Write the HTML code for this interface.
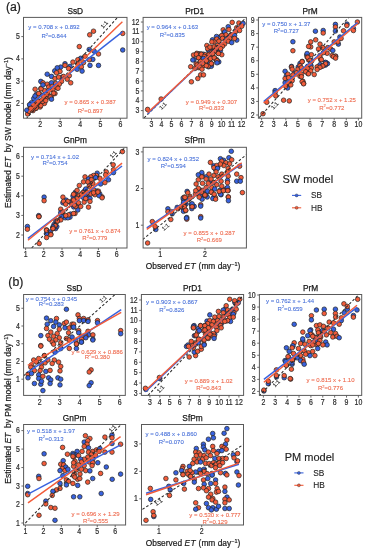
<!DOCTYPE html><html><head><meta charset="utf-8"><style>html,body{margin:0;padding:0;background:#fff;}svg{display:block;will-change:transform;filter:blur(0.3px);}</style></head><body>
<svg width="365" height="550" viewBox="0 0 365 550" font-family='"Liberation Sans", sans-serif'>
<rect width="365" height="550" fill="#fff"/>
<clipPath id="ca1"><rect x="23.5" y="17.4" width="103.50" height="100.80"/></clipPath>
<g clip-path="url(#ca1)">
<circle cx="65.0" cy="63.7" r="2.3" fill="#3862de" stroke="#222" stroke-width="0.7"/>
<circle cx="54.7" cy="70.9" r="2.3" fill="#3862de" stroke="#222" stroke-width="0.7"/>
<circle cx="37.6" cy="105.1" r="2.3" fill="#3862de" stroke="#222" stroke-width="0.7"/>
<circle cx="29.9" cy="105.0" r="2.3" fill="#3862de" stroke="#222" stroke-width="0.7"/>
<circle cx="36.5" cy="105.1" r="2.3" fill="#3862de" stroke="#222" stroke-width="0.7"/>
<circle cx="41.3" cy="103.0" r="2.3" fill="#3862de" stroke="#222" stroke-width="0.7"/>
<circle cx="34.4" cy="102.7" r="2.3" fill="#3862de" stroke="#222" stroke-width="0.7"/>
<circle cx="51.4" cy="88.5" r="2.3" fill="#3862de" stroke="#222" stroke-width="0.7"/>
<circle cx="54.2" cy="84.4" r="2.3" fill="#3862de" stroke="#222" stroke-width="0.7"/>
<circle cx="122.7" cy="33.4" r="2.3" fill="#f25c3a" stroke="#222" stroke-width="0.7"/>
<circle cx="122.7" cy="50.0" r="2.3" fill="#3862de" stroke="#222" stroke-width="0.7"/>
<circle cx="93.5" cy="31.2" r="2.3" fill="#f25c3a" stroke="#222" stroke-width="0.7"/>
<circle cx="89.7" cy="34.8" r="2.3" fill="#f25c3a" stroke="#222" stroke-width="0.7"/>
<circle cx="79.3" cy="46.6" r="2.3" fill="#f25c3a" stroke="#222" stroke-width="0.7"/>
<circle cx="89.2" cy="49.5" r="2.3" fill="#3862de" stroke="#222" stroke-width="0.7"/>
<circle cx="94.2" cy="51.2" r="2.3" fill="#3862de" stroke="#222" stroke-width="0.7"/>
<circle cx="98.5" cy="54.0" r="2.3" fill="#f25c3a" stroke="#222" stroke-width="0.7"/>
<circle cx="85.0" cy="56.2" r="2.3" fill="#f25c3a" stroke="#222" stroke-width="0.7"/>
<circle cx="80.7" cy="58.3" r="2.3" fill="#3862de" stroke="#222" stroke-width="0.7"/>
<circle cx="77.8" cy="59.7" r="2.3" fill="#f25c3a" stroke="#222" stroke-width="0.7"/>
<circle cx="92.8" cy="59.4" r="2.3" fill="#3862de" stroke="#222" stroke-width="0.7"/>
<circle cx="89.2" cy="59.7" r="2.3" fill="#f25c3a" stroke="#222" stroke-width="0.7"/>
<circle cx="83.5" cy="62.6" r="2.3" fill="#f25c3a" stroke="#222" stroke-width="0.7"/>
<circle cx="90.0" cy="65.4" r="2.3" fill="#3862de" stroke="#222" stroke-width="0.7"/>
<circle cx="98.5" cy="65.4" r="2.3" fill="#3862de" stroke="#222" stroke-width="0.7"/>
<circle cx="77.8" cy="64.0" r="2.3" fill="#f25c3a" stroke="#222" stroke-width="0.7"/>
<circle cx="81.4" cy="66.9" r="2.3" fill="#f25c3a" stroke="#222" stroke-width="0.7"/>
<circle cx="82.1" cy="71.1" r="2.3" fill="#3862de" stroke="#222" stroke-width="0.7"/>
<circle cx="77.1" cy="69.3" r="2.3" fill="#3862de" stroke="#222" stroke-width="0.7"/>
<circle cx="72.9" cy="62.1" r="2.3" fill="#f25c3a" stroke="#222" stroke-width="0.7"/>
<circle cx="65.0" cy="65.4" r="2.3" fill="#f25c3a" stroke="#222" stroke-width="0.7"/>
<circle cx="70.0" cy="66.4" r="2.3" fill="#3862de" stroke="#222" stroke-width="0.7"/>
<circle cx="60.7" cy="67.1" r="2.3" fill="#3862de" stroke="#222" stroke-width="0.7"/>
<circle cx="57.2" cy="67.8" r="2.3" fill="#3862de" stroke="#222" stroke-width="0.7"/>
<circle cx="60.0" cy="71.4" r="2.3" fill="#f25c3a" stroke="#222" stroke-width="0.7"/>
<circle cx="56.5" cy="72.8" r="2.3" fill="#f25c3a" stroke="#222" stroke-width="0.7"/>
<circle cx="47.2" cy="74.2" r="2.3" fill="#3862de" stroke="#222" stroke-width="0.7"/>
<circle cx="51.5" cy="76.4" r="2.3" fill="#3862de" stroke="#222" stroke-width="0.7"/>
<circle cx="55.0" cy="78.5" r="2.3" fill="#f25c3a" stroke="#222" stroke-width="0.7"/>
<circle cx="62.2" cy="77.1" r="2.3" fill="#3862de" stroke="#222" stroke-width="0.7"/>
<circle cx="68.6" cy="68.5" r="2.3" fill="#f25c3a" stroke="#222" stroke-width="0.7"/>
<circle cx="69.3" cy="75.7" r="2.3" fill="#f25c3a" stroke="#222" stroke-width="0.7"/>
<circle cx="67.2" cy="79.2" r="2.3" fill="#f25c3a" stroke="#222" stroke-width="0.7"/>
<circle cx="70.7" cy="82.8" r="2.3" fill="#f25c3a" stroke="#222" stroke-width="0.7"/>
<circle cx="61.5" cy="81.4" r="2.3" fill="#f25c3a" stroke="#222" stroke-width="0.7"/>
<circle cx="40.8" cy="81.4" r="2.3" fill="#3862de" stroke="#222" stroke-width="0.7"/>
<circle cx="43.0" cy="82.8" r="2.3" fill="#f25c3a" stroke="#222" stroke-width="0.7"/>
<circle cx="47.2" cy="84.2" r="2.3" fill="#f25c3a" stroke="#222" stroke-width="0.7"/>
<circle cx="51.5" cy="82.8" r="2.3" fill="#3862de" stroke="#222" stroke-width="0.7"/>
<circle cx="59.3" cy="84.2" r="2.3" fill="#f25c3a" stroke="#222" stroke-width="0.7"/>
<circle cx="57.2" cy="87.8" r="2.3" fill="#f25c3a" stroke="#222" stroke-width="0.7"/>
<circle cx="48.6" cy="87.1" r="2.3" fill="#f25c3a" stroke="#222" stroke-width="0.7"/>
<circle cx="40.8" cy="88.5" r="2.3" fill="#f25c3a" stroke="#222" stroke-width="0.7"/>
<circle cx="44.4" cy="90.6" r="2.3" fill="#f25c3a" stroke="#222" stroke-width="0.7"/>
<circle cx="52.9" cy="89.9" r="2.3" fill="#f25c3a" stroke="#222" stroke-width="0.7"/>
<circle cx="55.0" cy="93.5" r="2.3" fill="#f25c3a" stroke="#222" stroke-width="0.7"/>
<circle cx="47.9" cy="94.2" r="2.3" fill="#f25c3a" stroke="#222" stroke-width="0.7"/>
<circle cx="51.5" cy="96.3" r="2.3" fill="#f25c3a" stroke="#222" stroke-width="0.7"/>
<circle cx="36.5" cy="94.2" r="2.3" fill="#3862de" stroke="#222" stroke-width="0.7"/>
<circle cx="38.0" cy="96.3" r="2.3" fill="#f25c3a" stroke="#222" stroke-width="0.7"/>
<circle cx="45.8" cy="98.5" r="2.3" fill="#f25c3a" stroke="#222" stroke-width="0.7"/>
<circle cx="41.5" cy="100.6" r="2.3" fill="#f25c3a" stroke="#222" stroke-width="0.7"/>
<circle cx="33.7" cy="98.5" r="2.3" fill="#3862de" stroke="#222" stroke-width="0.7"/>
<circle cx="35.8" cy="102.0" r="2.3" fill="#f25c3a" stroke="#222" stroke-width="0.7"/>
<circle cx="38.7" cy="103.4" r="2.3" fill="#f25c3a" stroke="#222" stroke-width="0.7"/>
<circle cx="44.4" cy="103.4" r="2.3" fill="#f25c3a" stroke="#222" stroke-width="0.7"/>
<circle cx="30.1" cy="105.6" r="2.3" fill="#3862de" stroke="#222" stroke-width="0.7"/>
<circle cx="32.3" cy="106.3" r="2.3" fill="#f25c3a" stroke="#222" stroke-width="0.7"/>
<circle cx="28.7" cy="109.9" r="2.3" fill="#f25c3a" stroke="#222" stroke-width="0.7"/>
<circle cx="35.8" cy="108.4" r="2.3" fill="#f25c3a" stroke="#222" stroke-width="0.7"/>
<circle cx="40.1" cy="107.0" r="2.3" fill="#f25c3a" stroke="#222" stroke-width="0.7"/>
<circle cx="33.0" cy="110.6" r="2.3" fill="#f25c3a" stroke="#222" stroke-width="0.7"/>
<circle cx="31.5" cy="102.7" r="2.3" fill="#3862de" stroke="#222" stroke-width="0.7"/>
<circle cx="27.6" cy="114.0" r="2.3" fill="#f25c3a" stroke="#222" stroke-width="0.7"/>
<circle cx="29.0" cy="111.3" r="2.3" fill="#f25c3a" stroke="#222" stroke-width="0.7"/>
<circle cx="26.8" cy="110.2" r="2.3" fill="#3862de" stroke="#222" stroke-width="0.7"/>
<circle cx="31.8" cy="109.7" r="2.3" fill="#f25c3a" stroke="#222" stroke-width="0.7"/>
<circle cx="34.0" cy="105.3" r="2.3" fill="#f25c3a" stroke="#222" stroke-width="0.7"/>
<circle cx="37.2" cy="104.7" r="2.3" fill="#f25c3a" stroke="#222" stroke-width="0.7"/>
<circle cx="39.4" cy="104.2" r="2.3" fill="#f25c3a" stroke="#222" stroke-width="0.7"/>
<circle cx="36.2" cy="108.0" r="2.3" fill="#f25c3a" stroke="#222" stroke-width="0.7"/>
<circle cx="46.0" cy="98.7" r="2.3" fill="#f25c3a" stroke="#222" stroke-width="0.7"/>
<circle cx="50.4" cy="97.0" r="2.3" fill="#f25c3a" stroke="#222" stroke-width="0.7"/>
<circle cx="53.7" cy="93.2" r="2.3" fill="#f25c3a" stroke="#222" stroke-width="0.7"/>
<circle cx="58.0" cy="88.3" r="2.3" fill="#f25c3a" stroke="#222" stroke-width="0.7"/>
<circle cx="41.1" cy="88.8" r="2.3" fill="#f25c3a" stroke="#222" stroke-width="0.7"/>
<circle cx="29.6" cy="104.7" r="2.3" fill="#3862de" stroke="#222" stroke-width="0.7"/>
<circle cx="35.0" cy="96.0" r="2.3" fill="#3862de" stroke="#222" stroke-width="0.7"/>
<circle cx="39.4" cy="93.8" r="2.3" fill="#f25c3a" stroke="#222" stroke-width="0.7"/>
<circle cx="42.7" cy="101.4" r="2.3" fill="#f25c3a" stroke="#222" stroke-width="0.7"/>
<circle cx="51.5" cy="99.2" r="2.3" fill="#3862de" stroke="#222" stroke-width="0.7"/>
<circle cx="35.1" cy="89.2" r="2.3" fill="#f25c3a" stroke="#222" stroke-width="0.7"/>
<circle cx="38.7" cy="93.5" r="2.3" fill="#f25c3a" stroke="#222" stroke-width="0.7"/>
<circle cx="43.0" cy="95.6" r="2.3" fill="#f25c3a" stroke="#222" stroke-width="0.7"/>
<circle cx="38.0" cy="101.3" r="2.3" fill="#f25c3a" stroke="#222" stroke-width="0.7"/>
<circle cx="33.0" cy="104.2" r="2.3" fill="#f25c3a" stroke="#222" stroke-width="0.7"/>
<circle cx="48.6" cy="90.6" r="2.3" fill="#f25c3a" stroke="#222" stroke-width="0.7"/>
<circle cx="52.2" cy="86.4" r="2.3" fill="#f25c3a" stroke="#222" stroke-width="0.7"/>
<circle cx="55.8" cy="83.5" r="2.3" fill="#f25c3a" stroke="#222" stroke-width="0.7"/>
<circle cx="63.6" cy="76.4" r="2.3" fill="#f25c3a" stroke="#222" stroke-width="0.7"/>
<circle cx="58.6" cy="77.1" r="2.3" fill="#f25c3a" stroke="#222" stroke-width="0.7"/>
<circle cx="42.9" cy="84.9" r="2.3" fill="#3862de" stroke="#222" stroke-width="0.7"/>
<circle cx="45.8" cy="100.6" r="2.3" fill="#f25c3a" stroke="#222" stroke-width="0.7"/>
<circle cx="40.8" cy="105.6" r="2.3" fill="#f25c3a" stroke="#222" stroke-width="0.7"/>
<circle cx="30.8" cy="108.4" r="2.3" fill="#f25c3a" stroke="#222" stroke-width="0.7"/>
<line x1="-60.25" y1="214.75" x2="401.36" y2="-297.46" stroke="#2a2a2a" stroke-width="1.05" stroke-dasharray="2.6,2.0"/>
<line x1="28.46" y1="105.69" x2="122.39" y2="31.90" stroke="#3862de" stroke-width="1.45"/>
<line x1="28.46" y1="111.97" x2="122.39" y2="21.81" stroke="#f25c3a" stroke-width="1.45"/>
<text transform="translate(104.19999999999999,24.6) rotate(-48.0)" font-size="5.6" text-anchor="middle" dominant-baseline="central" fill="#333" stroke="#333" stroke-width="0.15">1:1</text>
</g>
<rect x="23.5" y="17.4" width="103.50" height="100.80" fill="none" stroke="#5a5a5a" stroke-width="1"/>
<line x1="40.10" y1="118.2" x2="40.10" y2="120.40" stroke="#5a5a5a" stroke-width="0.9"/>
<text transform="translate(40.10,127.30) scale(0.83,1)" font-size="8.4" text-anchor="middle" fill="#2e2e2e" stroke="#2e2e2e" stroke-width="0.22">2</text>
<line x1="60.17" y1="118.2" x2="60.17" y2="120.40" stroke="#5a5a5a" stroke-width="0.9"/>
<text transform="translate(60.17,127.30) scale(0.83,1)" font-size="8.4" text-anchor="middle" fill="#2e2e2e" stroke="#2e2e2e" stroke-width="0.22">3</text>
<line x1="80.24" y1="118.2" x2="80.24" y2="120.40" stroke="#5a5a5a" stroke-width="0.9"/>
<text transform="translate(80.24,127.30) scale(0.83,1)" font-size="8.4" text-anchor="middle" fill="#2e2e2e" stroke="#2e2e2e" stroke-width="0.22">4</text>
<line x1="100.31" y1="118.2" x2="100.31" y2="120.40" stroke="#5a5a5a" stroke-width="0.9"/>
<text transform="translate(100.31,127.30) scale(0.83,1)" font-size="8.4" text-anchor="middle" fill="#2e2e2e" stroke="#2e2e2e" stroke-width="0.22">5</text>
<line x1="120.38" y1="118.2" x2="120.38" y2="120.40" stroke="#5a5a5a" stroke-width="0.9"/>
<text transform="translate(120.38,127.30) scale(0.83,1)" font-size="8.4" text-anchor="middle" fill="#2e2e2e" stroke="#2e2e2e" stroke-width="0.22">6</text>
<line x1="21.30" y1="103.40" x2="23.5" y2="103.40" stroke="#5a5a5a" stroke-width="0.9"/>
<text transform="translate(19.80,106.00) scale(0.83,1)" font-size="8.4" text-anchor="end" fill="#2e2e2e" stroke="#2e2e2e" stroke-width="0.22">2</text>
<line x1="21.30" y1="81.13" x2="23.5" y2="81.13" stroke="#5a5a5a" stroke-width="0.9"/>
<text transform="translate(19.80,83.73) scale(0.83,1)" font-size="8.4" text-anchor="end" fill="#2e2e2e" stroke="#2e2e2e" stroke-width="0.22">3</text>
<line x1="21.30" y1="58.86" x2="23.5" y2="58.86" stroke="#5a5a5a" stroke-width="0.9"/>
<text transform="translate(19.80,61.46) scale(0.83,1)" font-size="8.4" text-anchor="end" fill="#2e2e2e" stroke="#2e2e2e" stroke-width="0.22">4</text>
<line x1="21.30" y1="36.59" x2="23.5" y2="36.59" stroke="#5a5a5a" stroke-width="0.9"/>
<text transform="translate(19.80,39.19) scale(0.83,1)" font-size="8.4" text-anchor="end" fill="#2e2e2e" stroke="#2e2e2e" stroke-width="0.22">5</text>
<text x="75.25" y="13.50" font-size="8.3" text-anchor="middle" fill="#1a1a1a" stroke="#1a1a1a" stroke-width="0.25">SsD</text>
<text x="54.0" y="29.10" font-size="6.0" text-anchor="middle" fill="#4a72da" stroke="#4a72da" stroke-width="0.1">y = 0.708 x + 0.892</text>
<text x="54.0" y="37.70" font-size="6.0" text-anchor="middle" fill="#4a72da" stroke="#4a72da" stroke-width="0.1">R<tspan font-size="4" dy="-2.2">2</tspan><tspan dy="2.2">=</tspan>0.844</text>
<text x="90.2" y="104.30" font-size="6.0" text-anchor="middle" fill="#ee6a4e" stroke="#ee6a4e" stroke-width="0.1">y = 0.865 x + 0.387</text>
<text x="90.2" y="112.70" font-size="6.0" text-anchor="middle" fill="#ee6a4e" stroke="#ee6a4e" stroke-width="0.1">R<tspan font-size="4" dy="-2.2">2</tspan><tspan dy="2.2">=</tspan>0.897</text>
<clipPath id="ca2"><rect x="143.1" y="17.4" width="103.30" height="100.80"/></clipPath>
<g clip-path="url(#ca2)">
<circle cx="229.7" cy="36.6" r="2.3" fill="#3862de" stroke="#222" stroke-width="0.7"/>
<circle cx="223.5" cy="34.3" r="2.3" fill="#3862de" stroke="#222" stroke-width="0.7"/>
<circle cx="224.1" cy="36.5" r="2.3" fill="#3862de" stroke="#222" stroke-width="0.7"/>
<circle cx="236.8" cy="40.1" r="2.3" fill="#3862de" stroke="#222" stroke-width="0.7"/>
<circle cx="229.3" cy="40.7" r="2.3" fill="#3862de" stroke="#222" stroke-width="0.7"/>
<circle cx="220.2" cy="36.9" r="2.3" fill="#3862de" stroke="#222" stroke-width="0.7"/>
<circle cx="216.5" cy="36.5" r="2.3" fill="#3862de" stroke="#222" stroke-width="0.7"/>
<circle cx="210.7" cy="50.3" r="2.3" fill="#3862de" stroke="#222" stroke-width="0.7"/>
<circle cx="199.0" cy="53.8" r="2.3" fill="#3862de" stroke="#222" stroke-width="0.7"/>
<circle cx="203.4" cy="54.2" r="2.3" fill="#3862de" stroke="#222" stroke-width="0.7"/>
<circle cx="205.8" cy="56.8" r="2.3" fill="#3862de" stroke="#222" stroke-width="0.7"/>
<circle cx="212.1" cy="57.5" r="2.3" fill="#3862de" stroke="#222" stroke-width="0.7"/>
<circle cx="208.8" cy="62.1" r="2.3" fill="#3862de" stroke="#222" stroke-width="0.7"/>
<circle cx="203.3" cy="65.2" r="2.3" fill="#3862de" stroke="#222" stroke-width="0.7"/>
<circle cx="208.5" cy="66.8" r="2.3" fill="#3862de" stroke="#222" stroke-width="0.7"/>
<circle cx="211.3" cy="66.3" r="2.3" fill="#3862de" stroke="#222" stroke-width="0.7"/>
<circle cx="212.7" cy="57.1" r="2.3" fill="#3862de" stroke="#222" stroke-width="0.7"/>
<circle cx="218.8" cy="61.9" r="2.3" fill="#3862de" stroke="#222" stroke-width="0.7"/>
<circle cx="216.7" cy="51.8" r="2.3" fill="#3862de" stroke="#222" stroke-width="0.7"/>
<circle cx="214.2" cy="47.9" r="2.3" fill="#3862de" stroke="#222" stroke-width="0.7"/>
<circle cx="232.2" cy="22.4" r="2.3" fill="#f25c3a" stroke="#222" stroke-width="0.7"/>
<circle cx="238.9" cy="23.0" r="2.3" fill="#f25c3a" stroke="#222" stroke-width="0.7"/>
<circle cx="243.1" cy="23.4" r="2.3" fill="#3862de" stroke="#222" stroke-width="0.7"/>
<circle cx="241.7" cy="26.3" r="2.3" fill="#f25c3a" stroke="#222" stroke-width="0.7"/>
<circle cx="236.7" cy="27.7" r="2.3" fill="#f25c3a" stroke="#222" stroke-width="0.7"/>
<circle cx="228.2" cy="26.7" r="2.3" fill="#3862de" stroke="#222" stroke-width="0.7"/>
<circle cx="228.9" cy="29.5" r="2.3" fill="#f25c3a" stroke="#222" stroke-width="0.7"/>
<circle cx="223.2" cy="29.8" r="2.3" fill="#f25c3a" stroke="#222" stroke-width="0.7"/>
<circle cx="239.6" cy="30.5" r="2.3" fill="#f25c3a" stroke="#222" stroke-width="0.7"/>
<circle cx="224.6" cy="32.0" r="2.3" fill="#3862de" stroke="#222" stroke-width="0.7"/>
<circle cx="235.3" cy="32.0" r="2.3" fill="#f25c3a" stroke="#222" stroke-width="0.7"/>
<circle cx="231.0" cy="34.8" r="2.3" fill="#f25c3a" stroke="#222" stroke-width="0.7"/>
<circle cx="226.0" cy="34.8" r="2.3" fill="#f25c3a" stroke="#222" stroke-width="0.7"/>
<circle cx="234.6" cy="35.5" r="2.3" fill="#3862de" stroke="#222" stroke-width="0.7"/>
<circle cx="221.8" cy="35.5" r="2.3" fill="#f25c3a" stroke="#222" stroke-width="0.7"/>
<circle cx="234.6" cy="38.4" r="2.3" fill="#f25c3a" stroke="#222" stroke-width="0.7"/>
<circle cx="229.6" cy="38.4" r="2.3" fill="#f25c3a" stroke="#222" stroke-width="0.7"/>
<circle cx="222.5" cy="38.4" r="2.3" fill="#f25c3a" stroke="#222" stroke-width="0.7"/>
<circle cx="212.5" cy="39.8" r="2.3" fill="#3862de" stroke="#222" stroke-width="0.7"/>
<circle cx="216.8" cy="39.1" r="2.3" fill="#f25c3a" stroke="#222" stroke-width="0.7"/>
<circle cx="214.0" cy="41.9" r="2.3" fill="#f25c3a" stroke="#222" stroke-width="0.7"/>
<circle cx="211.8" cy="41.9" r="2.3" fill="#f25c3a" stroke="#222" stroke-width="0.7"/>
<circle cx="218.9" cy="41.2" r="2.3" fill="#f25c3a" stroke="#222" stroke-width="0.7"/>
<circle cx="228.2" cy="41.2" r="2.3" fill="#f25c3a" stroke="#222" stroke-width="0.7"/>
<circle cx="231.7" cy="42.6" r="2.3" fill="#3862de" stroke="#222" stroke-width="0.7"/>
<circle cx="224.6" cy="44.0" r="2.3" fill="#f25c3a" stroke="#222" stroke-width="0.7"/>
<circle cx="217.5" cy="45.5" r="2.3" fill="#f25c3a" stroke="#222" stroke-width="0.7"/>
<circle cx="222.5" cy="46.2" r="2.3" fill="#f25c3a" stroke="#222" stroke-width="0.7"/>
<circle cx="206.8" cy="45.5" r="2.3" fill="#f25c3a" stroke="#222" stroke-width="0.7"/>
<circle cx="210.4" cy="47.6" r="2.3" fill="#f25c3a" stroke="#222" stroke-width="0.7"/>
<circle cx="214.0" cy="46.9" r="2.3" fill="#f25c3a" stroke="#222" stroke-width="0.7"/>
<circle cx="218.9" cy="49.0" r="2.3" fill="#f25c3a" stroke="#222" stroke-width="0.7"/>
<circle cx="214.7" cy="51.2" r="2.3" fill="#f25c3a" stroke="#222" stroke-width="0.7"/>
<circle cx="209.7" cy="51.9" r="2.3" fill="#f25c3a" stroke="#222" stroke-width="0.7"/>
<circle cx="220.4" cy="50.5" r="2.3" fill="#3862de" stroke="#222" stroke-width="0.7"/>
<circle cx="218.2" cy="53.3" r="2.3" fill="#f25c3a" stroke="#222" stroke-width="0.7"/>
<circle cx="221.8" cy="54.7" r="2.3" fill="#f25c3a" stroke="#222" stroke-width="0.7"/>
<circle cx="208.2" cy="49.8" r="2.3" fill="#3862de" stroke="#222" stroke-width="0.7"/>
<circle cx="201.1" cy="54.0" r="2.3" fill="#f25c3a" stroke="#222" stroke-width="0.7"/>
<circle cx="196.8" cy="53.3" r="2.3" fill="#f25c3a" stroke="#222" stroke-width="0.7"/>
<circle cx="205.4" cy="54.7" r="2.3" fill="#f25c3a" stroke="#222" stroke-width="0.7"/>
<circle cx="208.2" cy="56.9" r="2.3" fill="#f25c3a" stroke="#222" stroke-width="0.7"/>
<circle cx="212.5" cy="55.5" r="2.3" fill="#f25c3a" stroke="#222" stroke-width="0.7"/>
<circle cx="214.7" cy="58.3" r="2.3" fill="#f25c3a" stroke="#222" stroke-width="0.7"/>
<circle cx="216.8" cy="61.2" r="2.3" fill="#3862de" stroke="#222" stroke-width="0.7"/>
<circle cx="216.8" cy="59.7" r="2.3" fill="#f25c3a" stroke="#222" stroke-width="0.7"/>
<circle cx="198.3" cy="57.6" r="2.3" fill="#f25c3a" stroke="#222" stroke-width="0.7"/>
<circle cx="202.5" cy="59.0" r="2.3" fill="#f25c3a" stroke="#222" stroke-width="0.7"/>
<circle cx="209.7" cy="59.7" r="2.3" fill="#f25c3a" stroke="#222" stroke-width="0.7"/>
<circle cx="205.4" cy="62.6" r="2.3" fill="#f25c3a" stroke="#222" stroke-width="0.7"/>
<circle cx="199.7" cy="62.6" r="2.3" fill="#f25c3a" stroke="#222" stroke-width="0.7"/>
<circle cx="211.8" cy="64.0" r="2.3" fill="#f25c3a" stroke="#222" stroke-width="0.7"/>
<circle cx="194.0" cy="59.7" r="2.3" fill="#3862de" stroke="#222" stroke-width="0.7"/>
<circle cx="196.1" cy="64.0" r="2.3" fill="#f25c3a" stroke="#222" stroke-width="0.7"/>
<circle cx="202.5" cy="66.1" r="2.3" fill="#f25c3a" stroke="#222" stroke-width="0.7"/>
<circle cx="208.2" cy="66.1" r="2.3" fill="#f25c3a" stroke="#222" stroke-width="0.7"/>
<circle cx="198.3" cy="67.6" r="2.3" fill="#f25c3a" stroke="#222" stroke-width="0.7"/>
<circle cx="191.4" cy="81.8" r="2.3" fill="#f25c3a" stroke="#222" stroke-width="0.7"/>
<circle cx="197.8" cy="78.5" r="2.3" fill="#f25c3a" stroke="#222" stroke-width="0.7"/>
<circle cx="200.6" cy="74.9" r="2.3" fill="#f25c3a" stroke="#222" stroke-width="0.7"/>
<circle cx="203.5" cy="74.9" r="2.3" fill="#f25c3a" stroke="#222" stroke-width="0.7"/>
<circle cx="190.7" cy="66.7" r="2.3" fill="#f25c3a" stroke="#222" stroke-width="0.7"/>
<circle cx="192.8" cy="60.0" r="2.3" fill="#3862de" stroke="#222" stroke-width="0.7"/>
<circle cx="193.5" cy="55.0" r="2.3" fill="#f25c3a" stroke="#222" stroke-width="0.7"/>
<circle cx="196.4" cy="54.3" r="2.3" fill="#f25c3a" stroke="#222" stroke-width="0.7"/>
<circle cx="201.3" cy="54.3" r="2.3" fill="#f25c3a" stroke="#222" stroke-width="0.7"/>
<circle cx="204.2" cy="56.4" r="2.3" fill="#f25c3a" stroke="#222" stroke-width="0.7"/>
<circle cx="208.5" cy="55.0" r="2.3" fill="#f25c3a" stroke="#222" stroke-width="0.7"/>
<circle cx="198.5" cy="57.8" r="2.3" fill="#f25c3a" stroke="#222" stroke-width="0.7"/>
<circle cx="203.5" cy="58.5" r="2.3" fill="#3862de" stroke="#222" stroke-width="0.7"/>
<circle cx="197.1" cy="65.0" r="2.3" fill="#f25c3a" stroke="#222" stroke-width="0.7"/>
<circle cx="200.6" cy="61.4" r="2.3" fill="#f25c3a" stroke="#222" stroke-width="0.7"/>
<circle cx="202.8" cy="63.5" r="2.3" fill="#f25c3a" stroke="#222" stroke-width="0.7"/>
<circle cx="199.9" cy="67.1" r="2.3" fill="#f25c3a" stroke="#222" stroke-width="0.7"/>
<circle cx="202.0" cy="69.2" r="2.3" fill="#f25c3a" stroke="#222" stroke-width="0.7"/>
<circle cx="206.3" cy="65.7" r="2.3" fill="#f25c3a" stroke="#222" stroke-width="0.7"/>
<circle cx="206.3" cy="60.7" r="2.3" fill="#f25c3a" stroke="#222" stroke-width="0.7"/>
<circle cx="210.6" cy="58.5" r="2.3" fill="#f25c3a" stroke="#222" stroke-width="0.7"/>
<circle cx="211.3" cy="63.5" r="2.3" fill="#f25c3a" stroke="#222" stroke-width="0.7"/>
<circle cx="214.2" cy="57.8" r="2.3" fill="#f25c3a" stroke="#222" stroke-width="0.7"/>
<circle cx="217.0" cy="60.7" r="2.3" fill="#f25c3a" stroke="#222" stroke-width="0.7"/>
<circle cx="217.0" cy="62.8" r="2.3" fill="#3862de" stroke="#222" stroke-width="0.7"/>
<circle cx="212.7" cy="53.5" r="2.3" fill="#f25c3a" stroke="#222" stroke-width="0.7"/>
<circle cx="218.4" cy="53.5" r="2.3" fill="#f25c3a" stroke="#222" stroke-width="0.7"/>
<circle cx="207.7" cy="48.6" r="2.3" fill="#f25c3a" stroke="#222" stroke-width="0.7"/>
<circle cx="209.9" cy="47.1" r="2.3" fill="#f25c3a" stroke="#222" stroke-width="0.7"/>
<circle cx="217.0" cy="47.8" r="2.3" fill="#f25c3a" stroke="#222" stroke-width="0.7"/>
<circle cx="220.6" cy="48.6" r="2.3" fill="#f25c3a" stroke="#222" stroke-width="0.7"/>
<circle cx="194.9" cy="68.5" r="2.3" fill="#f25c3a" stroke="#222" stroke-width="0.7"/>
<circle cx="147.6" cy="109.4" r="2.3" fill="#f25c3a" stroke="#222" stroke-width="0.7"/>
<circle cx="161.1" cy="99.0" r="2.3" fill="#f25c3a" stroke="#222" stroke-width="0.7"/>
<line x1="101.45" y1="159.80" x2="321.67" y2="-56.68" stroke="#2a2a2a" stroke-width="1.05" stroke-dasharray="2.6,2.0"/>
<line x1="147.60" y1="113.76" x2="243.09" y2="23.26" stroke="#3862de" stroke-width="1.45"/>
<line x1="147.60" y1="112.73" x2="243.09" y2="23.64" stroke="#f25c3a" stroke-width="1.45"/>
<text transform="translate(162.9,105.8) rotate(-44.5)" font-size="5.6" text-anchor="middle" dominant-baseline="central" fill="#333" stroke="#333" stroke-width="0.15">1:1</text>
</g>
<rect x="143.1" y="17.4" width="103.30" height="100.80" fill="none" stroke="#5a5a5a" stroke-width="1"/>
<line x1="151.50" y1="118.2" x2="151.50" y2="120.40" stroke="#5a5a5a" stroke-width="0.9"/>
<text transform="translate(151.50,127.30) scale(0.83,1)" font-size="8.4" text-anchor="middle" fill="#2e2e2e" stroke="#2e2e2e" stroke-width="0.22">3</text>
<line x1="161.51" y1="118.2" x2="161.51" y2="120.40" stroke="#5a5a5a" stroke-width="0.9"/>
<text transform="translate(161.51,127.30) scale(0.83,1)" font-size="8.4" text-anchor="middle" fill="#2e2e2e" stroke="#2e2e2e" stroke-width="0.22">4</text>
<line x1="171.52" y1="118.2" x2="171.52" y2="120.40" stroke="#5a5a5a" stroke-width="0.9"/>
<text transform="translate(171.52,127.30) scale(0.83,1)" font-size="8.4" text-anchor="middle" fill="#2e2e2e" stroke="#2e2e2e" stroke-width="0.22">5</text>
<line x1="181.53" y1="118.2" x2="181.53" y2="120.40" stroke="#5a5a5a" stroke-width="0.9"/>
<text transform="translate(181.53,127.30) scale(0.83,1)" font-size="8.4" text-anchor="middle" fill="#2e2e2e" stroke="#2e2e2e" stroke-width="0.22">6</text>
<line x1="191.54" y1="118.2" x2="191.54" y2="120.40" stroke="#5a5a5a" stroke-width="0.9"/>
<text transform="translate(191.54,127.30) scale(0.83,1)" font-size="8.4" text-anchor="middle" fill="#2e2e2e" stroke="#2e2e2e" stroke-width="0.22">7</text>
<line x1="201.55" y1="118.2" x2="201.55" y2="120.40" stroke="#5a5a5a" stroke-width="0.9"/>
<text transform="translate(201.55,127.30) scale(0.83,1)" font-size="8.4" text-anchor="middle" fill="#2e2e2e" stroke="#2e2e2e" stroke-width="0.22">8</text>
<line x1="211.56" y1="118.2" x2="211.56" y2="120.40" stroke="#5a5a5a" stroke-width="0.9"/>
<text transform="translate(211.56,127.30) scale(0.83,1)" font-size="8.4" text-anchor="middle" fill="#2e2e2e" stroke="#2e2e2e" stroke-width="0.22">9</text>
<line x1="221.57" y1="118.2" x2="221.57" y2="120.40" stroke="#5a5a5a" stroke-width="0.9"/>
<text transform="translate(221.57,127.30) scale(0.83,1)" font-size="8.4" text-anchor="middle" fill="#2e2e2e" stroke="#2e2e2e" stroke-width="0.22">10</text>
<line x1="231.58" y1="118.2" x2="231.58" y2="120.40" stroke="#5a5a5a" stroke-width="0.9"/>
<text transform="translate(231.58,127.30) scale(0.83,1)" font-size="8.4" text-anchor="middle" fill="#2e2e2e" stroke="#2e2e2e" stroke-width="0.22">11</text>
<line x1="241.59" y1="118.2" x2="241.59" y2="120.40" stroke="#5a5a5a" stroke-width="0.9"/>
<text transform="translate(241.59,127.30) scale(0.83,1)" font-size="8.4" text-anchor="middle" fill="#2e2e2e" stroke="#2e2e2e" stroke-width="0.22">12</text>
<line x1="140.90" y1="110.60" x2="143.1" y2="110.60" stroke="#5a5a5a" stroke-width="0.9"/>
<text transform="translate(139.40,113.20) scale(0.83,1)" font-size="8.4" text-anchor="end" fill="#2e2e2e" stroke="#2e2e2e" stroke-width="0.22">3</text>
<line x1="140.90" y1="100.76" x2="143.1" y2="100.76" stroke="#5a5a5a" stroke-width="0.9"/>
<text transform="translate(139.40,103.36) scale(0.83,1)" font-size="8.4" text-anchor="end" fill="#2e2e2e" stroke="#2e2e2e" stroke-width="0.22">4</text>
<line x1="140.90" y1="90.92" x2="143.1" y2="90.92" stroke="#5a5a5a" stroke-width="0.9"/>
<text transform="translate(139.40,93.52) scale(0.83,1)" font-size="8.4" text-anchor="end" fill="#2e2e2e" stroke="#2e2e2e" stroke-width="0.22">5</text>
<line x1="140.90" y1="81.08" x2="143.1" y2="81.08" stroke="#5a5a5a" stroke-width="0.9"/>
<text transform="translate(139.40,83.68) scale(0.83,1)" font-size="8.4" text-anchor="end" fill="#2e2e2e" stroke="#2e2e2e" stroke-width="0.22">6</text>
<line x1="140.90" y1="71.24" x2="143.1" y2="71.24" stroke="#5a5a5a" stroke-width="0.9"/>
<text transform="translate(139.40,73.84) scale(0.83,1)" font-size="8.4" text-anchor="end" fill="#2e2e2e" stroke="#2e2e2e" stroke-width="0.22">7</text>
<line x1="140.90" y1="61.40" x2="143.1" y2="61.40" stroke="#5a5a5a" stroke-width="0.9"/>
<text transform="translate(139.40,64.00) scale(0.83,1)" font-size="8.4" text-anchor="end" fill="#2e2e2e" stroke="#2e2e2e" stroke-width="0.22">8</text>
<line x1="140.90" y1="51.56" x2="143.1" y2="51.56" stroke="#5a5a5a" stroke-width="0.9"/>
<text transform="translate(139.40,54.16) scale(0.83,1)" font-size="8.4" text-anchor="end" fill="#2e2e2e" stroke="#2e2e2e" stroke-width="0.22">9</text>
<line x1="140.90" y1="41.72" x2="143.1" y2="41.72" stroke="#5a5a5a" stroke-width="0.9"/>
<text transform="translate(139.40,44.32) scale(0.83,1)" font-size="8.4" text-anchor="end" fill="#2e2e2e" stroke="#2e2e2e" stroke-width="0.22">10</text>
<line x1="140.90" y1="31.88" x2="143.1" y2="31.88" stroke="#5a5a5a" stroke-width="0.9"/>
<text transform="translate(139.40,34.48) scale(0.83,1)" font-size="8.4" text-anchor="end" fill="#2e2e2e" stroke="#2e2e2e" stroke-width="0.22">11</text>
<line x1="140.90" y1="22.04" x2="143.1" y2="22.04" stroke="#5a5a5a" stroke-width="0.9"/>
<text transform="translate(139.40,24.64) scale(0.83,1)" font-size="8.4" text-anchor="end" fill="#2e2e2e" stroke="#2e2e2e" stroke-width="0.22">12</text>
<text x="194.75" y="13.50" font-size="8.3" text-anchor="middle" fill="#1a1a1a" stroke="#1a1a1a" stroke-width="0.25">PrD1</text>
<text x="172.4" y="28.70" font-size="6.0" text-anchor="middle" fill="#4a72da" stroke="#4a72da" stroke-width="0.1">y = 0.964 x + 0.163</text>
<text x="172.4" y="37.00" font-size="6.0" text-anchor="middle" fill="#4a72da" stroke="#4a72da" stroke-width="0.1">R<tspan font-size="4" dy="-2.2">2</tspan><tspan dy="2.2">=</tspan>0.835</text>
<text x="211.5" y="103.70" font-size="6.0" text-anchor="middle" fill="#ee6a4e" stroke="#ee6a4e" stroke-width="0.1">y = 0.949 x + 0.307</text>
<text x="211.5" y="110.40" font-size="6.0" text-anchor="middle" fill="#ee6a4e" stroke="#ee6a4e" stroke-width="0.1">R<tspan font-size="4" dy="-2.2">2</tspan><tspan dy="2.2">=</tspan>0.833</text>
<clipPath id="ca3"><rect x="258.4" y="17.4" width="103.30" height="100.80"/></clipPath>
<g clip-path="url(#ca3)">
<circle cx="338.4" cy="44.1" r="2.3" fill="#3862de" stroke="#222" stroke-width="0.7"/>
<circle cx="327.5" cy="63.6" r="2.3" fill="#3862de" stroke="#222" stroke-width="0.7"/>
<circle cx="286.5" cy="75.6" r="2.3" fill="#3862de" stroke="#222" stroke-width="0.7"/>
<circle cx="298.2" cy="67.1" r="2.3" fill="#3862de" stroke="#222" stroke-width="0.7"/>
<circle cx="300.0" cy="69.4" r="2.3" fill="#3862de" stroke="#222" stroke-width="0.7"/>
<circle cx="294.6" cy="73.0" r="2.3" fill="#3862de" stroke="#222" stroke-width="0.7"/>
<circle cx="287.6" cy="88.0" r="2.3" fill="#3862de" stroke="#222" stroke-width="0.7"/>
<circle cx="306.7" cy="55.1" r="2.3" fill="#3862de" stroke="#222" stroke-width="0.7"/>
<circle cx="311.7" cy="61.0" r="2.3" fill="#3862de" stroke="#222" stroke-width="0.7"/>
<circle cx="335.7" cy="56.3" r="2.3" fill="#3862de" stroke="#222" stroke-width="0.7"/>
<circle cx="325.5" cy="65.1" r="2.3" fill="#3862de" stroke="#222" stroke-width="0.7"/>
<circle cx="317.9" cy="67.1" r="2.3" fill="#3862de" stroke="#222" stroke-width="0.7"/>
<circle cx="307.8" cy="66.5" r="2.3" fill="#3862de" stroke="#222" stroke-width="0.7"/>
<circle cx="306.9" cy="70.6" r="2.3" fill="#3862de" stroke="#222" stroke-width="0.7"/>
<circle cx="357.4" cy="22.0" r="2.3" fill="#f25c3a" stroke="#222" stroke-width="0.7"/>
<circle cx="347.0" cy="24.1" r="2.3" fill="#3862de" stroke="#222" stroke-width="0.7"/>
<circle cx="346.8" cy="25.5" r="2.3" fill="#f25c3a" stroke="#222" stroke-width="0.7"/>
<circle cx="335.4" cy="24.4" r="2.3" fill="#3862de" stroke="#222" stroke-width="0.7"/>
<circle cx="335.4" cy="27.0" r="2.3" fill="#f25c3a" stroke="#222" stroke-width="0.7"/>
<circle cx="335.4" cy="31.0" r="2.3" fill="#3862de" stroke="#222" stroke-width="0.7"/>
<circle cx="343.5" cy="30.8" r="2.3" fill="#f25c3a" stroke="#222" stroke-width="0.7"/>
<circle cx="353.4" cy="28.4" r="2.3" fill="#3862de" stroke="#222" stroke-width="0.7"/>
<circle cx="353.4" cy="30.5" r="2.3" fill="#f25c3a" stroke="#222" stroke-width="0.7"/>
<circle cx="315.4" cy="31.2" r="2.3" fill="#3862de" stroke="#222" stroke-width="0.7"/>
<circle cx="323.2" cy="30.5" r="2.3" fill="#3862de" stroke="#222" stroke-width="0.7"/>
<circle cx="323.2" cy="33.0" r="2.3" fill="#f25c3a" stroke="#222" stroke-width="0.7"/>
<circle cx="315.7" cy="39.8" r="2.3" fill="#f25c3a" stroke="#222" stroke-width="0.7"/>
<circle cx="310.7" cy="41.9" r="2.3" fill="#f25c3a" stroke="#222" stroke-width="0.7"/>
<circle cx="339.9" cy="37.0" r="2.3" fill="#3862de" stroke="#222" stroke-width="0.7"/>
<circle cx="341.1" cy="38.4" r="2.3" fill="#f25c3a" stroke="#222" stroke-width="0.7"/>
<circle cx="337.8" cy="41.9" r="2.3" fill="#f25c3a" stroke="#222" stroke-width="0.7"/>
<circle cx="334.2" cy="41.9" r="2.3" fill="#f25c3a" stroke="#222" stroke-width="0.7"/>
<circle cx="320.0" cy="44.1" r="2.3" fill="#f25c3a" stroke="#222" stroke-width="0.7"/>
<circle cx="322.8" cy="47.6" r="2.3" fill="#f25c3a" stroke="#222" stroke-width="0.7"/>
<circle cx="318.5" cy="49.0" r="2.3" fill="#f25c3a" stroke="#222" stroke-width="0.7"/>
<circle cx="327.8" cy="47.6" r="2.3" fill="#f25c3a" stroke="#222" stroke-width="0.7"/>
<circle cx="330.7" cy="49.0" r="2.3" fill="#f25c3a" stroke="#222" stroke-width="0.7"/>
<circle cx="332.8" cy="50.5" r="2.3" fill="#3862de" stroke="#222" stroke-width="0.7"/>
<circle cx="310.7" cy="46.9" r="2.3" fill="#f25c3a" stroke="#222" stroke-width="0.7"/>
<circle cx="327.1" cy="53.3" r="2.3" fill="#f25c3a" stroke="#222" stroke-width="0.7"/>
<circle cx="323.5" cy="52.6" r="2.3" fill="#f25c3a" stroke="#222" stroke-width="0.7"/>
<circle cx="332.1" cy="55.5" r="2.3" fill="#f25c3a" stroke="#222" stroke-width="0.7"/>
<circle cx="335.4" cy="56.2" r="2.3" fill="#f25c3a" stroke="#222" stroke-width="0.7"/>
<circle cx="311.4" cy="54.7" r="2.3" fill="#f25c3a" stroke="#222" stroke-width="0.7"/>
<circle cx="320.0" cy="55.5" r="2.3" fill="#f25c3a" stroke="#222" stroke-width="0.7"/>
<circle cx="320.7" cy="59.7" r="2.3" fill="#f25c3a" stroke="#222" stroke-width="0.7"/>
<circle cx="325.7" cy="62.6" r="2.3" fill="#3862de" stroke="#222" stroke-width="0.7"/>
<circle cx="325.0" cy="64.0" r="2.3" fill="#f25c3a" stroke="#222" stroke-width="0.7"/>
<circle cx="320.0" cy="64.7" r="2.3" fill="#3862de" stroke="#222" stroke-width="0.7"/>
<circle cx="322.1" cy="66.1" r="2.3" fill="#f25c3a" stroke="#222" stroke-width="0.7"/>
<circle cx="317.1" cy="66.9" r="2.3" fill="#f25c3a" stroke="#222" stroke-width="0.7"/>
<circle cx="310.7" cy="65.4" r="2.3" fill="#3862de" stroke="#222" stroke-width="0.7"/>
<circle cx="292.9" cy="41.7" r="2.3" fill="#3862de" stroke="#222" stroke-width="0.7"/>
<circle cx="292.9" cy="50.7" r="2.3" fill="#f25c3a" stroke="#222" stroke-width="0.7"/>
<circle cx="308.6" cy="46.4" r="2.3" fill="#f25c3a" stroke="#222" stroke-width="0.7"/>
<circle cx="307.1" cy="53.5" r="2.3" fill="#3862de" stroke="#222" stroke-width="0.7"/>
<circle cx="307.1" cy="57.1" r="2.3" fill="#f25c3a" stroke="#222" stroke-width="0.7"/>
<circle cx="308.6" cy="59.9" r="2.3" fill="#f25c3a" stroke="#222" stroke-width="0.7"/>
<circle cx="302.2" cy="61.4" r="2.3" fill="#f25c3a" stroke="#222" stroke-width="0.7"/>
<circle cx="300.0" cy="63.5" r="2.3" fill="#3862de" stroke="#222" stroke-width="0.7"/>
<circle cx="300.0" cy="65.6" r="2.3" fill="#f25c3a" stroke="#222" stroke-width="0.7"/>
<circle cx="291.5" cy="66.4" r="2.3" fill="#3862de" stroke="#222" stroke-width="0.7"/>
<circle cx="291.5" cy="67.1" r="2.3" fill="#f25c3a" stroke="#222" stroke-width="0.7"/>
<circle cx="292.2" cy="69.2" r="2.3" fill="#f25c3a" stroke="#222" stroke-width="0.7"/>
<circle cx="285.1" cy="71.3" r="2.3" fill="#3862de" stroke="#222" stroke-width="0.7"/>
<circle cx="287.9" cy="74.2" r="2.3" fill="#f25c3a" stroke="#222" stroke-width="0.7"/>
<circle cx="297.9" cy="69.2" r="2.3" fill="#f25c3a" stroke="#222" stroke-width="0.7"/>
<circle cx="301.4" cy="67.8" r="2.3" fill="#f25c3a" stroke="#222" stroke-width="0.7"/>
<circle cx="296.5" cy="72.8" r="2.3" fill="#f25c3a" stroke="#222" stroke-width="0.7"/>
<circle cx="292.9" cy="74.9" r="2.3" fill="#f25c3a" stroke="#222" stroke-width="0.7"/>
<circle cx="285.1" cy="78.5" r="2.3" fill="#f25c3a" stroke="#222" stroke-width="0.7"/>
<circle cx="288.6" cy="77.7" r="2.3" fill="#f25c3a" stroke="#222" stroke-width="0.7"/>
<circle cx="292.2" cy="80.6" r="2.3" fill="#f25c3a" stroke="#222" stroke-width="0.7"/>
<circle cx="300.0" cy="76.3" r="2.3" fill="#f25c3a" stroke="#222" stroke-width="0.7"/>
<circle cx="305.0" cy="70.6" r="2.3" fill="#f25c3a" stroke="#222" stroke-width="0.7"/>
<circle cx="307.9" cy="73.5" r="2.3" fill="#f25c3a" stroke="#222" stroke-width="0.7"/>
<circle cx="307.1" cy="69.2" r="2.3" fill="#f25c3a" stroke="#222" stroke-width="0.7"/>
<circle cx="285.1" cy="82.7" r="2.3" fill="#3862de" stroke="#222" stroke-width="0.7"/>
<circle cx="287.9" cy="82.7" r="2.3" fill="#f25c3a" stroke="#222" stroke-width="0.7"/>
<circle cx="290.8" cy="84.9" r="2.3" fill="#f25c3a" stroke="#222" stroke-width="0.7"/>
<circle cx="302.9" cy="81.3" r="2.3" fill="#f25c3a" stroke="#222" stroke-width="0.7"/>
<circle cx="303.6" cy="83.4" r="2.3" fill="#f25c3a" stroke="#222" stroke-width="0.7"/>
<circle cx="275.1" cy="90.6" r="2.3" fill="#3862de" stroke="#222" stroke-width="0.7"/>
<circle cx="285.8" cy="86.3" r="2.3" fill="#f25c3a" stroke="#222" stroke-width="0.7"/>
<circle cx="263.0" cy="113.7" r="2.3" fill="#f25c3a" stroke="#222" stroke-width="0.7"/>
<circle cx="266.8" cy="102.3" r="2.3" fill="#f25c3a" stroke="#222" stroke-width="0.7"/>
<circle cx="275.1" cy="92.4" r="2.3" fill="#3862de" stroke="#222" stroke-width="0.7"/>
<circle cx="275.8" cy="95.9" r="2.3" fill="#f25c3a" stroke="#222" stroke-width="0.7"/>
<circle cx="283.6" cy="100.2" r="2.3" fill="#f25c3a" stroke="#222" stroke-width="0.7"/>
<circle cx="289.3" cy="100.9" r="2.3" fill="#f25c3a" stroke="#222" stroke-width="0.7"/>
<circle cx="302.1" cy="61.7" r="2.3" fill="#f25c3a" stroke="#222" stroke-width="0.7"/>
<circle cx="307.8" cy="57.4" r="2.3" fill="#f25c3a" stroke="#222" stroke-width="0.7"/>
<circle cx="310.0" cy="60.3" r="2.3" fill="#f25c3a" stroke="#222" stroke-width="0.7"/>
<circle cx="319.9" cy="57.4" r="2.3" fill="#f25c3a" stroke="#222" stroke-width="0.7"/>
<circle cx="321.4" cy="59.6" r="2.3" fill="#f25c3a" stroke="#222" stroke-width="0.7"/>
<circle cx="333.5" cy="56.7" r="2.3" fill="#f25c3a" stroke="#222" stroke-width="0.7"/>
<circle cx="335.6" cy="58.1" r="2.3" fill="#f25c3a" stroke="#222" stroke-width="0.7"/>
<circle cx="325.6" cy="62.4" r="2.3" fill="#3862de" stroke="#222" stroke-width="0.7"/>
<circle cx="325.6" cy="63.8" r="2.3" fill="#f25c3a" stroke="#222" stroke-width="0.7"/>
<circle cx="322.8" cy="66.0" r="2.3" fill="#f25c3a" stroke="#222" stroke-width="0.7"/>
<circle cx="319.9" cy="67.4" r="2.3" fill="#f25c3a" stroke="#222" stroke-width="0.7"/>
<circle cx="317.1" cy="69.5" r="2.3" fill="#f25c3a" stroke="#222" stroke-width="0.7"/>
<circle cx="310.7" cy="65.3" r="2.3" fill="#3862de" stroke="#222" stroke-width="0.7"/>
<circle cx="311.4" cy="68.1" r="2.3" fill="#f25c3a" stroke="#222" stroke-width="0.7"/>
<circle cx="307.8" cy="68.8" r="2.3" fill="#f25c3a" stroke="#222" stroke-width="0.7"/>
<circle cx="305.7" cy="71.7" r="2.3" fill="#f25c3a" stroke="#222" stroke-width="0.7"/>
<circle cx="310.7" cy="71.0" r="2.3" fill="#f25c3a" stroke="#222" stroke-width="0.7"/>
<circle cx="314.2" cy="74.5" r="2.3" fill="#f25c3a" stroke="#222" stroke-width="0.7"/>
<circle cx="308.5" cy="73.8" r="2.3" fill="#f25c3a" stroke="#222" stroke-width="0.7"/>
<circle cx="301.4" cy="74.5" r="2.3" fill="#f25c3a" stroke="#222" stroke-width="0.7"/>
<circle cx="301.4" cy="76.7" r="2.3" fill="#f25c3a" stroke="#222" stroke-width="0.7"/>
<circle cx="302.1" cy="81.6" r="2.3" fill="#f25c3a" stroke="#222" stroke-width="0.7"/>
<circle cx="303.6" cy="83.8" r="2.3" fill="#f25c3a" stroke="#222" stroke-width="0.7"/>
<line x1="201.10" y1="182.85" x2="479.40" y2="-129.26" stroke="#2a2a2a" stroke-width="1.05" stroke-dasharray="2.6,2.0"/>
<line x1="263.66" y1="101.46" x2="357.43" y2="22.59" stroke="#3862de" stroke-width="1.45"/>
<line x1="263.66" y1="103.03" x2="357.43" y2="23.95" stroke="#f25c3a" stroke-width="1.45"/>
<text transform="translate(274.7,105.5) rotate(-48.3)" font-size="5.6" text-anchor="middle" dominant-baseline="central" fill="#333" stroke="#333" stroke-width="0.15">1:1</text>
</g>
<rect x="258.4" y="17.4" width="103.30" height="100.80" fill="none" stroke="#5a5a5a" stroke-width="1"/>
<line x1="261.60" y1="118.2" x2="261.60" y2="120.40" stroke="#5a5a5a" stroke-width="0.9"/>
<text transform="translate(261.60,127.30) scale(0.83,1)" font-size="8.4" text-anchor="middle" fill="#2e2e2e" stroke="#2e2e2e" stroke-width="0.22">2</text>
<line x1="273.70" y1="118.2" x2="273.70" y2="120.40" stroke="#5a5a5a" stroke-width="0.9"/>
<text transform="translate(273.70,127.30) scale(0.83,1)" font-size="8.4" text-anchor="middle" fill="#2e2e2e" stroke="#2e2e2e" stroke-width="0.22">3</text>
<line x1="285.80" y1="118.2" x2="285.80" y2="120.40" stroke="#5a5a5a" stroke-width="0.9"/>
<text transform="translate(285.80,127.30) scale(0.83,1)" font-size="8.4" text-anchor="middle" fill="#2e2e2e" stroke="#2e2e2e" stroke-width="0.22">4</text>
<line x1="297.90" y1="118.2" x2="297.90" y2="120.40" stroke="#5a5a5a" stroke-width="0.9"/>
<text transform="translate(297.90,127.30) scale(0.83,1)" font-size="8.4" text-anchor="middle" fill="#2e2e2e" stroke="#2e2e2e" stroke-width="0.22">5</text>
<line x1="310.00" y1="118.2" x2="310.00" y2="120.40" stroke="#5a5a5a" stroke-width="0.9"/>
<text transform="translate(310.00,127.30) scale(0.83,1)" font-size="8.4" text-anchor="middle" fill="#2e2e2e" stroke="#2e2e2e" stroke-width="0.22">6</text>
<line x1="322.10" y1="118.2" x2="322.10" y2="120.40" stroke="#5a5a5a" stroke-width="0.9"/>
<text transform="translate(322.10,127.30) scale(0.83,1)" font-size="8.4" text-anchor="middle" fill="#2e2e2e" stroke="#2e2e2e" stroke-width="0.22">7</text>
<line x1="334.20" y1="118.2" x2="334.20" y2="120.40" stroke="#5a5a5a" stroke-width="0.9"/>
<text transform="translate(334.20,127.30) scale(0.83,1)" font-size="8.4" text-anchor="middle" fill="#2e2e2e" stroke="#2e2e2e" stroke-width="0.22">8</text>
<line x1="346.30" y1="118.2" x2="346.30" y2="120.40" stroke="#5a5a5a" stroke-width="0.9"/>
<text transform="translate(346.30,127.30) scale(0.83,1)" font-size="8.4" text-anchor="middle" fill="#2e2e2e" stroke="#2e2e2e" stroke-width="0.22">9</text>
<line x1="358.40" y1="118.2" x2="358.40" y2="120.40" stroke="#5a5a5a" stroke-width="0.9"/>
<text transform="translate(358.40,127.30) scale(0.83,1)" font-size="8.4" text-anchor="middle" fill="#2e2e2e" stroke="#2e2e2e" stroke-width="0.22">10</text>
<line x1="256.20" y1="115.00" x2="258.4" y2="115.00" stroke="#5a5a5a" stroke-width="0.9"/>
<text transform="translate(254.70,117.60) scale(0.83,1)" font-size="8.4" text-anchor="end" fill="#2e2e2e" stroke="#2e2e2e" stroke-width="0.22">2</text>
<line x1="256.20" y1="101.43" x2="258.4" y2="101.43" stroke="#5a5a5a" stroke-width="0.9"/>
<text transform="translate(254.70,104.03) scale(0.83,1)" font-size="8.4" text-anchor="end" fill="#2e2e2e" stroke="#2e2e2e" stroke-width="0.22">3</text>
<line x1="256.20" y1="87.86" x2="258.4" y2="87.86" stroke="#5a5a5a" stroke-width="0.9"/>
<text transform="translate(254.70,90.46) scale(0.83,1)" font-size="8.4" text-anchor="end" fill="#2e2e2e" stroke="#2e2e2e" stroke-width="0.22">4</text>
<line x1="256.20" y1="74.29" x2="258.4" y2="74.29" stroke="#5a5a5a" stroke-width="0.9"/>
<text transform="translate(254.70,76.89) scale(0.83,1)" font-size="8.4" text-anchor="end" fill="#2e2e2e" stroke="#2e2e2e" stroke-width="0.22">5</text>
<line x1="256.20" y1="60.72" x2="258.4" y2="60.72" stroke="#5a5a5a" stroke-width="0.9"/>
<text transform="translate(254.70,63.32) scale(0.83,1)" font-size="8.4" text-anchor="end" fill="#2e2e2e" stroke="#2e2e2e" stroke-width="0.22">6</text>
<line x1="256.20" y1="47.15" x2="258.4" y2="47.15" stroke="#5a5a5a" stroke-width="0.9"/>
<text transform="translate(254.70,49.75) scale(0.83,1)" font-size="8.4" text-anchor="end" fill="#2e2e2e" stroke="#2e2e2e" stroke-width="0.22">7</text>
<line x1="256.20" y1="33.58" x2="258.4" y2="33.58" stroke="#5a5a5a" stroke-width="0.9"/>
<text transform="translate(254.70,36.18) scale(0.83,1)" font-size="8.4" text-anchor="end" fill="#2e2e2e" stroke="#2e2e2e" stroke-width="0.22">8</text>
<line x1="256.20" y1="20.01" x2="258.4" y2="20.01" stroke="#5a5a5a" stroke-width="0.9"/>
<text transform="translate(254.70,22.61) scale(0.83,1)" font-size="8.4" text-anchor="end" fill="#2e2e2e" stroke="#2e2e2e" stroke-width="0.22">9</text>
<text x="310.05" y="13.50" font-size="8.3" text-anchor="middle" fill="#1a1a1a" stroke="#1a1a1a" stroke-width="0.25">PrM</text>
<text x="286.3" y="26.40" font-size="6.0" text-anchor="middle" fill="#4a72da" stroke="#4a72da" stroke-width="0.1">y = 0.750 x + 1.37</text>
<text x="286.3" y="33.10" font-size="6.0" text-anchor="middle" fill="#4a72da" stroke="#4a72da" stroke-width="0.1">R<tspan font-size="4" dy="-2.2">2</tspan><tspan dy="2.2">=</tspan>0.727</text>
<text x="331.8" y="101.80" font-size="6.0" text-anchor="middle" fill="#ee6a4e" stroke="#ee6a4e" stroke-width="0.1">y = 0.752 x + 1.25</text>
<text x="331.8" y="109.50" font-size="6.0" text-anchor="middle" fill="#ee6a4e" stroke="#ee6a4e" stroke-width="0.1">R<tspan font-size="4" dy="-2.2">2</tspan><tspan dy="2.2">=</tspan>0.772</text>
<clipPath id="ca4"><rect x="23.5" y="147.3" width="103.50" height="100.70"/></clipPath>
<g clip-path="url(#ca4)">
<circle cx="97.2" cy="173.2" r="2.3" fill="#3862de" stroke="#222" stroke-width="0.7"/>
<circle cx="90.0" cy="184.3" r="2.3" fill="#3862de" stroke="#222" stroke-width="0.7"/>
<circle cx="75.4" cy="192.2" r="2.3" fill="#3862de" stroke="#222" stroke-width="0.7"/>
<circle cx="92.8" cy="191.3" r="2.3" fill="#3862de" stroke="#222" stroke-width="0.7"/>
<circle cx="96.9" cy="191.0" r="2.3" fill="#3862de" stroke="#222" stroke-width="0.7"/>
<circle cx="84.6" cy="190.9" r="2.3" fill="#3862de" stroke="#222" stroke-width="0.7"/>
<circle cx="88.4" cy="195.0" r="2.3" fill="#3862de" stroke="#222" stroke-width="0.7"/>
<circle cx="99.8" cy="194.0" r="2.3" fill="#3862de" stroke="#222" stroke-width="0.7"/>
<circle cx="78.3" cy="205.0" r="2.3" fill="#3862de" stroke="#222" stroke-width="0.7"/>
<circle cx="87.7" cy="198.2" r="2.3" fill="#3862de" stroke="#222" stroke-width="0.7"/>
<circle cx="85.6" cy="194.4" r="2.3" fill="#3862de" stroke="#222" stroke-width="0.7"/>
<circle cx="66.0" cy="200.1" r="2.3" fill="#3862de" stroke="#222" stroke-width="0.7"/>
<circle cx="70.4" cy="202.2" r="2.3" fill="#3862de" stroke="#222" stroke-width="0.7"/>
<circle cx="73.7" cy="206.9" r="2.3" fill="#3862de" stroke="#222" stroke-width="0.7"/>
<circle cx="70.5" cy="214.1" r="2.3" fill="#3862de" stroke="#222" stroke-width="0.7"/>
<circle cx="65.2" cy="217.8" r="2.3" fill="#3862de" stroke="#222" stroke-width="0.7"/>
<circle cx="55.8" cy="221.0" r="2.3" fill="#3862de" stroke="#222" stroke-width="0.7"/>
<circle cx="55.6" cy="228.6" r="2.3" fill="#3862de" stroke="#222" stroke-width="0.7"/>
<circle cx="56.8" cy="226.6" r="2.3" fill="#3862de" stroke="#222" stroke-width="0.7"/>
<circle cx="50.3" cy="232.0" r="2.3" fill="#3862de" stroke="#222" stroke-width="0.7"/>
<circle cx="122.4" cy="151.6" r="2.3" fill="#f25c3a" stroke="#222" stroke-width="0.7"/>
<circle cx="113.2" cy="164.8" r="2.3" fill="#f25c3a" stroke="#222" stroke-width="0.7"/>
<circle cx="113.5" cy="169.8" r="2.3" fill="#f25c3a" stroke="#222" stroke-width="0.7"/>
<circle cx="113.5" cy="172.6" r="2.3" fill="#3862de" stroke="#222" stroke-width="0.7"/>
<circle cx="106.3" cy="171.9" r="2.3" fill="#f25c3a" stroke="#222" stroke-width="0.7"/>
<circle cx="105.6" cy="174.8" r="2.3" fill="#f25c3a" stroke="#222" stroke-width="0.7"/>
<circle cx="108.5" cy="179.8" r="2.3" fill="#3862de" stroke="#222" stroke-width="0.7"/>
<circle cx="99.9" cy="178.3" r="2.3" fill="#f25c3a" stroke="#222" stroke-width="0.7"/>
<circle cx="96.4" cy="175.5" r="2.3" fill="#f25c3a" stroke="#222" stroke-width="0.7"/>
<circle cx="93.5" cy="175.5" r="2.3" fill="#f25c3a" stroke="#222" stroke-width="0.7"/>
<circle cx="95.7" cy="177.6" r="2.3" fill="#3862de" stroke="#222" stroke-width="0.7"/>
<circle cx="90.7" cy="176.9" r="2.3" fill="#f25c3a" stroke="#222" stroke-width="0.7"/>
<circle cx="85.0" cy="176.9" r="2.3" fill="#f25c3a" stroke="#222" stroke-width="0.7"/>
<circle cx="88.5" cy="179.0" r="2.3" fill="#3862de" stroke="#222" stroke-width="0.7"/>
<circle cx="91.4" cy="179.8" r="2.3" fill="#f25c3a" stroke="#222" stroke-width="0.7"/>
<circle cx="87.8" cy="181.9" r="2.3" fill="#f25c3a" stroke="#222" stroke-width="0.7"/>
<circle cx="83.5" cy="181.9" r="2.3" fill="#f25c3a" stroke="#222" stroke-width="0.7"/>
<circle cx="92.8" cy="183.3" r="2.3" fill="#f25c3a" stroke="#222" stroke-width="0.7"/>
<circle cx="104.9" cy="182.6" r="2.3" fill="#f25c3a" stroke="#222" stroke-width="0.7"/>
<circle cx="100.6" cy="184.0" r="2.3" fill="#3862de" stroke="#222" stroke-width="0.7"/>
<circle cx="89.2" cy="186.2" r="2.3" fill="#f25c3a" stroke="#222" stroke-width="0.7"/>
<circle cx="85.7" cy="189.0" r="2.3" fill="#3862de" stroke="#222" stroke-width="0.7"/>
<circle cx="79.3" cy="185.5" r="2.3" fill="#f25c3a" stroke="#222" stroke-width="0.7"/>
<circle cx="77.1" cy="190.4" r="2.3" fill="#f25c3a" stroke="#222" stroke-width="0.7"/>
<circle cx="93.5" cy="189.7" r="2.3" fill="#f25c3a" stroke="#222" stroke-width="0.7"/>
<circle cx="98.5" cy="191.2" r="2.3" fill="#f25c3a" stroke="#222" stroke-width="0.7"/>
<circle cx="82.8" cy="192.6" r="2.3" fill="#f25c3a" stroke="#222" stroke-width="0.7"/>
<circle cx="90.7" cy="194.0" r="2.3" fill="#f25c3a" stroke="#222" stroke-width="0.7"/>
<circle cx="94.9" cy="194.7" r="2.3" fill="#f25c3a" stroke="#222" stroke-width="0.7"/>
<circle cx="75.0" cy="194.0" r="2.3" fill="#3862de" stroke="#222" stroke-width="0.7"/>
<circle cx="79.3" cy="195.4" r="2.3" fill="#f25c3a" stroke="#222" stroke-width="0.7"/>
<circle cx="102.1" cy="196.9" r="2.3" fill="#f25c3a" stroke="#222" stroke-width="0.7"/>
<circle cx="83.5" cy="197.6" r="2.3" fill="#3862de" stroke="#222" stroke-width="0.7"/>
<circle cx="99.2" cy="195.7" r="2.3" fill="#3862de" stroke="#222" stroke-width="0.7"/>
<circle cx="102.1" cy="197.8" r="2.3" fill="#f25c3a" stroke="#222" stroke-width="0.7"/>
<circle cx="97.8" cy="192.1" r="2.3" fill="#f25c3a" stroke="#222" stroke-width="0.7"/>
<circle cx="93.5" cy="192.8" r="2.3" fill="#f25c3a" stroke="#222" stroke-width="0.7"/>
<circle cx="88.5" cy="207.1" r="2.3" fill="#f25c3a" stroke="#222" stroke-width="0.7"/>
<circle cx="77.8" cy="210.0" r="2.3" fill="#3862de" stroke="#222" stroke-width="0.7"/>
<circle cx="75.0" cy="213.5" r="2.3" fill="#f25c3a" stroke="#222" stroke-width="0.7"/>
<circle cx="80.7" cy="206.4" r="2.3" fill="#f25c3a" stroke="#222" stroke-width="0.7"/>
<circle cx="75.7" cy="206.4" r="2.3" fill="#f25c3a" stroke="#222" stroke-width="0.7"/>
<circle cx="72.1" cy="204.2" r="2.3" fill="#f25c3a" stroke="#222" stroke-width="0.7"/>
<circle cx="78.5" cy="202.8" r="2.3" fill="#f25c3a" stroke="#222" stroke-width="0.7"/>
<circle cx="84.2" cy="202.1" r="2.3" fill="#f25c3a" stroke="#222" stroke-width="0.7"/>
<circle cx="90.0" cy="198.5" r="2.3" fill="#3862de" stroke="#222" stroke-width="0.7"/>
<circle cx="85.7" cy="198.5" r="2.3" fill="#f25c3a" stroke="#222" stroke-width="0.7"/>
<circle cx="90.0" cy="201.4" r="2.3" fill="#f25c3a" stroke="#222" stroke-width="0.7"/>
<circle cx="77.1" cy="198.5" r="2.3" fill="#f25c3a" stroke="#222" stroke-width="0.7"/>
<circle cx="74.3" cy="194.3" r="2.3" fill="#f25c3a" stroke="#222" stroke-width="0.7"/>
<circle cx="81.4" cy="194.3" r="2.3" fill="#f25c3a" stroke="#222" stroke-width="0.7"/>
<circle cx="87.1" cy="192.8" r="2.3" fill="#f25c3a" stroke="#222" stroke-width="0.7"/>
<circle cx="72.8" cy="200.0" r="2.3" fill="#f25c3a" stroke="#222" stroke-width="0.7"/>
<circle cx="70.0" cy="217.1" r="2.3" fill="#3862de" stroke="#222" stroke-width="0.7"/>
<circle cx="44.1" cy="197.1" r="2.3" fill="#3862de" stroke="#222" stroke-width="0.7"/>
<circle cx="44.1" cy="200.7" r="2.3" fill="#f25c3a" stroke="#222" stroke-width="0.7"/>
<circle cx="38.7" cy="215.6" r="2.3" fill="#3862de" stroke="#222" stroke-width="0.7"/>
<circle cx="39.0" cy="216.6" r="2.3" fill="#f25c3a" stroke="#222" stroke-width="0.7"/>
<circle cx="27.4" cy="226.5" r="2.3" fill="#3862de" stroke="#222" stroke-width="0.7"/>
<circle cx="27.4" cy="229.2" r="2.3" fill="#f25c3a" stroke="#222" stroke-width="0.7"/>
<circle cx="62.9" cy="197.1" r="2.3" fill="#f25c3a" stroke="#222" stroke-width="0.7"/>
<circle cx="62.9" cy="202.8" r="2.3" fill="#3862de" stroke="#222" stroke-width="0.7"/>
<circle cx="63.6" cy="201.4" r="2.3" fill="#f25c3a" stroke="#222" stroke-width="0.7"/>
<circle cx="67.9" cy="201.4" r="2.3" fill="#f25c3a" stroke="#222" stroke-width="0.7"/>
<circle cx="65.7" cy="204.2" r="2.3" fill="#f25c3a" stroke="#222" stroke-width="0.7"/>
<circle cx="73.0" cy="196.0" r="2.3" fill="#3862de" stroke="#222" stroke-width="0.7"/>
<circle cx="73.6" cy="194.3" r="2.3" fill="#f25c3a" stroke="#222" stroke-width="0.7"/>
<circle cx="73.6" cy="200.0" r="2.3" fill="#f25c3a" stroke="#222" stroke-width="0.7"/>
<circle cx="74.3" cy="205.0" r="2.3" fill="#f25c3a" stroke="#222" stroke-width="0.7"/>
<circle cx="60.7" cy="209.2" r="2.3" fill="#f25c3a" stroke="#222" stroke-width="0.7"/>
<circle cx="60.7" cy="212.8" r="2.3" fill="#3862de" stroke="#222" stroke-width="0.7"/>
<circle cx="62.9" cy="212.1" r="2.3" fill="#f25c3a" stroke="#222" stroke-width="0.7"/>
<circle cx="67.9" cy="217.8" r="2.3" fill="#3862de" stroke="#222" stroke-width="0.7"/>
<circle cx="68.6" cy="214.9" r="2.3" fill="#f25c3a" stroke="#222" stroke-width="0.7"/>
<circle cx="65.7" cy="215.6" r="2.3" fill="#f25c3a" stroke="#222" stroke-width="0.7"/>
<circle cx="73.6" cy="213.5" r="2.3" fill="#f25c3a" stroke="#222" stroke-width="0.7"/>
<circle cx="60.0" cy="219.2" r="2.3" fill="#f25c3a" stroke="#222" stroke-width="0.7"/>
<circle cx="61.4" cy="216.6" r="2.3" fill="#3862de" stroke="#222" stroke-width="0.7"/>
<circle cx="60.8" cy="219.9" r="2.3" fill="#f25c3a" stroke="#222" stroke-width="0.7"/>
<circle cx="57.2" cy="221.3" r="2.3" fill="#f25c3a" stroke="#222" stroke-width="0.7"/>
<circle cx="57.5" cy="221.0" r="2.3" fill="#f25c3a" stroke="#222" stroke-width="0.7"/>
<circle cx="54.0" cy="224.5" r="2.3" fill="#3862de" stroke="#222" stroke-width="0.7"/>
<circle cx="55.3" cy="226.0" r="2.3" fill="#f25c3a" stroke="#222" stroke-width="0.7"/>
<circle cx="53.1" cy="228.7" r="2.3" fill="#f25c3a" stroke="#222" stroke-width="0.7"/>
<circle cx="55.0" cy="225.6" r="2.3" fill="#f25c3a" stroke="#222" stroke-width="0.7"/>
<circle cx="52.9" cy="227.0" r="2.3" fill="#3862de" stroke="#222" stroke-width="0.7"/>
<circle cx="52.9" cy="228.4" r="2.3" fill="#f25c3a" stroke="#222" stroke-width="0.7"/>
<circle cx="46.5" cy="229.9" r="2.3" fill="#f25c3a" stroke="#222" stroke-width="0.7"/>
<circle cx="46.5" cy="233.6" r="2.3" fill="#3862de" stroke="#222" stroke-width="0.7"/>
<circle cx="50.8" cy="234.1" r="2.3" fill="#f25c3a" stroke="#222" stroke-width="0.7"/>
<circle cx="46.6" cy="230.3" r="2.3" fill="#f25c3a" stroke="#222" stroke-width="0.7"/>
<circle cx="50.9" cy="234.7" r="2.3" fill="#f25c3a" stroke="#222" stroke-width="0.7"/>
<circle cx="46.6" cy="237.5" r="2.3" fill="#f25c3a" stroke="#222" stroke-width="0.7"/>
<circle cx="39.2" cy="243.5" r="2.3" fill="#f25c3a" stroke="#222" stroke-width="0.7"/>
<circle cx="38.9" cy="216.6" r="2.3" fill="#f25c3a" stroke="#222" stroke-width="0.7"/>
<line x1="-65.40" y1="352.60" x2="371.40" y2="-117.80" stroke="#2a2a2a" stroke-width="1.05" stroke-dasharray="2.6,2.0"/>
<line x1="27.97" y1="238.39" x2="122.06" y2="166.04" stroke="#3862de" stroke-width="1.45"/>
<line x1="27.97" y1="240.21" x2="122.06" y2="163.10" stroke="#f25c3a" stroke-width="1.45"/>
<text transform="translate(113.1,154.4) rotate(-47.1)" font-size="5.6" text-anchor="middle" dominant-baseline="central" fill="#333" stroke="#333" stroke-width="0.15">1:1</text>
</g>
<rect x="23.5" y="147.3" width="103.50" height="100.70" fill="none" stroke="#5a5a5a" stroke-width="1"/>
<line x1="25.60" y1="248.0" x2="25.60" y2="250.20" stroke="#5a5a5a" stroke-width="0.9"/>
<text transform="translate(25.60,257.10) scale(0.83,1)" font-size="8.4" text-anchor="middle" fill="#2e2e2e" stroke="#2e2e2e" stroke-width="0.22">1</text>
<line x1="43.80" y1="248.0" x2="43.80" y2="250.20" stroke="#5a5a5a" stroke-width="0.9"/>
<text transform="translate(43.80,257.10) scale(0.83,1)" font-size="8.4" text-anchor="middle" fill="#2e2e2e" stroke="#2e2e2e" stroke-width="0.22">2</text>
<line x1="62.00" y1="248.0" x2="62.00" y2="250.20" stroke="#5a5a5a" stroke-width="0.9"/>
<text transform="translate(62.00,257.10) scale(0.83,1)" font-size="8.4" text-anchor="middle" fill="#2e2e2e" stroke="#2e2e2e" stroke-width="0.22">3</text>
<line x1="80.20" y1="248.0" x2="80.20" y2="250.20" stroke="#5a5a5a" stroke-width="0.9"/>
<text transform="translate(80.20,257.10) scale(0.83,1)" font-size="8.4" text-anchor="middle" fill="#2e2e2e" stroke="#2e2e2e" stroke-width="0.22">4</text>
<line x1="98.40" y1="248.0" x2="98.40" y2="250.20" stroke="#5a5a5a" stroke-width="0.9"/>
<text transform="translate(98.40,257.10) scale(0.83,1)" font-size="8.4" text-anchor="middle" fill="#2e2e2e" stroke="#2e2e2e" stroke-width="0.22">5</text>
<line x1="116.60" y1="248.0" x2="116.60" y2="250.20" stroke="#5a5a5a" stroke-width="0.9"/>
<text transform="translate(116.60,257.10) scale(0.83,1)" font-size="8.4" text-anchor="middle" fill="#2e2e2e" stroke="#2e2e2e" stroke-width="0.22">6</text>
<line x1="21.30" y1="235.00" x2="23.5" y2="235.00" stroke="#5a5a5a" stroke-width="0.9"/>
<text transform="translate(19.80,237.60) scale(0.83,1)" font-size="8.4" text-anchor="end" fill="#2e2e2e" stroke="#2e2e2e" stroke-width="0.22">2</text>
<line x1="21.30" y1="215.40" x2="23.5" y2="215.40" stroke="#5a5a5a" stroke-width="0.9"/>
<text transform="translate(19.80,218.00) scale(0.83,1)" font-size="8.4" text-anchor="end" fill="#2e2e2e" stroke="#2e2e2e" stroke-width="0.22">3</text>
<line x1="21.30" y1="195.80" x2="23.5" y2="195.80" stroke="#5a5a5a" stroke-width="0.9"/>
<text transform="translate(19.80,198.40) scale(0.83,1)" font-size="8.4" text-anchor="end" fill="#2e2e2e" stroke="#2e2e2e" stroke-width="0.22">4</text>
<line x1="21.30" y1="176.20" x2="23.5" y2="176.20" stroke="#5a5a5a" stroke-width="0.9"/>
<text transform="translate(19.80,178.80) scale(0.83,1)" font-size="8.4" text-anchor="end" fill="#2e2e2e" stroke="#2e2e2e" stroke-width="0.22">5</text>
<line x1="21.30" y1="156.60" x2="23.5" y2="156.60" stroke="#5a5a5a" stroke-width="0.9"/>
<text transform="translate(19.80,159.20) scale(0.83,1)" font-size="8.4" text-anchor="end" fill="#2e2e2e" stroke="#2e2e2e" stroke-width="0.22">6</text>
<text x="75.25" y="143.40" font-size="8.3" text-anchor="middle" fill="#1a1a1a" stroke="#1a1a1a" stroke-width="0.25">GnPm</text>
<text x="55.0" y="158.70" font-size="6.0" text-anchor="middle" fill="#4a72da" stroke="#4a72da" stroke-width="0.1">y = 0.714 x + 1.02</text>
<text x="55.0" y="165.40" font-size="6.0" text-anchor="middle" fill="#4a72da" stroke="#4a72da" stroke-width="0.1">R<tspan font-size="4" dy="-2.2">2</tspan><tspan dy="2.2">=</tspan>0.754</text>
<text x="94.9" y="232.70" font-size="6.0" text-anchor="middle" fill="#ee6a4e" stroke="#ee6a4e" stroke-width="0.1">y = 0.761 x + 0.874</text>
<text x="94.9" y="239.80" font-size="6.0" text-anchor="middle" fill="#ee6a4e" stroke="#ee6a4e" stroke-width="0.1">R<tspan font-size="4" dy="-2.2">2</tspan><tspan dy="2.2">=</tspan>0.779</text>
<clipPath id="ca5"><rect x="143.1" y="147.3" width="103.30" height="100.70"/></clipPath>
<g clip-path="url(#ca5)">
<circle cx="223.6" cy="160.3" r="2.3" fill="#3862de" stroke="#222" stroke-width="0.7"/>
<circle cx="217.7" cy="167.0" r="2.3" fill="#3862de" stroke="#222" stroke-width="0.7"/>
<circle cx="213.8" cy="165.9" r="2.3" fill="#3862de" stroke="#222" stroke-width="0.7"/>
<circle cx="215.4" cy="169.2" r="2.3" fill="#3862de" stroke="#222" stroke-width="0.7"/>
<circle cx="202.0" cy="174.6" r="2.3" fill="#3862de" stroke="#222" stroke-width="0.7"/>
<circle cx="220.3" cy="176.5" r="2.3" fill="#3862de" stroke="#222" stroke-width="0.7"/>
<circle cx="206.4" cy="176.8" r="2.3" fill="#3862de" stroke="#222" stroke-width="0.7"/>
<circle cx="210.8" cy="180.9" r="2.3" fill="#3862de" stroke="#222" stroke-width="0.7"/>
<circle cx="200.5" cy="190.2" r="2.3" fill="#3862de" stroke="#222" stroke-width="0.7"/>
<circle cx="220.3" cy="190.0" r="2.3" fill="#3862de" stroke="#222" stroke-width="0.7"/>
<circle cx="226.5" cy="188.8" r="2.3" fill="#3862de" stroke="#222" stroke-width="0.7"/>
<circle cx="213.8" cy="198.0" r="2.3" fill="#3862de" stroke="#222" stroke-width="0.7"/>
<circle cx="207.2" cy="197.0" r="2.3" fill="#3862de" stroke="#222" stroke-width="0.7"/>
<circle cx="194.2" cy="206.4" r="2.3" fill="#3862de" stroke="#222" stroke-width="0.7"/>
<circle cx="184.2" cy="209.3" r="2.3" fill="#3862de" stroke="#222" stroke-width="0.7"/>
<circle cx="186.1" cy="204.0" r="2.3" fill="#3862de" stroke="#222" stroke-width="0.7"/>
<circle cx="183.5" cy="199.3" r="2.3" fill="#3862de" stroke="#222" stroke-width="0.7"/>
<circle cx="201.6" cy="197.1" r="2.3" fill="#3862de" stroke="#222" stroke-width="0.7"/>
<circle cx="206.1" cy="193.5" r="2.3" fill="#3862de" stroke="#222" stroke-width="0.7"/>
<circle cx="183.5" cy="208.4" r="2.3" fill="#3862de" stroke="#222" stroke-width="0.7"/>
<circle cx="183.5" cy="211.3" r="2.3" fill="#3862de" stroke="#222" stroke-width="0.7"/>
<circle cx="183.1" cy="198.0" r="2.3" fill="#3862de" stroke="#222" stroke-width="0.7"/>
<circle cx="191.8" cy="208.6" r="2.3" fill="#3862de" stroke="#222" stroke-width="0.7"/>
<circle cx="231.3" cy="151.3" r="2.3" fill="#3862de" stroke="#222" stroke-width="0.7"/>
<circle cx="228.9" cy="157.7" r="2.3" fill="#3862de" stroke="#222" stroke-width="0.7"/>
<circle cx="231.7" cy="159.8" r="2.3" fill="#f25c3a" stroke="#222" stroke-width="0.7"/>
<circle cx="220.4" cy="158.7" r="2.3" fill="#3862de" stroke="#222" stroke-width="0.7"/>
<circle cx="221.8" cy="161.2" r="2.3" fill="#f25c3a" stroke="#222" stroke-width="0.7"/>
<circle cx="210.4" cy="162.4" r="2.3" fill="#f25c3a" stroke="#222" stroke-width="0.7"/>
<circle cx="226.0" cy="162.7" r="2.3" fill="#f25c3a" stroke="#222" stroke-width="0.7"/>
<circle cx="229.6" cy="163.8" r="2.3" fill="#f25c3a" stroke="#222" stroke-width="0.7"/>
<circle cx="223.9" cy="165.5" r="2.3" fill="#f25c3a" stroke="#222" stroke-width="0.7"/>
<circle cx="216.8" cy="165.5" r="2.3" fill="#f25c3a" stroke="#222" stroke-width="0.7"/>
<circle cx="213.9" cy="167.7" r="2.3" fill="#f25c3a" stroke="#222" stroke-width="0.7"/>
<circle cx="217.5" cy="168.4" r="2.3" fill="#3862de" stroke="#222" stroke-width="0.7"/>
<circle cx="220.4" cy="164.1" r="2.3" fill="#f25c3a" stroke="#222" stroke-width="0.7"/>
<circle cx="228.2" cy="168.4" r="2.3" fill="#f25c3a" stroke="#222" stroke-width="0.7"/>
<circle cx="239.6" cy="166.2" r="2.3" fill="#f25c3a" stroke="#222" stroke-width="0.7"/>
<circle cx="216.1" cy="171.9" r="2.3" fill="#f25c3a" stroke="#222" stroke-width="0.7"/>
<circle cx="227.5" cy="171.9" r="2.3" fill="#f25c3a" stroke="#222" stroke-width="0.7"/>
<circle cx="221.8" cy="174.1" r="2.3" fill="#f25c3a" stroke="#222" stroke-width="0.7"/>
<circle cx="236.7" cy="174.1" r="2.3" fill="#f25c3a" stroke="#222" stroke-width="0.7"/>
<circle cx="201.8" cy="172.6" r="2.3" fill="#3862de" stroke="#222" stroke-width="0.7"/>
<circle cx="198.3" cy="174.8" r="2.3" fill="#3862de" stroke="#222" stroke-width="0.7"/>
<circle cx="209.0" cy="174.1" r="2.3" fill="#f25c3a" stroke="#222" stroke-width="0.7"/>
<circle cx="201.8" cy="176.9" r="2.3" fill="#f25c3a" stroke="#222" stroke-width="0.7"/>
<circle cx="213.9" cy="175.5" r="2.3" fill="#f25c3a" stroke="#222" stroke-width="0.7"/>
<circle cx="218.2" cy="176.9" r="2.3" fill="#f25c3a" stroke="#222" stroke-width="0.7"/>
<circle cx="228.2" cy="176.2" r="2.3" fill="#f25c3a" stroke="#222" stroke-width="0.7"/>
<circle cx="241.0" cy="177.6" r="2.3" fill="#f25c3a" stroke="#222" stroke-width="0.7"/>
<circle cx="236.7" cy="181.2" r="2.3" fill="#3862de" stroke="#222" stroke-width="0.7"/>
<circle cx="240.3" cy="181.2" r="2.3" fill="#3862de" stroke="#222" stroke-width="0.7"/>
<circle cx="206.1" cy="179.0" r="2.3" fill="#f25c3a" stroke="#222" stroke-width="0.7"/>
<circle cx="198.3" cy="179.8" r="2.3" fill="#f25c3a" stroke="#222" stroke-width="0.7"/>
<circle cx="211.1" cy="179.0" r="2.3" fill="#f25c3a" stroke="#222" stroke-width="0.7"/>
<circle cx="221.1" cy="181.2" r="2.3" fill="#f25c3a" stroke="#222" stroke-width="0.7"/>
<circle cx="227.5" cy="180.5" r="2.3" fill="#3862de" stroke="#222" stroke-width="0.7"/>
<circle cx="227.5" cy="182.6" r="2.3" fill="#f25c3a" stroke="#222" stroke-width="0.7"/>
<circle cx="196.1" cy="184.0" r="2.3" fill="#f25c3a" stroke="#222" stroke-width="0.7"/>
<circle cx="202.5" cy="183.3" r="2.3" fill="#f25c3a" stroke="#222" stroke-width="0.7"/>
<circle cx="208.2" cy="183.3" r="2.3" fill="#f25c3a" stroke="#222" stroke-width="0.7"/>
<circle cx="213.9" cy="182.6" r="2.3" fill="#f25c3a" stroke="#222" stroke-width="0.7"/>
<circle cx="216.8" cy="184.7" r="2.3" fill="#f25c3a" stroke="#222" stroke-width="0.7"/>
<circle cx="206.1" cy="187.6" r="2.3" fill="#f25c3a" stroke="#222" stroke-width="0.7"/>
<circle cx="211.8" cy="187.6" r="2.3" fill="#f25c3a" stroke="#222" stroke-width="0.7"/>
<circle cx="221.8" cy="186.2" r="2.3" fill="#f25c3a" stroke="#222" stroke-width="0.7"/>
<circle cx="227.5" cy="187.6" r="2.3" fill="#3862de" stroke="#222" stroke-width="0.7"/>
<circle cx="214.7" cy="189.0" r="2.3" fill="#3862de" stroke="#222" stroke-width="0.7"/>
<circle cx="198.3" cy="188.3" r="2.3" fill="#f25c3a" stroke="#222" stroke-width="0.7"/>
<circle cx="202.5" cy="190.4" r="2.3" fill="#f25c3a" stroke="#222" stroke-width="0.7"/>
<circle cx="219.6" cy="191.9" r="2.3" fill="#f25c3a" stroke="#222" stroke-width="0.7"/>
<circle cx="223.9" cy="190.4" r="2.3" fill="#f25c3a" stroke="#222" stroke-width="0.7"/>
<circle cx="228.2" cy="190.4" r="2.3" fill="#f25c3a" stroke="#222" stroke-width="0.7"/>
<circle cx="211.8" cy="192.6" r="2.3" fill="#f25c3a" stroke="#222" stroke-width="0.7"/>
<circle cx="207.5" cy="191.2" r="2.3" fill="#3862de" stroke="#222" stroke-width="0.7"/>
<circle cx="242.4" cy="192.6" r="2.3" fill="#f25c3a" stroke="#222" stroke-width="0.7"/>
<circle cx="221.1" cy="194.7" r="2.3" fill="#3862de" stroke="#222" stroke-width="0.7"/>
<circle cx="215.4" cy="197.6" r="2.3" fill="#f25c3a" stroke="#222" stroke-width="0.7"/>
<circle cx="228.2" cy="196.9" r="2.3" fill="#f25c3a" stroke="#222" stroke-width="0.7"/>
<circle cx="200.4" cy="195.4" r="2.3" fill="#3862de" stroke="#222" stroke-width="0.7"/>
<circle cx="205.4" cy="195.4" r="2.3" fill="#f25c3a" stroke="#222" stroke-width="0.7"/>
<circle cx="195.4" cy="194.0" r="2.3" fill="#f25c3a" stroke="#222" stroke-width="0.7"/>
<circle cx="186.8" cy="217.5" r="2.3" fill="#3862de" stroke="#222" stroke-width="0.7"/>
<circle cx="186.8" cy="219.2" r="2.3" fill="#f25c3a" stroke="#222" stroke-width="0.7"/>
<circle cx="200.7" cy="216.6" r="2.3" fill="#f25c3a" stroke="#222" stroke-width="0.7"/>
<circle cx="200.7" cy="218.0" r="2.3" fill="#3862de" stroke="#222" stroke-width="0.7"/>
<circle cx="200.7" cy="204.7" r="2.3" fill="#f25c3a" stroke="#222" stroke-width="0.7"/>
<circle cx="200.7" cy="206.1" r="2.3" fill="#3862de" stroke="#222" stroke-width="0.7"/>
<circle cx="191.4" cy="204.2" r="2.3" fill="#3862de" stroke="#222" stroke-width="0.7"/>
<circle cx="192.1" cy="206.4" r="2.3" fill="#f25c3a" stroke="#222" stroke-width="0.7"/>
<circle cx="185.7" cy="210.6" r="2.3" fill="#f25c3a" stroke="#222" stroke-width="0.7"/>
<circle cx="183.6" cy="203.5" r="2.3" fill="#3862de" stroke="#222" stroke-width="0.7"/>
<circle cx="184.3" cy="205.7" r="2.3" fill="#f25c3a" stroke="#222" stroke-width="0.7"/>
<circle cx="184.3" cy="197.1" r="2.3" fill="#f25c3a" stroke="#222" stroke-width="0.7"/>
<circle cx="187.1" cy="191.4" r="2.3" fill="#3862de" stroke="#222" stroke-width="0.7"/>
<circle cx="187.8" cy="192.8" r="2.3" fill="#f25c3a" stroke="#222" stroke-width="0.7"/>
<circle cx="188.5" cy="199.2" r="2.3" fill="#3862de" stroke="#222" stroke-width="0.7"/>
<circle cx="190.0" cy="196.4" r="2.3" fill="#f25c3a" stroke="#222" stroke-width="0.7"/>
<circle cx="195.7" cy="190.7" r="2.3" fill="#f25c3a" stroke="#222" stroke-width="0.7"/>
<circle cx="199.9" cy="195.7" r="2.3" fill="#3862de" stroke="#222" stroke-width="0.7"/>
<circle cx="202.1" cy="199.2" r="2.3" fill="#3862de" stroke="#222" stroke-width="0.7"/>
<circle cx="199.2" cy="197.1" r="2.3" fill="#f25c3a" stroke="#222" stroke-width="0.7"/>
<circle cx="204.9" cy="195.0" r="2.3" fill="#f25c3a" stroke="#222" stroke-width="0.7"/>
<circle cx="201.4" cy="192.1" r="2.3" fill="#f25c3a" stroke="#222" stroke-width="0.7"/>
<circle cx="211.3" cy="192.1" r="2.3" fill="#f25c3a" stroke="#222" stroke-width="0.7"/>
<circle cx="214.2" cy="194.3" r="2.3" fill="#f25c3a" stroke="#222" stroke-width="0.7"/>
<circle cx="212.8" cy="198.5" r="2.3" fill="#3862de" stroke="#222" stroke-width="0.7"/>
<circle cx="215.6" cy="199.2" r="2.3" fill="#f25c3a" stroke="#222" stroke-width="0.7"/>
<circle cx="220.6" cy="194.3" r="2.3" fill="#3862de" stroke="#222" stroke-width="0.7"/>
<circle cx="219.2" cy="191.4" r="2.3" fill="#f25c3a" stroke="#222" stroke-width="0.7"/>
<circle cx="223.4" cy="190.7" r="2.3" fill="#f25c3a" stroke="#222" stroke-width="0.7"/>
<circle cx="227.7" cy="190.7" r="2.3" fill="#f25c3a" stroke="#222" stroke-width="0.7"/>
<circle cx="228.4" cy="197.1" r="2.3" fill="#f25c3a" stroke="#222" stroke-width="0.7"/>
<circle cx="228.4" cy="200.7" r="2.3" fill="#3862de" stroke="#222" stroke-width="0.7"/>
<circle cx="181.4" cy="206.4" r="2.3" fill="#f25c3a" stroke="#222" stroke-width="0.7"/>
<circle cx="147.6" cy="243.0" r="2.3" fill="#f25c3a" stroke="#222" stroke-width="0.7"/>
<circle cx="152.3" cy="221.6" r="2.3" fill="#f25c3a" stroke="#222" stroke-width="0.7"/>
<circle cx="155.8" cy="229.5" r="2.3" fill="#3862de" stroke="#222" stroke-width="0.7"/>
<circle cx="155.1" cy="226.6" r="2.3" fill="#f25c3a" stroke="#222" stroke-width="0.7"/>
<circle cx="167.9" cy="208.8" r="2.3" fill="#3862de" stroke="#222" stroke-width="0.7"/>
<circle cx="167.9" cy="211.7" r="2.3" fill="#f25c3a" stroke="#222" stroke-width="0.7"/>
<circle cx="172.2" cy="213.8" r="2.3" fill="#3862de" stroke="#222" stroke-width="0.7"/>
<circle cx="171.5" cy="211.7" r="2.3" fill="#f25c3a" stroke="#222" stroke-width="0.7"/>
<circle cx="170.8" cy="219.5" r="2.3" fill="#f25c3a" stroke="#222" stroke-width="0.7"/>
<circle cx="177.2" cy="207.4" r="2.3" fill="#3862de" stroke="#222" stroke-width="0.7"/>
<circle cx="177.9" cy="208.8" r="2.3" fill="#f25c3a" stroke="#222" stroke-width="0.7"/>
<circle cx="183.6" cy="202.4" r="2.3" fill="#3862de" stroke="#222" stroke-width="0.7"/>
<circle cx="184.3" cy="206.7" r="2.3" fill="#f25c3a" stroke="#222" stroke-width="0.7"/>
<circle cx="185.7" cy="210.2" r="2.3" fill="#f25c3a" stroke="#222" stroke-width="0.7"/>
<circle cx="186.4" cy="218.1" r="2.3" fill="#3862de" stroke="#222" stroke-width="0.7"/>
<circle cx="185.0" cy="197.4" r="2.3" fill="#f25c3a" stroke="#222" stroke-width="0.7"/>
<circle cx="190.0" cy="198.1" r="2.3" fill="#f25c3a" stroke="#222" stroke-width="0.7"/>
<circle cx="192.1" cy="203.8" r="2.3" fill="#3862de" stroke="#222" stroke-width="0.7"/>
<circle cx="192.1" cy="206.7" r="2.3" fill="#f25c3a" stroke="#222" stroke-width="0.7"/>
<line x1="-63.80" y1="408.45" x2="1011.40" y2="-471.15" stroke="#2a2a2a" stroke-width="1.05" stroke-dasharray="2.6,2.0"/>
<line x1="146.76" y1="227.81" x2="241.74" y2="163.79" stroke="#3862de" stroke-width="1.45"/>
<line x1="146.76" y1="229.40" x2="241.74" y2="162.96" stroke="#f25c3a" stroke-width="1.45"/>
<text transform="translate(165.4,226.9) rotate(-39.3)" font-size="5.6" text-anchor="middle" dominant-baseline="central" fill="#333" stroke="#333" stroke-width="0.15">1:1</text>
</g>
<rect x="143.1" y="147.3" width="103.30" height="100.70" fill="none" stroke="#5a5a5a" stroke-width="1"/>
<line x1="160.20" y1="248.0" x2="160.20" y2="250.20" stroke="#5a5a5a" stroke-width="0.9"/>
<text transform="translate(160.20,257.10) scale(0.83,1)" font-size="8.4" text-anchor="middle" fill="#2e2e2e" stroke="#2e2e2e" stroke-width="0.22">1</text>
<line x1="205.00" y1="248.0" x2="205.00" y2="250.20" stroke="#5a5a5a" stroke-width="0.9"/>
<text transform="translate(205.00,257.10) scale(0.83,1)" font-size="8.4" text-anchor="middle" fill="#2e2e2e" stroke="#2e2e2e" stroke-width="0.22">2</text>
<line x1="140.90" y1="225.20" x2="143.1" y2="225.20" stroke="#5a5a5a" stroke-width="0.9"/>
<text transform="translate(139.40,227.80) scale(0.83,1)" font-size="8.4" text-anchor="end" fill="#2e2e2e" stroke="#2e2e2e" stroke-width="0.22">1</text>
<line x1="140.90" y1="188.55" x2="143.1" y2="188.55" stroke="#5a5a5a" stroke-width="0.9"/>
<text transform="translate(139.40,191.15) scale(0.83,1)" font-size="8.4" text-anchor="end" fill="#2e2e2e" stroke="#2e2e2e" stroke-width="0.22">2</text>
<line x1="140.90" y1="151.90" x2="143.1" y2="151.90" stroke="#5a5a5a" stroke-width="0.9"/>
<text transform="translate(139.40,154.50) scale(0.83,1)" font-size="8.4" text-anchor="end" fill="#2e2e2e" stroke="#2e2e2e" stroke-width="0.22">3</text>
<text x="194.75" y="143.40" font-size="8.3" text-anchor="middle" fill="#1a1a1a" stroke="#1a1a1a" stroke-width="0.25">SfPm</text>
<text x="173.3" y="161.00" font-size="6.0" text-anchor="middle" fill="#4a72da" stroke="#4a72da" stroke-width="0.1">y = 0.824 x + 0.352</text>
<text x="173.3" y="168.30" font-size="6.0" text-anchor="middle" fill="#4a72da" stroke="#4a72da" stroke-width="0.1">R<tspan font-size="4" dy="-2.2">2</tspan><tspan dy="2.2">=</tspan>0.594</text>
<text x="209.3" y="235.00" font-size="6.0" text-anchor="middle" fill="#ee6a4e" stroke="#ee6a4e" stroke-width="0.1">y = 0.855 x + 0.287</text>
<text x="209.3" y="242.30" font-size="6.0" text-anchor="middle" fill="#ee6a4e" stroke="#ee6a4e" stroke-width="0.1">R<tspan font-size="4" dy="-2.2">2</tspan><tspan dy="2.2">=</tspan>0.669</text>
<clipPath id="cb1"><rect x="23.6" y="294.5" width="101.70" height="100.90"/></clipPath>
<g clip-path="url(#cb1)">
<circle cx="66.4" cy="309.3" r="2.3" fill="#3862de" stroke="#222" stroke-width="0.7"/>
<circle cx="46.5" cy="318.1" r="2.3" fill="#3862de" stroke="#222" stroke-width="0.7"/>
<circle cx="50.8" cy="320.7" r="2.3" fill="#3862de" stroke="#222" stroke-width="0.7"/>
<circle cx="56.5" cy="318.5" r="2.3" fill="#f25c3a" stroke="#222" stroke-width="0.7"/>
<circle cx="55.8" cy="322.1" r="2.3" fill="#3862de" stroke="#222" stroke-width="0.7"/>
<circle cx="47.2" cy="324.2" r="2.3" fill="#3862de" stroke="#222" stroke-width="0.7"/>
<circle cx="46.5" cy="328.5" r="2.3" fill="#f25c3a" stroke="#222" stroke-width="0.7"/>
<circle cx="53.6" cy="326.4" r="2.3" fill="#3862de" stroke="#222" stroke-width="0.7"/>
<circle cx="59.3" cy="324.9" r="2.3" fill="#3862de" stroke="#222" stroke-width="0.7"/>
<circle cx="59.3" cy="329.2" r="2.3" fill="#f25c3a" stroke="#222" stroke-width="0.7"/>
<circle cx="64.3" cy="323.5" r="2.3" fill="#f25c3a" stroke="#222" stroke-width="0.7"/>
<circle cx="66.4" cy="322.1" r="2.3" fill="#f25c3a" stroke="#222" stroke-width="0.7"/>
<circle cx="65.0" cy="327.8" r="2.3" fill="#3862de" stroke="#222" stroke-width="0.7"/>
<circle cx="69.3" cy="327.8" r="2.3" fill="#f25c3a" stroke="#222" stroke-width="0.7"/>
<circle cx="72.1" cy="324.2" r="2.3" fill="#f25c3a" stroke="#222" stroke-width="0.7"/>
<circle cx="72.9" cy="327.1" r="2.3" fill="#3862de" stroke="#222" stroke-width="0.7"/>
<circle cx="50.8" cy="332.1" r="2.3" fill="#f25c3a" stroke="#222" stroke-width="0.7"/>
<circle cx="57.2" cy="333.5" r="2.3" fill="#f25c3a" stroke="#222" stroke-width="0.7"/>
<circle cx="47.9" cy="335.6" r="2.3" fill="#f25c3a" stroke="#222" stroke-width="0.7"/>
<circle cx="53.6" cy="336.3" r="2.3" fill="#f25c3a" stroke="#222" stroke-width="0.7"/>
<circle cx="59.3" cy="337.8" r="2.3" fill="#f25c3a" stroke="#222" stroke-width="0.7"/>
<circle cx="40.8" cy="335.6" r="2.3" fill="#3862de" stroke="#222" stroke-width="0.7"/>
<circle cx="49.4" cy="339.2" r="2.3" fill="#f25c3a" stroke="#222" stroke-width="0.7"/>
<circle cx="55.8" cy="339.9" r="2.3" fill="#f25c3a" stroke="#222" stroke-width="0.7"/>
<circle cx="52.2" cy="342.0" r="2.3" fill="#f25c3a" stroke="#222" stroke-width="0.7"/>
<circle cx="60.7" cy="342.7" r="2.3" fill="#f25c3a" stroke="#222" stroke-width="0.7"/>
<circle cx="53.6" cy="344.2" r="2.3" fill="#f25c3a" stroke="#222" stroke-width="0.7"/>
<circle cx="68.6" cy="332.8" r="2.3" fill="#f25c3a" stroke="#222" stroke-width="0.7"/>
<circle cx="66.4" cy="338.5" r="2.3" fill="#f25c3a" stroke="#222" stroke-width="0.7"/>
<circle cx="69.3" cy="339.9" r="2.3" fill="#f25c3a" stroke="#222" stroke-width="0.7"/>
<circle cx="72.1" cy="337.0" r="2.3" fill="#3862de" stroke="#222" stroke-width="0.7"/>
<circle cx="40.8" cy="345.6" r="2.3" fill="#f25c3a" stroke="#222" stroke-width="0.7"/>
<circle cx="69.3" cy="348.4" r="2.3" fill="#f25c3a" stroke="#222" stroke-width="0.7"/>
<circle cx="55.0" cy="351.3" r="2.3" fill="#3862de" stroke="#222" stroke-width="0.7"/>
<circle cx="60.7" cy="347.7" r="2.3" fill="#3862de" stroke="#222" stroke-width="0.7"/>
<circle cx="44.4" cy="355.6" r="2.3" fill="#f25c3a" stroke="#222" stroke-width="0.7"/>
<circle cx="78.0" cy="314.9" r="2.3" fill="#f25c3a" stroke="#222" stroke-width="0.7"/>
<circle cx="79.4" cy="318.5" r="2.3" fill="#f25c3a" stroke="#222" stroke-width="0.7"/>
<circle cx="79.4" cy="320.6" r="2.3" fill="#3862de" stroke="#222" stroke-width="0.7"/>
<circle cx="83.7" cy="318.5" r="2.3" fill="#f25c3a" stroke="#222" stroke-width="0.7"/>
<circle cx="83.7" cy="320.6" r="2.3" fill="#3862de" stroke="#222" stroke-width="0.7"/>
<circle cx="88.0" cy="319.9" r="2.3" fill="#f25c3a" stroke="#222" stroke-width="0.7"/>
<circle cx="88.0" cy="321.4" r="2.3" fill="#3862de" stroke="#222" stroke-width="0.7"/>
<circle cx="97.5" cy="320.6" r="2.3" fill="#f25c3a" stroke="#222" stroke-width="0.7"/>
<circle cx="97.5" cy="322.8" r="2.3" fill="#3862de" stroke="#222" stroke-width="0.7"/>
<circle cx="73.7" cy="324.2" r="2.3" fill="#f25c3a" stroke="#222" stroke-width="0.7"/>
<circle cx="73.7" cy="327.1" r="2.3" fill="#3862de" stroke="#222" stroke-width="0.7"/>
<circle cx="78.7" cy="330.6" r="2.3" fill="#f25c3a" stroke="#222" stroke-width="0.7"/>
<circle cx="78.7" cy="332.7" r="2.3" fill="#3862de" stroke="#222" stroke-width="0.7"/>
<circle cx="88.0" cy="331.3" r="2.3" fill="#f25c3a" stroke="#222" stroke-width="0.7"/>
<circle cx="88.7" cy="334.9" r="2.3" fill="#3862de" stroke="#222" stroke-width="0.7"/>
<circle cx="92.9" cy="334.9" r="2.3" fill="#f25c3a" stroke="#222" stroke-width="0.7"/>
<circle cx="92.9" cy="339.2" r="2.3" fill="#3862de" stroke="#222" stroke-width="0.7"/>
<circle cx="85.8" cy="336.3" r="2.3" fill="#f25c3a" stroke="#222" stroke-width="0.7"/>
<circle cx="85.8" cy="337.7" r="2.3" fill="#3862de" stroke="#222" stroke-width="0.7"/>
<circle cx="81.5" cy="336.3" r="2.3" fill="#f25c3a" stroke="#222" stroke-width="0.7"/>
<circle cx="81.5" cy="339.2" r="2.3" fill="#f25c3a" stroke="#222" stroke-width="0.7"/>
<circle cx="81.5" cy="342.0" r="2.3" fill="#3862de" stroke="#222" stroke-width="0.7"/>
<circle cx="75.8" cy="340.6" r="2.3" fill="#f25c3a" stroke="#222" stroke-width="0.7"/>
<circle cx="76.6" cy="344.1" r="2.3" fill="#f25c3a" stroke="#222" stroke-width="0.7"/>
<circle cx="120.7" cy="330.6" r="2.3" fill="#f25c3a" stroke="#222" stroke-width="0.7"/>
<circle cx="120.7" cy="333.7" r="2.3" fill="#3862de" stroke="#222" stroke-width="0.7"/>
<circle cx="40.8" cy="346.1" r="2.3" fill="#f25c3a" stroke="#222" stroke-width="0.7"/>
<circle cx="55.0" cy="352.1" r="2.3" fill="#3862de" stroke="#222" stroke-width="0.7"/>
<circle cx="60.7" cy="348.6" r="2.3" fill="#3862de" stroke="#222" stroke-width="0.7"/>
<circle cx="44.4" cy="355.7" r="2.3" fill="#f25c3a" stroke="#222" stroke-width="0.7"/>
<circle cx="33.7" cy="360.0" r="2.3" fill="#f25c3a" stroke="#222" stroke-width="0.7"/>
<circle cx="38.7" cy="358.5" r="2.3" fill="#f25c3a" stroke="#222" stroke-width="0.7"/>
<circle cx="36.5" cy="362.1" r="2.3" fill="#f25c3a" stroke="#222" stroke-width="0.7"/>
<circle cx="31.5" cy="364.9" r="2.3" fill="#f25c3a" stroke="#222" stroke-width="0.7"/>
<circle cx="30.8" cy="367.1" r="2.3" fill="#f25c3a" stroke="#222" stroke-width="0.7"/>
<circle cx="41.5" cy="363.5" r="2.3" fill="#f25c3a" stroke="#222" stroke-width="0.7"/>
<circle cx="45.1" cy="362.8" r="2.3" fill="#f25c3a" stroke="#222" stroke-width="0.7"/>
<circle cx="47.9" cy="360.0" r="2.3" fill="#f25c3a" stroke="#222" stroke-width="0.7"/>
<circle cx="54.3" cy="360.0" r="2.3" fill="#f25c3a" stroke="#222" stroke-width="0.7"/>
<circle cx="58.6" cy="362.1" r="2.3" fill="#f25c3a" stroke="#222" stroke-width="0.7"/>
<circle cx="52.2" cy="363.5" r="2.3" fill="#f25c3a" stroke="#222" stroke-width="0.7"/>
<circle cx="60.7" cy="366.4" r="2.3" fill="#f25c3a" stroke="#222" stroke-width="0.7"/>
<circle cx="41.5" cy="367.1" r="2.3" fill="#f25c3a" stroke="#222" stroke-width="0.7"/>
<circle cx="34.4" cy="370.6" r="2.3" fill="#f25c3a" stroke="#222" stroke-width="0.7"/>
<circle cx="40.1" cy="370.6" r="2.3" fill="#f25c3a" stroke="#222" stroke-width="0.7"/>
<circle cx="45.8" cy="371.4" r="2.3" fill="#3862de" stroke="#222" stroke-width="0.7"/>
<circle cx="50.1" cy="370.4" r="2.3" fill="#f25c3a" stroke="#222" stroke-width="0.7"/>
<circle cx="60.0" cy="370.9" r="2.3" fill="#f25c3a" stroke="#222" stroke-width="0.7"/>
<circle cx="28.0" cy="374.2" r="2.3" fill="#f25c3a" stroke="#222" stroke-width="0.7"/>
<circle cx="28.0" cy="377.8" r="2.3" fill="#3862de" stroke="#222" stroke-width="0.7"/>
<circle cx="31.5" cy="373.5" r="2.3" fill="#3862de" stroke="#222" stroke-width="0.7"/>
<circle cx="38.7" cy="374.9" r="2.3" fill="#3862de" stroke="#222" stroke-width="0.7"/>
<circle cx="42.9" cy="376.3" r="2.3" fill="#f25c3a" stroke="#222" stroke-width="0.7"/>
<circle cx="38.7" cy="378.5" r="2.3" fill="#3862de" stroke="#222" stroke-width="0.7"/>
<circle cx="48.6" cy="377.8" r="2.3" fill="#3862de" stroke="#222" stroke-width="0.7"/>
<circle cx="50.8" cy="379.9" r="2.3" fill="#3862de" stroke="#222" stroke-width="0.7"/>
<circle cx="57.9" cy="377.8" r="2.3" fill="#3862de" stroke="#222" stroke-width="0.7"/>
<circle cx="60.7" cy="379.2" r="2.3" fill="#3862de" stroke="#222" stroke-width="0.7"/>
<circle cx="34.4" cy="383.5" r="2.3" fill="#3862de" stroke="#222" stroke-width="0.7"/>
<circle cx="40.8" cy="384.2" r="2.3" fill="#3862de" stroke="#222" stroke-width="0.7"/>
<circle cx="41.5" cy="381.3" r="2.3" fill="#3862de" stroke="#222" stroke-width="0.7"/>
<circle cx="50.1" cy="383.5" r="2.3" fill="#3862de" stroke="#222" stroke-width="0.7"/>
<circle cx="60.0" cy="384.9" r="2.3" fill="#3862de" stroke="#222" stroke-width="0.7"/>
<circle cx="42.9" cy="390.6" r="2.3" fill="#3862de" stroke="#222" stroke-width="0.7"/>
<circle cx="91.1" cy="369.9" r="2.3" fill="#f25c3a" stroke="#222" stroke-width="0.7"/>
<circle cx="89.2" cy="372.0" r="2.3" fill="#f25c3a" stroke="#222" stroke-width="0.7"/>
<circle cx="91.1" cy="382.7" r="2.3" fill="#3862de" stroke="#222" stroke-width="0.7"/>
<circle cx="89.2" cy="385.6" r="2.3" fill="#3862de" stroke="#222" stroke-width="0.7"/>
<circle cx="76.4" cy="348.5" r="2.3" fill="#3862de" stroke="#222" stroke-width="0.7"/>
<circle cx="76.4" cy="344.0" r="2.3" fill="#f25c3a" stroke="#222" stroke-width="0.7"/>
<circle cx="81.4" cy="342.1" r="2.3" fill="#3862de" stroke="#222" stroke-width="0.7"/>
<circle cx="92.8" cy="340.0" r="2.3" fill="#3862de" stroke="#222" stroke-width="0.7"/>
<line x1="-79.90" y1="467.85" x2="398.90" y2="42.33" stroke="#2a2a2a" stroke-width="1.05" stroke-dasharray="2.6,2.0"/>
<line x1="27.83" y1="372.10" x2="121.20" y2="309.53" stroke="#3862de" stroke-width="1.45"/>
<line x1="27.83" y1="365.36" x2="121.20" y2="312.34" stroke="#f25c3a" stroke-width="1.45"/>
<text transform="translate(103.19999999999999,298.90000000000003) rotate(-41.6)" font-size="5.6" text-anchor="middle" dominant-baseline="central" fill="#333" stroke="#333" stroke-width="0.15">1:1</text>
</g>
<rect x="23.6" y="294.5" width="101.70" height="100.90" fill="none" stroke="#5a5a5a" stroke-width="1"/>
<line x1="39.80" y1="395.4" x2="39.80" y2="397.60" stroke="#5a5a5a" stroke-width="0.9"/>
<text transform="translate(39.80,404.50) scale(0.83,1)" font-size="8.4" text-anchor="middle" fill="#2e2e2e" stroke="#2e2e2e" stroke-width="0.22">2</text>
<line x1="59.75" y1="395.4" x2="59.75" y2="397.60" stroke="#5a5a5a" stroke-width="0.9"/>
<text transform="translate(59.75,404.50) scale(0.83,1)" font-size="8.4" text-anchor="middle" fill="#2e2e2e" stroke="#2e2e2e" stroke-width="0.22">3</text>
<line x1="79.70" y1="395.4" x2="79.70" y2="397.60" stroke="#5a5a5a" stroke-width="0.9"/>
<text transform="translate(79.70,404.50) scale(0.83,1)" font-size="8.4" text-anchor="middle" fill="#2e2e2e" stroke="#2e2e2e" stroke-width="0.22">4</text>
<line x1="99.65" y1="395.4" x2="99.65" y2="397.60" stroke="#5a5a5a" stroke-width="0.9"/>
<text transform="translate(99.65,404.50) scale(0.83,1)" font-size="8.4" text-anchor="middle" fill="#2e2e2e" stroke="#2e2e2e" stroke-width="0.22">5</text>
<line x1="119.60" y1="395.4" x2="119.60" y2="397.60" stroke="#5a5a5a" stroke-width="0.9"/>
<text transform="translate(119.60,404.50) scale(0.83,1)" font-size="8.4" text-anchor="middle" fill="#2e2e2e" stroke="#2e2e2e" stroke-width="0.22">6</text>
<line x1="21.40" y1="379.20" x2="23.6" y2="379.20" stroke="#5a5a5a" stroke-width="0.9"/>
<text transform="translate(19.90,381.80) scale(0.83,1)" font-size="8.4" text-anchor="end" fill="#2e2e2e" stroke="#2e2e2e" stroke-width="0.22">1</text>
<line x1="21.40" y1="361.47" x2="23.6" y2="361.47" stroke="#5a5a5a" stroke-width="0.9"/>
<text transform="translate(19.90,364.07) scale(0.83,1)" font-size="8.4" text-anchor="end" fill="#2e2e2e" stroke="#2e2e2e" stroke-width="0.22">2</text>
<line x1="21.40" y1="343.74" x2="23.6" y2="343.74" stroke="#5a5a5a" stroke-width="0.9"/>
<text transform="translate(19.90,346.34) scale(0.83,1)" font-size="8.4" text-anchor="end" fill="#2e2e2e" stroke="#2e2e2e" stroke-width="0.22">3</text>
<line x1="21.40" y1="326.01" x2="23.6" y2="326.01" stroke="#5a5a5a" stroke-width="0.9"/>
<text transform="translate(19.90,328.61) scale(0.83,1)" font-size="8.4" text-anchor="end" fill="#2e2e2e" stroke="#2e2e2e" stroke-width="0.22">4</text>
<line x1="21.40" y1="308.28" x2="23.6" y2="308.28" stroke="#5a5a5a" stroke-width="0.9"/>
<text transform="translate(19.90,310.88) scale(0.83,1)" font-size="8.4" text-anchor="end" fill="#2e2e2e" stroke="#2e2e2e" stroke-width="0.22">5</text>
<text x="74.45" y="290.60" font-size="8.3" text-anchor="middle" fill="#1a1a1a" stroke="#1a1a1a" stroke-width="0.25">SsD</text>
<text x="51.4" y="300.90" font-size="6.0" text-anchor="middle" fill="#4a72da" stroke="#4a72da" stroke-width="0.1">y = 0.754 x + 0.345</text>
<text x="51.4" y="305.70" font-size="6.0" text-anchor="middle" fill="#4a72da" stroke="#4a72da" stroke-width="0.1">R<tspan font-size="4" dy="-2.2">2</tspan><tspan dy="2.2">=</tspan>0.283</text>
<text x="97.2" y="353.70" font-size="6.0" text-anchor="middle" fill="#ee6a4e" stroke="#ee6a4e" stroke-width="0.1">y = 0.639 x + 0.886</text>
<text x="97.2" y="358.60" font-size="6.0" text-anchor="middle" fill="#ee6a4e" stroke="#ee6a4e" stroke-width="0.1">R<tspan font-size="4" dy="-2.2">2</tspan><tspan dy="2.2">=</tspan>0.380</text>
<clipPath id="cb2"><rect x="141.4" y="294.5" width="102.20" height="100.90"/></clipPath>
<g clip-path="url(#cb2)">
<circle cx="234.8" cy="302.6" r="2.3" fill="#3862de" stroke="#222" stroke-width="0.7"/>
<circle cx="225.6" cy="308.5" r="2.3" fill="#3862de" stroke="#222" stroke-width="0.7"/>
<circle cx="224.7" cy="311.9" r="2.3" fill="#3862de" stroke="#222" stroke-width="0.7"/>
<circle cx="230.7" cy="314.4" r="2.3" fill="#3862de" stroke="#222" stroke-width="0.7"/>
<circle cx="214.5" cy="320.2" r="2.3" fill="#3862de" stroke="#222" stroke-width="0.7"/>
<circle cx="221.4" cy="323.5" r="2.3" fill="#3862de" stroke="#222" stroke-width="0.7"/>
<circle cx="226.5" cy="320.8" r="2.3" fill="#3862de" stroke="#222" stroke-width="0.7"/>
<circle cx="207.0" cy="321.1" r="2.3" fill="#3862de" stroke="#222" stroke-width="0.7"/>
<circle cx="205.5" cy="327.1" r="2.3" fill="#3862de" stroke="#222" stroke-width="0.7"/>
<circle cx="214.7" cy="334.6" r="2.3" fill="#3862de" stroke="#222" stroke-width="0.7"/>
<circle cx="186.5" cy="346.4" r="2.3" fill="#3862de" stroke="#222" stroke-width="0.7"/>
<circle cx="193.1" cy="346.2" r="2.3" fill="#3862de" stroke="#222" stroke-width="0.7"/>
<circle cx="194.4" cy="335.7" r="2.3" fill="#3862de" stroke="#222" stroke-width="0.7"/>
<circle cx="208.4" cy="330.6" r="2.3" fill="#3862de" stroke="#222" stroke-width="0.7"/>
<circle cx="229.7" cy="299.3" r="2.3" fill="#f25c3a" stroke="#222" stroke-width="0.7"/>
<circle cx="234.7" cy="300.7" r="2.3" fill="#f25c3a" stroke="#222" stroke-width="0.7"/>
<circle cx="239.7" cy="299.3" r="2.3" fill="#f25c3a" stroke="#222" stroke-width="0.7"/>
<circle cx="238.3" cy="302.8" r="2.3" fill="#3862de" stroke="#222" stroke-width="0.7"/>
<circle cx="236.2" cy="304.3" r="2.3" fill="#f25c3a" stroke="#222" stroke-width="0.7"/>
<circle cx="226.2" cy="305.7" r="2.3" fill="#f25c3a" stroke="#222" stroke-width="0.7"/>
<circle cx="232.6" cy="309.2" r="2.3" fill="#3862de" stroke="#222" stroke-width="0.7"/>
<circle cx="236.2" cy="309.2" r="2.3" fill="#f25c3a" stroke="#222" stroke-width="0.7"/>
<circle cx="234.0" cy="312.8" r="2.3" fill="#f25c3a" stroke="#222" stroke-width="0.7"/>
<circle cx="223.3" cy="310.0" r="2.3" fill="#3862de" stroke="#222" stroke-width="0.7"/>
<circle cx="227.6" cy="310.0" r="2.3" fill="#f25c3a" stroke="#222" stroke-width="0.7"/>
<circle cx="218.4" cy="311.4" r="2.3" fill="#f25c3a" stroke="#222" stroke-width="0.7"/>
<circle cx="223.3" cy="312.8" r="2.3" fill="#f25c3a" stroke="#222" stroke-width="0.7"/>
<circle cx="228.3" cy="314.9" r="2.3" fill="#f25c3a" stroke="#222" stroke-width="0.7"/>
<circle cx="233.3" cy="314.2" r="2.3" fill="#3862de" stroke="#222" stroke-width="0.7"/>
<circle cx="209.8" cy="314.9" r="2.3" fill="#3862de" stroke="#222" stroke-width="0.7"/>
<circle cx="214.8" cy="317.1" r="2.3" fill="#f25c3a" stroke="#222" stroke-width="0.7"/>
<circle cx="219.1" cy="316.4" r="2.3" fill="#f25c3a" stroke="#222" stroke-width="0.7"/>
<circle cx="223.3" cy="317.1" r="2.3" fill="#f25c3a" stroke="#222" stroke-width="0.7"/>
<circle cx="229.7" cy="317.8" r="2.3" fill="#f25c3a" stroke="#222" stroke-width="0.7"/>
<circle cx="233.3" cy="317.1" r="2.3" fill="#f25c3a" stroke="#222" stroke-width="0.7"/>
<circle cx="230.5" cy="321.4" r="2.3" fill="#3862de" stroke="#222" stroke-width="0.7"/>
<circle cx="227.6" cy="320.6" r="2.3" fill="#f25c3a" stroke="#222" stroke-width="0.7"/>
<circle cx="209.8" cy="320.6" r="2.3" fill="#f25c3a" stroke="#222" stroke-width="0.7"/>
<circle cx="213.4" cy="321.4" r="2.3" fill="#f25c3a" stroke="#222" stroke-width="0.7"/>
<circle cx="217.6" cy="320.6" r="2.3" fill="#f25c3a" stroke="#222" stroke-width="0.7"/>
<circle cx="221.9" cy="321.4" r="2.3" fill="#f25c3a" stroke="#222" stroke-width="0.7"/>
<circle cx="224.8" cy="321.4" r="2.3" fill="#f25c3a" stroke="#222" stroke-width="0.7"/>
<circle cx="207.7" cy="323.5" r="2.3" fill="#f25c3a" stroke="#222" stroke-width="0.7"/>
<circle cx="211.9" cy="324.9" r="2.3" fill="#f25c3a" stroke="#222" stroke-width="0.7"/>
<circle cx="216.9" cy="324.2" r="2.3" fill="#f25c3a" stroke="#222" stroke-width="0.7"/>
<circle cx="220.5" cy="325.6" r="2.3" fill="#f25c3a" stroke="#222" stroke-width="0.7"/>
<circle cx="200.5" cy="325.6" r="2.3" fill="#f25c3a" stroke="#222" stroke-width="0.7"/>
<circle cx="204.8" cy="325.6" r="2.3" fill="#f25c3a" stroke="#222" stroke-width="0.7"/>
<circle cx="209.1" cy="327.8" r="2.3" fill="#f25c3a" stroke="#222" stroke-width="0.7"/>
<circle cx="216.2" cy="327.1" r="2.3" fill="#f25c3a" stroke="#222" stroke-width="0.7"/>
<circle cx="221.2" cy="327.8" r="2.3" fill="#f25c3a" stroke="#222" stroke-width="0.7"/>
<circle cx="194.1" cy="325.6" r="2.3" fill="#3862de" stroke="#222" stroke-width="0.7"/>
<circle cx="193.4" cy="327.8" r="2.3" fill="#f25c3a" stroke="#222" stroke-width="0.7"/>
<circle cx="198.4" cy="328.5" r="2.3" fill="#3862de" stroke="#222" stroke-width="0.7"/>
<circle cx="197.7" cy="332.0" r="2.3" fill="#f25c3a" stroke="#222" stroke-width="0.7"/>
<circle cx="203.4" cy="330.6" r="2.3" fill="#f25c3a" stroke="#222" stroke-width="0.7"/>
<circle cx="209.1" cy="331.3" r="2.3" fill="#f25c3a" stroke="#222" stroke-width="0.7"/>
<circle cx="216.9" cy="330.6" r="2.3" fill="#f25c3a" stroke="#222" stroke-width="0.7"/>
<circle cx="213.4" cy="333.5" r="2.3" fill="#f25c3a" stroke="#222" stroke-width="0.7"/>
<circle cx="195.6" cy="335.6" r="2.3" fill="#f25c3a" stroke="#222" stroke-width="0.7"/>
<circle cx="205.5" cy="334.2" r="2.3" fill="#f25c3a" stroke="#222" stroke-width="0.7"/>
<circle cx="211.9" cy="335.6" r="2.3" fill="#f25c3a" stroke="#222" stroke-width="0.7"/>
<circle cx="214.1" cy="336.3" r="2.3" fill="#f25c3a" stroke="#222" stroke-width="0.7"/>
<circle cx="214.1" cy="338.4" r="2.3" fill="#3862de" stroke="#222" stroke-width="0.7"/>
<circle cx="208.4" cy="338.4" r="2.3" fill="#f25c3a" stroke="#222" stroke-width="0.7"/>
<circle cx="199.1" cy="339.2" r="2.3" fill="#f25c3a" stroke="#222" stroke-width="0.7"/>
<circle cx="203.4" cy="339.9" r="2.3" fill="#f25c3a" stroke="#222" stroke-width="0.7"/>
<circle cx="195.6" cy="342.7" r="2.3" fill="#f25c3a" stroke="#222" stroke-width="0.7"/>
<circle cx="204.1" cy="344.1" r="2.3" fill="#f25c3a" stroke="#222" stroke-width="0.7"/>
<circle cx="192.7" cy="345.6" r="2.3" fill="#f25c3a" stroke="#222" stroke-width="0.7"/>
<circle cx="189.2" cy="357.0" r="2.3" fill="#f25c3a" stroke="#222" stroke-width="0.7"/>
<circle cx="195.6" cy="355.6" r="2.3" fill="#f25c3a" stroke="#222" stroke-width="0.7"/>
<circle cx="194.2" cy="352.1" r="2.3" fill="#3862de" stroke="#222" stroke-width="0.7"/>
<circle cx="197.7" cy="351.3" r="2.3" fill="#f25c3a" stroke="#222" stroke-width="0.7"/>
<circle cx="201.3" cy="349.2" r="2.3" fill="#f25c3a" stroke="#222" stroke-width="0.7"/>
<circle cx="188.0" cy="345.0" r="2.3" fill="#3862de" stroke="#222" stroke-width="0.7"/>
<circle cx="188.5" cy="346.4" r="2.3" fill="#f25c3a" stroke="#222" stroke-width="0.7"/>
<circle cx="191.3" cy="341.4" r="2.3" fill="#f25c3a" stroke="#222" stroke-width="0.7"/>
<circle cx="193.5" cy="347.8" r="2.3" fill="#f25c3a" stroke="#222" stroke-width="0.7"/>
<circle cx="195.6" cy="344.2" r="2.3" fill="#f25c3a" stroke="#222" stroke-width="0.7"/>
<circle cx="198.5" cy="342.8" r="2.3" fill="#3862de" stroke="#222" stroke-width="0.7"/>
<circle cx="201.3" cy="346.4" r="2.3" fill="#f25c3a" stroke="#222" stroke-width="0.7"/>
<circle cx="204.2" cy="344.9" r="2.3" fill="#3862de" stroke="#222" stroke-width="0.7"/>
<circle cx="204.2" cy="339.9" r="2.3" fill="#f25c3a" stroke="#222" stroke-width="0.7"/>
<circle cx="207.7" cy="337.8" r="2.3" fill="#f25c3a" stroke="#222" stroke-width="0.7"/>
<circle cx="198.5" cy="339.2" r="2.3" fill="#f25c3a" stroke="#222" stroke-width="0.7"/>
<circle cx="196.3" cy="335.0" r="2.3" fill="#f25c3a" stroke="#222" stroke-width="0.7"/>
<circle cx="199.2" cy="330.7" r="2.3" fill="#3862de" stroke="#222" stroke-width="0.7"/>
<circle cx="200.6" cy="325.7" r="2.3" fill="#f25c3a" stroke="#222" stroke-width="0.7"/>
<circle cx="193.5" cy="326.4" r="2.3" fill="#3862de" stroke="#222" stroke-width="0.7"/>
<circle cx="193.5" cy="327.8" r="2.3" fill="#f25c3a" stroke="#222" stroke-width="0.7"/>
<circle cx="204.9" cy="325.7" r="2.3" fill="#f25c3a" stroke="#222" stroke-width="0.7"/>
<circle cx="208.4" cy="327.8" r="2.3" fill="#f25c3a" stroke="#222" stroke-width="0.7"/>
<circle cx="207.0" cy="332.8" r="2.3" fill="#f25c3a" stroke="#222" stroke-width="0.7"/>
<circle cx="204.9" cy="330.0" r="2.3" fill="#f25c3a" stroke="#222" stroke-width="0.7"/>
<circle cx="209.9" cy="334.2" r="2.3" fill="#f25c3a" stroke="#222" stroke-width="0.7"/>
<circle cx="145.9" cy="389.4" r="2.3" fill="#3862de" stroke="#222" stroke-width="0.7"/>
<circle cx="145.4" cy="388.3" r="2.3" fill="#f25c3a" stroke="#222" stroke-width="0.7"/>
<circle cx="159.8" cy="378.6" r="2.3" fill="#3862de" stroke="#222" stroke-width="0.7"/>
<circle cx="159.4" cy="377.5" r="2.3" fill="#f25c3a" stroke="#222" stroke-width="0.7"/>
<line x1="100.45" y1="445.30" x2="318.03" y2="216.94" stroke="#2a2a2a" stroke-width="1.05" stroke-dasharray="2.6,2.0"/>
<line x1="145.45" y1="391.64" x2="239.90" y2="302.13" stroke="#3862de" stroke-width="1.45"/>
<line x1="145.45" y1="390.42" x2="239.90" y2="302.30" stroke="#f25c3a" stroke-width="1.45"/>
<text transform="translate(160.6,389.0) rotate(-46.4)" font-size="5.6" text-anchor="middle" dominant-baseline="central" fill="#333" stroke="#333" stroke-width="0.15">1:1</text>
</g>
<rect x="141.4" y="294.5" width="102.20" height="100.90" fill="none" stroke="#5a5a5a" stroke-width="1"/>
<line x1="149.90" y1="395.4" x2="149.90" y2="397.60" stroke="#5a5a5a" stroke-width="0.9"/>
<text transform="translate(149.90,404.50) scale(0.83,1)" font-size="8.4" text-anchor="middle" fill="#2e2e2e" stroke="#2e2e2e" stroke-width="0.22">3</text>
<line x1="159.79" y1="395.4" x2="159.79" y2="397.60" stroke="#5a5a5a" stroke-width="0.9"/>
<text transform="translate(159.79,404.50) scale(0.83,1)" font-size="8.4" text-anchor="middle" fill="#2e2e2e" stroke="#2e2e2e" stroke-width="0.22">4</text>
<line x1="169.68" y1="395.4" x2="169.68" y2="397.60" stroke="#5a5a5a" stroke-width="0.9"/>
<text transform="translate(169.68,404.50) scale(0.83,1)" font-size="8.4" text-anchor="middle" fill="#2e2e2e" stroke="#2e2e2e" stroke-width="0.22">5</text>
<line x1="179.57" y1="395.4" x2="179.57" y2="397.60" stroke="#5a5a5a" stroke-width="0.9"/>
<text transform="translate(179.57,404.50) scale(0.83,1)" font-size="8.4" text-anchor="middle" fill="#2e2e2e" stroke="#2e2e2e" stroke-width="0.22">6</text>
<line x1="189.46" y1="395.4" x2="189.46" y2="397.60" stroke="#5a5a5a" stroke-width="0.9"/>
<text transform="translate(189.46,404.50) scale(0.83,1)" font-size="8.4" text-anchor="middle" fill="#2e2e2e" stroke="#2e2e2e" stroke-width="0.22">7</text>
<line x1="199.35" y1="395.4" x2="199.35" y2="397.60" stroke="#5a5a5a" stroke-width="0.9"/>
<text transform="translate(199.35,404.50) scale(0.83,1)" font-size="8.4" text-anchor="middle" fill="#2e2e2e" stroke="#2e2e2e" stroke-width="0.22">8</text>
<line x1="209.24" y1="395.4" x2="209.24" y2="397.60" stroke="#5a5a5a" stroke-width="0.9"/>
<text transform="translate(209.24,404.50) scale(0.83,1)" font-size="8.4" text-anchor="middle" fill="#2e2e2e" stroke="#2e2e2e" stroke-width="0.22">9</text>
<line x1="219.13" y1="395.4" x2="219.13" y2="397.60" stroke="#5a5a5a" stroke-width="0.9"/>
<text transform="translate(219.13,404.50) scale(0.83,1)" font-size="8.4" text-anchor="middle" fill="#2e2e2e" stroke="#2e2e2e" stroke-width="0.22">10</text>
<line x1="229.02" y1="395.4" x2="229.02" y2="397.60" stroke="#5a5a5a" stroke-width="0.9"/>
<text transform="translate(229.02,404.50) scale(0.83,1)" font-size="8.4" text-anchor="middle" fill="#2e2e2e" stroke="#2e2e2e" stroke-width="0.22">11</text>
<line x1="238.91" y1="395.4" x2="238.91" y2="397.60" stroke="#5a5a5a" stroke-width="0.9"/>
<text transform="translate(238.91,404.50) scale(0.83,1)" font-size="8.4" text-anchor="middle" fill="#2e2e2e" stroke="#2e2e2e" stroke-width="0.22">12</text>
<line x1="139.20" y1="393.40" x2="141.4" y2="393.40" stroke="#5a5a5a" stroke-width="0.9"/>
<text transform="translate(137.70,396.00) scale(0.83,1)" font-size="8.4" text-anchor="end" fill="#2e2e2e" stroke="#2e2e2e" stroke-width="0.22">3</text>
<line x1="139.20" y1="383.02" x2="141.4" y2="383.02" stroke="#5a5a5a" stroke-width="0.9"/>
<text transform="translate(137.70,385.62) scale(0.83,1)" font-size="8.4" text-anchor="end" fill="#2e2e2e" stroke="#2e2e2e" stroke-width="0.22">4</text>
<line x1="139.20" y1="372.64" x2="141.4" y2="372.64" stroke="#5a5a5a" stroke-width="0.9"/>
<text transform="translate(137.70,375.24) scale(0.83,1)" font-size="8.4" text-anchor="end" fill="#2e2e2e" stroke="#2e2e2e" stroke-width="0.22">5</text>
<line x1="139.20" y1="362.26" x2="141.4" y2="362.26" stroke="#5a5a5a" stroke-width="0.9"/>
<text transform="translate(137.70,364.86) scale(0.83,1)" font-size="8.4" text-anchor="end" fill="#2e2e2e" stroke="#2e2e2e" stroke-width="0.22">6</text>
<line x1="139.20" y1="351.88" x2="141.4" y2="351.88" stroke="#5a5a5a" stroke-width="0.9"/>
<text transform="translate(137.70,354.48) scale(0.83,1)" font-size="8.4" text-anchor="end" fill="#2e2e2e" stroke="#2e2e2e" stroke-width="0.22">7</text>
<line x1="139.20" y1="341.50" x2="141.4" y2="341.50" stroke="#5a5a5a" stroke-width="0.9"/>
<text transform="translate(137.70,344.10) scale(0.83,1)" font-size="8.4" text-anchor="end" fill="#2e2e2e" stroke="#2e2e2e" stroke-width="0.22">8</text>
<line x1="139.20" y1="331.12" x2="141.4" y2="331.12" stroke="#5a5a5a" stroke-width="0.9"/>
<text transform="translate(137.70,333.72) scale(0.83,1)" font-size="8.4" text-anchor="end" fill="#2e2e2e" stroke="#2e2e2e" stroke-width="0.22">9</text>
<line x1="139.20" y1="320.74" x2="141.4" y2="320.74" stroke="#5a5a5a" stroke-width="0.9"/>
<text transform="translate(137.70,323.34) scale(0.83,1)" font-size="8.4" text-anchor="end" fill="#2e2e2e" stroke="#2e2e2e" stroke-width="0.22">10</text>
<line x1="139.20" y1="310.36" x2="141.4" y2="310.36" stroke="#5a5a5a" stroke-width="0.9"/>
<text transform="translate(137.70,312.96) scale(0.83,1)" font-size="8.4" text-anchor="end" fill="#2e2e2e" stroke="#2e2e2e" stroke-width="0.22">11</text>
<line x1="139.20" y1="299.98" x2="141.4" y2="299.98" stroke="#5a5a5a" stroke-width="0.9"/>
<text transform="translate(137.70,302.58) scale(0.83,1)" font-size="8.4" text-anchor="end" fill="#2e2e2e" stroke="#2e2e2e" stroke-width="0.22">12</text>
<text x="192.50" y="290.60" font-size="8.3" text-anchor="middle" fill="#1a1a1a" stroke="#1a1a1a" stroke-width="0.25">PrD1</text>
<text x="171.8" y="304.40" font-size="6.0" text-anchor="middle" fill="#4a72da" stroke="#4a72da" stroke-width="0.1">y = 0.903 x + 0.867</text>
<text x="171.8" y="311.50" font-size="6.0" text-anchor="middle" fill="#4a72da" stroke="#4a72da" stroke-width="0.1">R<tspan font-size="4" dy="-2.2">2</tspan><tspan dy="2.2">=</tspan>0.826</text>
<text x="208.7" y="382.60" font-size="6.0" text-anchor="middle" fill="#ee6a4e" stroke="#ee6a4e" stroke-width="0.1">y = 0.889 x + 1.02</text>
<text x="208.7" y="390.30" font-size="6.0" text-anchor="middle" fill="#ee6a4e" stroke="#ee6a4e" stroke-width="0.1">R<tspan font-size="4" dy="-2.2">2</tspan><tspan dy="2.2">=</tspan>0.843</text>
<clipPath id="cb3"><rect x="259.4" y="294.5" width="102.30" height="100.90"/></clipPath>
<g clip-path="url(#cb3)">
<circle cx="318.5" cy="331.6" r="2.3" fill="#3862de" stroke="#222" stroke-width="0.7"/>
<circle cx="322.5" cy="330.5" r="2.3" fill="#3862de" stroke="#222" stroke-width="0.7"/>
<circle cx="334.7" cy="336.0" r="2.3" fill="#3862de" stroke="#222" stroke-width="0.7"/>
<circle cx="314.9" cy="337.2" r="2.3" fill="#3862de" stroke="#222" stroke-width="0.7"/>
<circle cx="316.9" cy="341.8" r="2.3" fill="#3862de" stroke="#222" stroke-width="0.7"/>
<circle cx="292.9" cy="346.4" r="2.3" fill="#3862de" stroke="#222" stroke-width="0.7"/>
<circle cx="357.7" cy="299.3" r="2.3" fill="#f25c3a" stroke="#222" stroke-width="0.7"/>
<circle cx="343.9" cy="303.8" r="2.3" fill="#f25c3a" stroke="#222" stroke-width="0.7"/>
<circle cx="347.3" cy="309.2" r="2.3" fill="#3862de" stroke="#222" stroke-width="0.7"/>
<circle cx="347.3" cy="306.4" r="2.3" fill="#f25c3a" stroke="#222" stroke-width="0.7"/>
<circle cx="357.0" cy="310.0" r="2.3" fill="#3862de" stroke="#222" stroke-width="0.7"/>
<circle cx="353.4" cy="315.5" r="2.3" fill="#3862de" stroke="#222" stroke-width="0.7"/>
<circle cx="353.4" cy="317.1" r="2.3" fill="#f25c3a" stroke="#222" stroke-width="0.7"/>
<circle cx="335.4" cy="309.2" r="2.3" fill="#3862de" stroke="#222" stroke-width="0.7"/>
<circle cx="335.4" cy="313.5" r="2.3" fill="#f25c3a" stroke="#222" stroke-width="0.7"/>
<circle cx="344.2" cy="312.8" r="2.3" fill="#3862de" stroke="#222" stroke-width="0.7"/>
<circle cx="324.2" cy="309.2" r="2.3" fill="#3862de" stroke="#222" stroke-width="0.7"/>
<circle cx="324.2" cy="313.5" r="2.3" fill="#f25c3a" stroke="#222" stroke-width="0.7"/>
<circle cx="316.4" cy="310.0" r="2.3" fill="#3862de" stroke="#222" stroke-width="0.7"/>
<circle cx="311.4" cy="315.7" r="2.3" fill="#f25c3a" stroke="#222" stroke-width="0.7"/>
<circle cx="311.4" cy="319.9" r="2.3" fill="#3862de" stroke="#222" stroke-width="0.7"/>
<circle cx="335.6" cy="317.1" r="2.3" fill="#f25c3a" stroke="#222" stroke-width="0.7"/>
<circle cx="341.3" cy="320.6" r="2.3" fill="#3862de" stroke="#222" stroke-width="0.7"/>
<circle cx="341.3" cy="317.8" r="2.3" fill="#f25c3a" stroke="#222" stroke-width="0.7"/>
<circle cx="329.2" cy="322.1" r="2.3" fill="#f25c3a" stroke="#222" stroke-width="0.7"/>
<circle cx="333.5" cy="322.8" r="2.3" fill="#f25c3a" stroke="#222" stroke-width="0.7"/>
<circle cx="339.2" cy="324.2" r="2.3" fill="#f25c3a" stroke="#222" stroke-width="0.7"/>
<circle cx="316.4" cy="325.6" r="2.3" fill="#f25c3a" stroke="#222" stroke-width="0.7"/>
<circle cx="320.0" cy="324.9" r="2.3" fill="#f25c3a" stroke="#222" stroke-width="0.7"/>
<circle cx="323.5" cy="326.3" r="2.3" fill="#f25c3a" stroke="#222" stroke-width="0.7"/>
<circle cx="327.8" cy="327.8" r="2.3" fill="#f25c3a" stroke="#222" stroke-width="0.7"/>
<circle cx="333.5" cy="329.2" r="2.3" fill="#3862de" stroke="#222" stroke-width="0.7"/>
<circle cx="317.8" cy="329.9" r="2.3" fill="#f25c3a" stroke="#222" stroke-width="0.7"/>
<circle cx="310.7" cy="329.9" r="2.3" fill="#3862de" stroke="#222" stroke-width="0.7"/>
<circle cx="324.2" cy="331.3" r="2.3" fill="#f25c3a" stroke="#222" stroke-width="0.7"/>
<circle cx="319.3" cy="333.5" r="2.3" fill="#f25c3a" stroke="#222" stroke-width="0.7"/>
<circle cx="330.7" cy="332.7" r="2.3" fill="#f25c3a" stroke="#222" stroke-width="0.7"/>
<circle cx="335.6" cy="333.5" r="2.3" fill="#f25c3a" stroke="#222" stroke-width="0.7"/>
<circle cx="326.4" cy="334.9" r="2.3" fill="#f25c3a" stroke="#222" stroke-width="0.7"/>
<circle cx="332.8" cy="337.0" r="2.3" fill="#f25c3a" stroke="#222" stroke-width="0.7"/>
<circle cx="337.1" cy="336.3" r="2.3" fill="#f25c3a" stroke="#222" stroke-width="0.7"/>
<circle cx="339.2" cy="337.7" r="2.3" fill="#3862de" stroke="#222" stroke-width="0.7"/>
<circle cx="312.1" cy="334.9" r="2.3" fill="#f25c3a" stroke="#222" stroke-width="0.7"/>
<circle cx="315.7" cy="337.7" r="2.3" fill="#f25c3a" stroke="#222" stroke-width="0.7"/>
<circle cx="320.7" cy="337.0" r="2.3" fill="#f25c3a" stroke="#222" stroke-width="0.7"/>
<circle cx="320.0" cy="340.6" r="2.3" fill="#f25c3a" stroke="#222" stroke-width="0.7"/>
<circle cx="325.7" cy="342.0" r="2.3" fill="#3862de" stroke="#222" stroke-width="0.7"/>
<circle cx="313.6" cy="342.0" r="2.3" fill="#f25c3a" stroke="#222" stroke-width="0.7"/>
<circle cx="317.1" cy="344.9" r="2.3" fill="#f25c3a" stroke="#222" stroke-width="0.7"/>
<circle cx="327.1" cy="344.9" r="2.3" fill="#3862de" stroke="#222" stroke-width="0.7"/>
<circle cx="322.8" cy="344.9" r="2.3" fill="#f25c3a" stroke="#222" stroke-width="0.7"/>
<circle cx="310.7" cy="345.6" r="2.3" fill="#f25c3a" stroke="#222" stroke-width="0.7"/>
<circle cx="302.8" cy="332.1" r="2.3" fill="#f25c3a" stroke="#222" stroke-width="0.7"/>
<circle cx="309.9" cy="330.7" r="2.3" fill="#3862de" stroke="#222" stroke-width="0.7"/>
<circle cx="310.6" cy="334.3" r="2.3" fill="#f25c3a" stroke="#222" stroke-width="0.7"/>
<circle cx="307.7" cy="335.7" r="2.3" fill="#3862de" stroke="#222" stroke-width="0.7"/>
<circle cx="312.7" cy="336.4" r="2.3" fill="#f25c3a" stroke="#222" stroke-width="0.7"/>
<circle cx="318.4" cy="332.8" r="2.3" fill="#f25c3a" stroke="#222" stroke-width="0.7"/>
<circle cx="319.9" cy="336.4" r="2.3" fill="#f25c3a" stroke="#222" stroke-width="0.7"/>
<circle cx="302.8" cy="340.7" r="2.3" fill="#3862de" stroke="#222" stroke-width="0.7"/>
<circle cx="300.6" cy="343.5" r="2.3" fill="#f25c3a" stroke="#222" stroke-width="0.7"/>
<circle cx="304.9" cy="344.2" r="2.3" fill="#f25c3a" stroke="#222" stroke-width="0.7"/>
<circle cx="309.2" cy="341.4" r="2.3" fill="#f25c3a" stroke="#222" stroke-width="0.7"/>
<circle cx="312.7" cy="345.0" r="2.3" fill="#f25c3a" stroke="#222" stroke-width="0.7"/>
<circle cx="318.4" cy="343.5" r="2.3" fill="#f25c3a" stroke="#222" stroke-width="0.7"/>
<circle cx="317.7" cy="348.5" r="2.3" fill="#3862de" stroke="#222" stroke-width="0.7"/>
<circle cx="294.2" cy="342.8" r="2.3" fill="#f25c3a" stroke="#222" stroke-width="0.7"/>
<circle cx="292.8" cy="345.7" r="2.3" fill="#3862de" stroke="#222" stroke-width="0.7"/>
<circle cx="286.4" cy="347.8" r="2.3" fill="#3862de" stroke="#222" stroke-width="0.7"/>
<circle cx="292.1" cy="347.8" r="2.3" fill="#f25c3a" stroke="#222" stroke-width="0.7"/>
<circle cx="289.2" cy="351.4" r="2.3" fill="#3862de" stroke="#222" stroke-width="0.7"/>
<circle cx="298.5" cy="348.5" r="2.3" fill="#f25c3a" stroke="#222" stroke-width="0.7"/>
<circle cx="304.2" cy="350.7" r="2.3" fill="#f25c3a" stroke="#222" stroke-width="0.7"/>
<circle cx="308.5" cy="352.8" r="2.3" fill="#f25c3a" stroke="#222" stroke-width="0.7"/>
<circle cx="312.7" cy="351.4" r="2.3" fill="#f25c3a" stroke="#222" stroke-width="0.7"/>
<circle cx="309.9" cy="355.6" r="2.3" fill="#3862de" stroke="#222" stroke-width="0.7"/>
<circle cx="314.9" cy="355.6" r="2.3" fill="#f25c3a" stroke="#222" stroke-width="0.7"/>
<circle cx="293.5" cy="353.5" r="2.3" fill="#f25c3a" stroke="#222" stroke-width="0.7"/>
<circle cx="300.6" cy="355.6" r="2.3" fill="#f25c3a" stroke="#222" stroke-width="0.7"/>
<circle cx="305.6" cy="354.2" r="2.3" fill="#f25c3a" stroke="#222" stroke-width="0.7"/>
<circle cx="288.5" cy="357.1" r="2.3" fill="#f25c3a" stroke="#222" stroke-width="0.7"/>
<circle cx="297.1" cy="357.8" r="2.3" fill="#3862de" stroke="#222" stroke-width="0.7"/>
<circle cx="302.8" cy="359.2" r="2.3" fill="#f25c3a" stroke="#222" stroke-width="0.7"/>
<circle cx="300.6" cy="360.6" r="2.3" fill="#3862de" stroke="#222" stroke-width="0.7"/>
<circle cx="285.0" cy="360.6" r="2.3" fill="#3862de" stroke="#222" stroke-width="0.7"/>
<circle cx="292.8" cy="359.9" r="2.3" fill="#f25c3a" stroke="#222" stroke-width="0.7"/>
<circle cx="303.5" cy="362.1" r="2.3" fill="#f25c3a" stroke="#222" stroke-width="0.7"/>
<circle cx="304.2" cy="364.2" r="2.3" fill="#3862de" stroke="#222" stroke-width="0.7"/>
<circle cx="292.1" cy="364.2" r="2.3" fill="#3862de" stroke="#222" stroke-width="0.7"/>
<circle cx="286.4" cy="364.9" r="2.3" fill="#f25c3a" stroke="#222" stroke-width="0.7"/>
<circle cx="291.4" cy="369.2" r="2.3" fill="#f25c3a" stroke="#222" stroke-width="0.7"/>
<circle cx="276.4" cy="369.9" r="2.3" fill="#f25c3a" stroke="#222" stroke-width="0.7"/>
<circle cx="276.5" cy="377.0" r="2.3" fill="#3862de" stroke="#222" stroke-width="0.7"/>
<circle cx="276.4" cy="375.6" r="2.3" fill="#f25c3a" stroke="#222" stroke-width="0.7"/>
<circle cx="284.2" cy="377.7" r="2.3" fill="#3862de" stroke="#222" stroke-width="0.7"/>
<circle cx="284.2" cy="375.6" r="2.3" fill="#f25c3a" stroke="#222" stroke-width="0.7"/>
<circle cx="290.7" cy="379.1" r="2.3" fill="#f25c3a" stroke="#222" stroke-width="0.7"/>
<circle cx="263.9" cy="391.0" r="2.3" fill="#3862de" stroke="#222" stroke-width="0.7"/>
<circle cx="263.9" cy="390.1" r="2.3" fill="#f25c3a" stroke="#222" stroke-width="0.7"/>
<circle cx="268.3" cy="383.7" r="2.3" fill="#3862de" stroke="#222" stroke-width="0.7"/>
<circle cx="268.3" cy="381.3" r="2.3" fill="#f25c3a" stroke="#222" stroke-width="0.7"/>
<circle cx="290.2" cy="378.6" r="2.3" fill="#f25c3a" stroke="#222" stroke-width="0.7"/>
<circle cx="286.4" cy="365.4" r="2.3" fill="#f25c3a" stroke="#222" stroke-width="0.7"/>
<circle cx="285.8" cy="361.6" r="2.3" fill="#3862de" stroke="#222" stroke-width="0.7"/>
<circle cx="291.9" cy="362.7" r="2.3" fill="#3862de" stroke="#222" stroke-width="0.7"/>
<circle cx="292.4" cy="359.9" r="2.3" fill="#f25c3a" stroke="#222" stroke-width="0.7"/>
<circle cx="288.0" cy="356.6" r="2.3" fill="#f25c3a" stroke="#222" stroke-width="0.7"/>
<circle cx="294.2" cy="324.3" r="2.3" fill="#3862de" stroke="#222" stroke-width="0.7"/>
<circle cx="302.7" cy="338.9" r="2.3" fill="#3862de" stroke="#222" stroke-width="0.7"/>
<line x1="204.02" y1="451.65" x2="477.15" y2="174.50" stroke="#2a2a2a" stroke-width="1.05" stroke-dasharray="2.6,2.0"/>
<line x1="263.88" y1="379.42" x2="356.97" y2="307.43" stroke="#3862de" stroke-width="1.45"/>
<line x1="263.88" y1="382.21" x2="356.97" y2="305.22" stroke="#f25c3a" stroke-width="1.45"/>
<text transform="translate(276.4,383.4) rotate(-45.4)" font-size="5.6" text-anchor="middle" dominant-baseline="central" fill="#333" stroke="#333" stroke-width="0.15">1:1</text>
</g>
<rect x="259.4" y="294.5" width="102.30" height="100.90" fill="none" stroke="#5a5a5a" stroke-width="1"/>
<line x1="263.40" y1="395.4" x2="263.40" y2="397.60" stroke="#5a5a5a" stroke-width="0.9"/>
<text transform="translate(263.40,404.50) scale(0.83,1)" font-size="8.4" text-anchor="middle" fill="#2e2e2e" stroke="#2e2e2e" stroke-width="0.22">2</text>
<line x1="275.27" y1="395.4" x2="275.27" y2="397.60" stroke="#5a5a5a" stroke-width="0.9"/>
<text transform="translate(275.27,404.50) scale(0.83,1)" font-size="8.4" text-anchor="middle" fill="#2e2e2e" stroke="#2e2e2e" stroke-width="0.22">3</text>
<line x1="287.15" y1="395.4" x2="287.15" y2="397.60" stroke="#5a5a5a" stroke-width="0.9"/>
<text transform="translate(287.15,404.50) scale(0.83,1)" font-size="8.4" text-anchor="middle" fill="#2e2e2e" stroke="#2e2e2e" stroke-width="0.22">4</text>
<line x1="299.02" y1="395.4" x2="299.02" y2="397.60" stroke="#5a5a5a" stroke-width="0.9"/>
<text transform="translate(299.02,404.50) scale(0.83,1)" font-size="8.4" text-anchor="middle" fill="#2e2e2e" stroke="#2e2e2e" stroke-width="0.22">5</text>
<line x1="310.90" y1="395.4" x2="310.90" y2="397.60" stroke="#5a5a5a" stroke-width="0.9"/>
<text transform="translate(310.90,404.50) scale(0.83,1)" font-size="8.4" text-anchor="middle" fill="#2e2e2e" stroke="#2e2e2e" stroke-width="0.22">6</text>
<line x1="322.77" y1="395.4" x2="322.77" y2="397.60" stroke="#5a5a5a" stroke-width="0.9"/>
<text transform="translate(322.77,404.50) scale(0.83,1)" font-size="8.4" text-anchor="middle" fill="#2e2e2e" stroke="#2e2e2e" stroke-width="0.22">7</text>
<line x1="334.65" y1="395.4" x2="334.65" y2="397.60" stroke="#5a5a5a" stroke-width="0.9"/>
<text transform="translate(334.65,404.50) scale(0.83,1)" font-size="8.4" text-anchor="middle" fill="#2e2e2e" stroke="#2e2e2e" stroke-width="0.22">8</text>
<line x1="346.52" y1="395.4" x2="346.52" y2="397.60" stroke="#5a5a5a" stroke-width="0.9"/>
<text transform="translate(346.52,404.50) scale(0.83,1)" font-size="8.4" text-anchor="middle" fill="#2e2e2e" stroke="#2e2e2e" stroke-width="0.22">9</text>
<line x1="358.40" y1="395.4" x2="358.40" y2="397.60" stroke="#5a5a5a" stroke-width="0.9"/>
<text transform="translate(358.40,404.50) scale(0.83,1)" font-size="8.4" text-anchor="middle" fill="#2e2e2e" stroke="#2e2e2e" stroke-width="0.22">10</text>
<line x1="257.20" y1="391.40" x2="259.4" y2="391.40" stroke="#5a5a5a" stroke-width="0.9"/>
<text transform="translate(255.70,394.00) scale(0.83,1)" font-size="8.4" text-anchor="end" fill="#2e2e2e" stroke="#2e2e2e" stroke-width="0.22">2</text>
<line x1="257.20" y1="379.35" x2="259.4" y2="379.35" stroke="#5a5a5a" stroke-width="0.9"/>
<text transform="translate(255.70,381.95) scale(0.83,1)" font-size="8.4" text-anchor="end" fill="#2e2e2e" stroke="#2e2e2e" stroke-width="0.22">3</text>
<line x1="257.20" y1="367.30" x2="259.4" y2="367.30" stroke="#5a5a5a" stroke-width="0.9"/>
<text transform="translate(255.70,369.90) scale(0.83,1)" font-size="8.4" text-anchor="end" fill="#2e2e2e" stroke="#2e2e2e" stroke-width="0.22">4</text>
<line x1="257.20" y1="355.25" x2="259.4" y2="355.25" stroke="#5a5a5a" stroke-width="0.9"/>
<text transform="translate(255.70,357.85) scale(0.83,1)" font-size="8.4" text-anchor="end" fill="#2e2e2e" stroke="#2e2e2e" stroke-width="0.22">5</text>
<line x1="257.20" y1="343.20" x2="259.4" y2="343.20" stroke="#5a5a5a" stroke-width="0.9"/>
<text transform="translate(255.70,345.80) scale(0.83,1)" font-size="8.4" text-anchor="end" fill="#2e2e2e" stroke="#2e2e2e" stroke-width="0.22">6</text>
<line x1="257.20" y1="331.15" x2="259.4" y2="331.15" stroke="#5a5a5a" stroke-width="0.9"/>
<text transform="translate(255.70,333.75) scale(0.83,1)" font-size="8.4" text-anchor="end" fill="#2e2e2e" stroke="#2e2e2e" stroke-width="0.22">7</text>
<line x1="257.20" y1="319.10" x2="259.4" y2="319.10" stroke="#5a5a5a" stroke-width="0.9"/>
<text transform="translate(255.70,321.70) scale(0.83,1)" font-size="8.4" text-anchor="end" fill="#2e2e2e" stroke="#2e2e2e" stroke-width="0.22">8</text>
<line x1="257.20" y1="307.05" x2="259.4" y2="307.05" stroke="#5a5a5a" stroke-width="0.9"/>
<text transform="translate(255.70,309.65) scale(0.83,1)" font-size="8.4" text-anchor="end" fill="#2e2e2e" stroke="#2e2e2e" stroke-width="0.22">9</text>
<line x1="257.20" y1="295.00" x2="259.4" y2="295.00" stroke="#5a5a5a" stroke-width="0.9"/>
<text transform="translate(255.70,297.60) scale(0.83,1)" font-size="8.4" text-anchor="end" fill="#2e2e2e" stroke="#2e2e2e" stroke-width="0.22">10</text>
<text x="310.55" y="290.60" font-size="8.3" text-anchor="middle" fill="#1a1a1a" stroke="#1a1a1a" stroke-width="0.25">PrM</text>
<text x="290.1" y="303.20" font-size="6.0" text-anchor="middle" fill="#4a72da" stroke="#4a72da" stroke-width="0.1">y = 0.762 x + 1.44</text>
<text x="290.1" y="310.50" font-size="6.0" text-anchor="middle" fill="#4a72da" stroke="#4a72da" stroke-width="0.1">R<tspan font-size="4" dy="-2.2">2</tspan><tspan dy="2.2">=</tspan>0.659</text>
<text x="330.5" y="382.10" font-size="6.0" text-anchor="middle" fill="#ee6a4e" stroke="#ee6a4e" stroke-width="0.1">y = 0.815 x + 1.10</text>
<text x="330.5" y="389.70" font-size="6.0" text-anchor="middle" fill="#ee6a4e" stroke="#ee6a4e" stroke-width="0.1">R<tspan font-size="4" dy="-2.2">2</tspan><tspan dy="2.2">=</tspan>0.776</text>
<clipPath id="cb4"><rect x="23.6" y="424.5" width="102.00" height="100.50"/></clipPath>
<g clip-path="url(#cb4)">
<circle cx="85.4" cy="435.7" r="2.3" fill="#f25c3a" stroke="#222" stroke-width="0.7"/>
<circle cx="89.9" cy="438.5" r="2.3" fill="#f25c3a" stroke="#222" stroke-width="0.7"/>
<circle cx="84.2" cy="442.1" r="2.3" fill="#3862de" stroke="#222" stroke-width="0.7"/>
<circle cx="87.8" cy="440.7" r="2.3" fill="#f25c3a" stroke="#222" stroke-width="0.7"/>
<circle cx="87.1" cy="444.2" r="2.3" fill="#f25c3a" stroke="#222" stroke-width="0.7"/>
<circle cx="84.2" cy="446.4" r="2.3" fill="#f25c3a" stroke="#222" stroke-width="0.7"/>
<circle cx="88.5" cy="447.8" r="2.3" fill="#3862de" stroke="#222" stroke-width="0.7"/>
<circle cx="104.9" cy="437.1" r="2.3" fill="#f25c3a" stroke="#222" stroke-width="0.7"/>
<circle cx="112.0" cy="435.0" r="2.3" fill="#3862de" stroke="#222" stroke-width="0.7"/>
<circle cx="112.0" cy="437.8" r="2.3" fill="#f25c3a" stroke="#222" stroke-width="0.7"/>
<circle cx="112.0" cy="443.5" r="2.3" fill="#3862de" stroke="#222" stroke-width="0.7"/>
<circle cx="120.6" cy="444.2" r="2.3" fill="#f25c3a" stroke="#222" stroke-width="0.7"/>
<circle cx="82.1" cy="451.4" r="2.3" fill="#f25c3a" stroke="#222" stroke-width="0.7"/>
<circle cx="77.1" cy="451.4" r="2.3" fill="#3862de" stroke="#222" stroke-width="0.7"/>
<circle cx="88.5" cy="452.1" r="2.3" fill="#f25c3a" stroke="#222" stroke-width="0.7"/>
<circle cx="92.8" cy="451.4" r="2.3" fill="#f25c3a" stroke="#222" stroke-width="0.7"/>
<circle cx="96.4" cy="449.9" r="2.3" fill="#f25c3a" stroke="#222" stroke-width="0.7"/>
<circle cx="99.9" cy="448.5" r="2.3" fill="#3862de" stroke="#222" stroke-width="0.7"/>
<circle cx="99.2" cy="451.4" r="2.3" fill="#f25c3a" stroke="#222" stroke-width="0.7"/>
<circle cx="104.9" cy="452.1" r="2.3" fill="#f25c3a" stroke="#222" stroke-width="0.7"/>
<circle cx="112.0" cy="452.1" r="2.3" fill="#f25c3a" stroke="#222" stroke-width="0.7"/>
<circle cx="75.7" cy="454.9" r="2.3" fill="#3862de" stroke="#222" stroke-width="0.7"/>
<circle cx="72.8" cy="453.5" r="2.3" fill="#3862de" stroke="#222" stroke-width="0.7"/>
<circle cx="73.6" cy="457.1" r="2.3" fill="#f25c3a" stroke="#222" stroke-width="0.7"/>
<circle cx="78.5" cy="455.6" r="2.3" fill="#f25c3a" stroke="#222" stroke-width="0.7"/>
<circle cx="91.4" cy="454.2" r="2.3" fill="#f25c3a" stroke="#222" stroke-width="0.7"/>
<circle cx="95.6" cy="455.6" r="2.3" fill="#f25c3a" stroke="#222" stroke-width="0.7"/>
<circle cx="87.8" cy="457.1" r="2.3" fill="#f25c3a" stroke="#222" stroke-width="0.7"/>
<circle cx="84.2" cy="459.2" r="2.3" fill="#f25c3a" stroke="#222" stroke-width="0.7"/>
<circle cx="80.7" cy="459.2" r="2.3" fill="#3862de" stroke="#222" stroke-width="0.7"/>
<circle cx="92.8" cy="459.2" r="2.3" fill="#f25c3a" stroke="#222" stroke-width="0.7"/>
<circle cx="75.0" cy="461.3" r="2.3" fill="#f25c3a" stroke="#222" stroke-width="0.7"/>
<circle cx="81.4" cy="462.0" r="2.3" fill="#f25c3a" stroke="#222" stroke-width="0.7"/>
<circle cx="89.2" cy="462.0" r="2.3" fill="#f25c3a" stroke="#222" stroke-width="0.7"/>
<circle cx="92.8" cy="462.7" r="2.3" fill="#f25c3a" stroke="#222" stroke-width="0.7"/>
<circle cx="97.8" cy="462.7" r="2.3" fill="#3862de" stroke="#222" stroke-width="0.7"/>
<circle cx="73.6" cy="466.3" r="2.3" fill="#f25c3a" stroke="#222" stroke-width="0.7"/>
<circle cx="78.5" cy="464.9" r="2.3" fill="#f25c3a" stroke="#222" stroke-width="0.7"/>
<circle cx="84.2" cy="465.6" r="2.3" fill="#f25c3a" stroke="#222" stroke-width="0.7"/>
<circle cx="92.1" cy="465.6" r="2.3" fill="#f25c3a" stroke="#222" stroke-width="0.7"/>
<circle cx="106.3" cy="467.0" r="2.3" fill="#3862de" stroke="#222" stroke-width="0.7"/>
<circle cx="76.4" cy="469.9" r="2.3" fill="#f25c3a" stroke="#222" stroke-width="0.7"/>
<circle cx="81.4" cy="469.2" r="2.3" fill="#f25c3a" stroke="#222" stroke-width="0.7"/>
<circle cx="85.7" cy="470.6" r="2.3" fill="#f25c3a" stroke="#222" stroke-width="0.7"/>
<circle cx="89.9" cy="470.9" r="2.3" fill="#3862de" stroke="#222" stroke-width="0.7"/>
<circle cx="74.3" cy="474.1" r="2.3" fill="#f25c3a" stroke="#222" stroke-width="0.7"/>
<circle cx="80.0" cy="474.1" r="2.3" fill="#f25c3a" stroke="#222" stroke-width="0.7"/>
<circle cx="100.6" cy="473.4" r="2.3" fill="#f25c3a" stroke="#222" stroke-width="0.7"/>
<circle cx="120.6" cy="474.1" r="2.3" fill="#3862de" stroke="#222" stroke-width="0.7"/>
<circle cx="62.6" cy="447.4" r="2.3" fill="#f25c3a" stroke="#222" stroke-width="0.7"/>
<circle cx="67.4" cy="454.2" r="2.3" fill="#f25c3a" stroke="#222" stroke-width="0.7"/>
<circle cx="44.1" cy="453.8" r="2.3" fill="#3862de" stroke="#222" stroke-width="0.7"/>
<circle cx="44.1" cy="463.5" r="2.3" fill="#f25c3a" stroke="#222" stroke-width="0.7"/>
<circle cx="63.2" cy="460.7" r="2.3" fill="#3862de" stroke="#222" stroke-width="0.7"/>
<circle cx="60.7" cy="464.2" r="2.3" fill="#f25c3a" stroke="#222" stroke-width="0.7"/>
<circle cx="63.6" cy="464.9" r="2.3" fill="#f25c3a" stroke="#222" stroke-width="0.7"/>
<circle cx="65.7" cy="467.1" r="2.3" fill="#3862de" stroke="#222" stroke-width="0.7"/>
<circle cx="62.2" cy="468.5" r="2.3" fill="#f25c3a" stroke="#222" stroke-width="0.7"/>
<circle cx="60.0" cy="470.6" r="2.3" fill="#3862de" stroke="#222" stroke-width="0.7"/>
<circle cx="65.0" cy="470.6" r="2.3" fill="#f25c3a" stroke="#222" stroke-width="0.7"/>
<circle cx="67.9" cy="469.2" r="2.3" fill="#3862de" stroke="#222" stroke-width="0.7"/>
<circle cx="73.0" cy="455.0" r="2.3" fill="#3862de" stroke="#222" stroke-width="0.7"/>
<circle cx="72.9" cy="456.4" r="2.3" fill="#f25c3a" stroke="#222" stroke-width="0.7"/>
<circle cx="73.6" cy="462.8" r="2.3" fill="#f25c3a" stroke="#222" stroke-width="0.7"/>
<circle cx="38.7" cy="476.3" r="2.3" fill="#3862de" stroke="#222" stroke-width="0.7"/>
<circle cx="39.0" cy="478.5" r="2.3" fill="#f25c3a" stroke="#222" stroke-width="0.7"/>
<circle cx="27.7" cy="486.3" r="2.3" fill="#3862de" stroke="#222" stroke-width="0.7"/>
<circle cx="62.9" cy="475.6" r="2.3" fill="#3862de" stroke="#222" stroke-width="0.7"/>
<circle cx="66.4" cy="479.9" r="2.3" fill="#f25c3a" stroke="#222" stroke-width="0.7"/>
<circle cx="68.6" cy="481.3" r="2.3" fill="#f25c3a" stroke="#222" stroke-width="0.7"/>
<circle cx="60.0" cy="483.4" r="2.3" fill="#3862de" stroke="#222" stroke-width="0.7"/>
<circle cx="66.4" cy="484.9" r="2.3" fill="#3862de" stroke="#222" stroke-width="0.7"/>
<circle cx="72.9" cy="483.4" r="2.3" fill="#f25c3a" stroke="#222" stroke-width="0.7"/>
<circle cx="60.0" cy="488.4" r="2.3" fill="#f25c3a" stroke="#222" stroke-width="0.7"/>
<circle cx="56.5" cy="489.9" r="2.3" fill="#f25c3a" stroke="#222" stroke-width="0.7"/>
<circle cx="52.9" cy="491.3" r="2.3" fill="#3862de" stroke="#222" stroke-width="0.7"/>
<circle cx="73.6" cy="475.6" r="2.3" fill="#f25c3a" stroke="#222" stroke-width="0.7"/>
<circle cx="27.7" cy="493.5" r="2.3" fill="#3862de" stroke="#222" stroke-width="0.7"/>
<circle cx="27.7" cy="494.7" r="2.3" fill="#f25c3a" stroke="#222" stroke-width="0.7"/>
<circle cx="52.2" cy="495.4" r="2.3" fill="#f25c3a" stroke="#222" stroke-width="0.7"/>
<circle cx="45.8" cy="501.1" r="2.3" fill="#3862de" stroke="#222" stroke-width="0.7"/>
<circle cx="45.8" cy="503.9" r="2.3" fill="#f25c3a" stroke="#222" stroke-width="0.7"/>
<circle cx="50.8" cy="507.5" r="2.3" fill="#f25c3a" stroke="#222" stroke-width="0.7"/>
<circle cx="55.0" cy="508.2" r="2.3" fill="#f25c3a" stroke="#222" stroke-width="0.7"/>
<circle cx="39.0" cy="515.3" r="2.3" fill="#f25c3a" stroke="#222" stroke-width="0.7"/>
<circle cx="55.0" cy="520.3" r="2.3" fill="#3862de" stroke="#222" stroke-width="0.7"/>
<circle cx="73.6" cy="496.8" r="2.3" fill="#3862de" stroke="#222" stroke-width="0.7"/>
<circle cx="92.7" cy="478.5" r="2.3" fill="#3862de" stroke="#222" stroke-width="0.7"/>
<circle cx="87.7" cy="482.1" r="2.3" fill="#f25c3a" stroke="#222" stroke-width="0.7"/>
<circle cx="112.2" cy="479.3" r="2.3" fill="#3862de" stroke="#222" stroke-width="0.7"/>
<circle cx="77.7" cy="485.4" r="2.3" fill="#3862de" stroke="#222" stroke-width="0.7"/>
<circle cx="77.7" cy="479.3" r="2.3" fill="#f25c3a" stroke="#222" stroke-width="0.7"/>
<circle cx="74.8" cy="477.1" r="2.3" fill="#f25c3a" stroke="#222" stroke-width="0.7"/>
<circle cx="79.8" cy="478.5" r="2.3" fill="#f25c3a" stroke="#222" stroke-width="0.7"/>
<circle cx="101.2" cy="493.5" r="2.3" fill="#3862de" stroke="#222" stroke-width="0.7"/>
<circle cx="79.8" cy="496.8" r="2.3" fill="#3862de" stroke="#222" stroke-width="0.7"/>
<line x1="-64.40" y1="615.40" x2="366.64" y2="171.88" stroke="#2a2a2a" stroke-width="1.05" stroke-dasharray="2.6,2.0"/>
<line x1="28.00" y1="494.11" x2="120.59" y2="444.77" stroke="#3862de" stroke-width="1.45"/>
<line x1="28.00" y1="502.91" x2="120.59" y2="436.61" stroke="#f25c3a" stroke-width="1.45"/>
<text transform="translate(112.3,428.3) rotate(-45.8)" font-size="5.6" text-anchor="middle" dominant-baseline="central" fill="#333" stroke="#333" stroke-width="0.15">1:1</text>
</g>
<rect x="23.6" y="424.5" width="102.00" height="100.50" fill="none" stroke="#5a5a5a" stroke-width="1"/>
<line x1="25.40" y1="525.0" x2="25.40" y2="527.20" stroke="#5a5a5a" stroke-width="0.9"/>
<text transform="translate(25.40,534.10) scale(0.83,1)" font-size="8.4" text-anchor="middle" fill="#2e2e2e" stroke="#2e2e2e" stroke-width="0.22">1</text>
<line x1="43.36" y1="525.0" x2="43.36" y2="527.20" stroke="#5a5a5a" stroke-width="0.9"/>
<text transform="translate(43.36,534.10) scale(0.83,1)" font-size="8.4" text-anchor="middle" fill="#2e2e2e" stroke="#2e2e2e" stroke-width="0.22">2</text>
<line x1="61.32" y1="525.0" x2="61.32" y2="527.20" stroke="#5a5a5a" stroke-width="0.9"/>
<text transform="translate(61.32,534.10) scale(0.83,1)" font-size="8.4" text-anchor="middle" fill="#2e2e2e" stroke="#2e2e2e" stroke-width="0.22">3</text>
<line x1="79.28" y1="525.0" x2="79.28" y2="527.20" stroke="#5a5a5a" stroke-width="0.9"/>
<text transform="translate(79.28,534.10) scale(0.83,1)" font-size="8.4" text-anchor="middle" fill="#2e2e2e" stroke="#2e2e2e" stroke-width="0.22">4</text>
<line x1="97.24" y1="525.0" x2="97.24" y2="527.20" stroke="#5a5a5a" stroke-width="0.9"/>
<text transform="translate(97.24,534.10) scale(0.83,1)" font-size="8.4" text-anchor="middle" fill="#2e2e2e" stroke="#2e2e2e" stroke-width="0.22">5</text>
<line x1="115.20" y1="525.0" x2="115.20" y2="527.20" stroke="#5a5a5a" stroke-width="0.9"/>
<text transform="translate(115.20,534.10) scale(0.83,1)" font-size="8.4" text-anchor="middle" fill="#2e2e2e" stroke="#2e2e2e" stroke-width="0.22">6</text>
<line x1="21.40" y1="523.00" x2="23.6" y2="523.00" stroke="#5a5a5a" stroke-width="0.9"/>
<text transform="translate(19.90,525.60) scale(0.83,1)" font-size="8.4" text-anchor="end" fill="#2e2e2e" stroke="#2e2e2e" stroke-width="0.22">1</text>
<line x1="21.40" y1="504.52" x2="23.6" y2="504.52" stroke="#5a5a5a" stroke-width="0.9"/>
<text transform="translate(19.90,507.12) scale(0.83,1)" font-size="8.4" text-anchor="end" fill="#2e2e2e" stroke="#2e2e2e" stroke-width="0.22">2</text>
<line x1="21.40" y1="486.04" x2="23.6" y2="486.04" stroke="#5a5a5a" stroke-width="0.9"/>
<text transform="translate(19.90,488.64) scale(0.83,1)" font-size="8.4" text-anchor="end" fill="#2e2e2e" stroke="#2e2e2e" stroke-width="0.22">3</text>
<line x1="21.40" y1="467.56" x2="23.6" y2="467.56" stroke="#5a5a5a" stroke-width="0.9"/>
<text transform="translate(19.90,470.16) scale(0.83,1)" font-size="8.4" text-anchor="end" fill="#2e2e2e" stroke="#2e2e2e" stroke-width="0.22">4</text>
<line x1="21.40" y1="449.08" x2="23.6" y2="449.08" stroke="#5a5a5a" stroke-width="0.9"/>
<text transform="translate(19.90,451.68) scale(0.83,1)" font-size="8.4" text-anchor="end" fill="#2e2e2e" stroke="#2e2e2e" stroke-width="0.22">5</text>
<line x1="21.40" y1="430.60" x2="23.6" y2="430.60" stroke="#5a5a5a" stroke-width="0.9"/>
<text transform="translate(19.90,433.20) scale(0.83,1)" font-size="8.4" text-anchor="end" fill="#2e2e2e" stroke="#2e2e2e" stroke-width="0.22">6</text>
<text x="74.60" y="420.60" font-size="8.3" text-anchor="middle" fill="#1a1a1a" stroke="#1a1a1a" stroke-width="0.25">GnPm</text>
<text x="51.0" y="432.50" font-size="6.0" text-anchor="middle" fill="#4a72da" stroke="#4a72da" stroke-width="0.1">y = 0.518 x + 1.97</text>
<text x="51.0" y="440.50" font-size="6.0" text-anchor="middle" fill="#4a72da" stroke="#4a72da" stroke-width="0.1">R<tspan font-size="4" dy="-2.2">2</tspan><tspan dy="2.2">=</tspan>0.313</text>
<text x="95.6" y="515.90" font-size="6.0" text-anchor="middle" fill="#ee6a4e" stroke="#ee6a4e" stroke-width="0.1">y = 0.696 x + 1.29</text>
<text x="95.6" y="522.80" font-size="6.0" text-anchor="middle" fill="#ee6a4e" stroke="#ee6a4e" stroke-width="0.1">R<tspan font-size="4" dy="-2.2">2</tspan><tspan dy="2.2">=</tspan>0.555</text>
<clipPath id="cb5"><rect x="141.5" y="424.5" width="102.00" height="100.50"/></clipPath>
<g clip-path="url(#cb5)">
<circle cx="226.9" cy="428.6" r="2.3" fill="#3862de" stroke="#222" stroke-width="0.7"/>
<circle cx="224.1" cy="433.3" r="2.3" fill="#3862de" stroke="#222" stroke-width="0.7"/>
<circle cx="212.7" cy="433.5" r="2.3" fill="#3862de" stroke="#222" stroke-width="0.7"/>
<circle cx="213.4" cy="437.8" r="2.3" fill="#3862de" stroke="#222" stroke-width="0.7"/>
<circle cx="208.4" cy="439.2" r="2.3" fill="#3862de" stroke="#222" stroke-width="0.7"/>
<circle cx="226.9" cy="440.0" r="2.3" fill="#f25c3a" stroke="#222" stroke-width="0.7"/>
<circle cx="225.5" cy="444.2" r="2.3" fill="#3862de" stroke="#222" stroke-width="0.7"/>
<circle cx="203.4" cy="444.2" r="2.3" fill="#3862de" stroke="#222" stroke-width="0.7"/>
<circle cx="203.4" cy="447.1" r="2.3" fill="#3862de" stroke="#222" stroke-width="0.7"/>
<circle cx="212.7" cy="446.4" r="2.3" fill="#f25c3a" stroke="#222" stroke-width="0.7"/>
<circle cx="221.9" cy="446.4" r="2.3" fill="#f25c3a" stroke="#222" stroke-width="0.7"/>
<circle cx="224.1" cy="447.8" r="2.3" fill="#f25c3a" stroke="#222" stroke-width="0.7"/>
<circle cx="226.2" cy="449.2" r="2.3" fill="#f25c3a" stroke="#222" stroke-width="0.7"/>
<circle cx="196.3" cy="448.5" r="2.3" fill="#3862de" stroke="#222" stroke-width="0.7"/>
<circle cx="195.6" cy="452.1" r="2.3" fill="#f25c3a" stroke="#222" stroke-width="0.7"/>
<circle cx="199.1" cy="452.8" r="2.3" fill="#f25c3a" stroke="#222" stroke-width="0.7"/>
<circle cx="204.8" cy="449.9" r="2.3" fill="#3862de" stroke="#222" stroke-width="0.7"/>
<circle cx="208.4" cy="452.1" r="2.3" fill="#f25c3a" stroke="#222" stroke-width="0.7"/>
<circle cx="213.4" cy="450.6" r="2.3" fill="#f25c3a" stroke="#222" stroke-width="0.7"/>
<circle cx="218.4" cy="451.4" r="2.3" fill="#3862de" stroke="#222" stroke-width="0.7"/>
<circle cx="221.9" cy="450.6" r="2.3" fill="#3862de" stroke="#222" stroke-width="0.7"/>
<circle cx="216.9" cy="453.5" r="2.3" fill="#f25c3a" stroke="#222" stroke-width="0.7"/>
<circle cx="196.3" cy="455.6" r="2.3" fill="#f25c3a" stroke="#222" stroke-width="0.7"/>
<circle cx="200.5" cy="454.9" r="2.3" fill="#f25c3a" stroke="#222" stroke-width="0.7"/>
<circle cx="204.1" cy="455.6" r="2.3" fill="#f25c3a" stroke="#222" stroke-width="0.7"/>
<circle cx="210.5" cy="455.6" r="2.3" fill="#f25c3a" stroke="#222" stroke-width="0.7"/>
<circle cx="233.3" cy="454.9" r="2.3" fill="#3862de" stroke="#222" stroke-width="0.7"/>
<circle cx="237.6" cy="453.5" r="2.3" fill="#f25c3a" stroke="#222" stroke-width="0.7"/>
<circle cx="234.0" cy="457.8" r="2.3" fill="#f25c3a" stroke="#222" stroke-width="0.7"/>
<circle cx="194.1" cy="459.2" r="2.3" fill="#f25c3a" stroke="#222" stroke-width="0.7"/>
<circle cx="199.1" cy="459.9" r="2.3" fill="#f25c3a" stroke="#222" stroke-width="0.7"/>
<circle cx="202.7" cy="459.2" r="2.3" fill="#f25c3a" stroke="#222" stroke-width="0.7"/>
<circle cx="206.2" cy="457.8" r="2.3" fill="#f25c3a" stroke="#222" stroke-width="0.7"/>
<circle cx="214.8" cy="458.5" r="2.3" fill="#3862de" stroke="#222" stroke-width="0.7"/>
<circle cx="219.1" cy="458.5" r="2.3" fill="#f25c3a" stroke="#222" stroke-width="0.7"/>
<circle cx="222.6" cy="458.5" r="2.3" fill="#f25c3a" stroke="#222" stroke-width="0.7"/>
<circle cx="226.2" cy="458.5" r="2.3" fill="#f25c3a" stroke="#222" stroke-width="0.7"/>
<circle cx="197.0" cy="462.0" r="2.3" fill="#f25c3a" stroke="#222" stroke-width="0.7"/>
<circle cx="200.5" cy="462.0" r="2.3" fill="#3862de" stroke="#222" stroke-width="0.7"/>
<circle cx="205.5" cy="463.5" r="2.3" fill="#f25c3a" stroke="#222" stroke-width="0.7"/>
<circle cx="209.1" cy="463.5" r="2.3" fill="#f25c3a" stroke="#222" stroke-width="0.7"/>
<circle cx="213.4" cy="462.7" r="2.3" fill="#f25c3a" stroke="#222" stroke-width="0.7"/>
<circle cx="216.2" cy="464.2" r="2.3" fill="#f25c3a" stroke="#222" stroke-width="0.7"/>
<circle cx="219.1" cy="462.7" r="2.3" fill="#f25c3a" stroke="#222" stroke-width="0.7"/>
<circle cx="222.6" cy="462.7" r="2.3" fill="#f25c3a" stroke="#222" stroke-width="0.7"/>
<circle cx="192.7" cy="463.5" r="2.3" fill="#f25c3a" stroke="#222" stroke-width="0.7"/>
<circle cx="211.2" cy="465.6" r="2.3" fill="#f25c3a" stroke="#222" stroke-width="0.7"/>
<circle cx="215.5" cy="467.7" r="2.3" fill="#f25c3a" stroke="#222" stroke-width="0.7"/>
<circle cx="219.8" cy="465.6" r="2.3" fill="#f25c3a" stroke="#222" stroke-width="0.7"/>
<circle cx="236.9" cy="461.8" r="2.3" fill="#3862de" stroke="#222" stroke-width="0.7"/>
<circle cx="237.5" cy="460.8" r="2.3" fill="#f25c3a" stroke="#222" stroke-width="0.7"/>
<circle cx="199.8" cy="469.9" r="2.3" fill="#3862de" stroke="#222" stroke-width="0.7"/>
<circle cx="204.1" cy="469.2" r="2.3" fill="#3862de" stroke="#222" stroke-width="0.7"/>
<circle cx="204.1" cy="471.3" r="2.3" fill="#f25c3a" stroke="#222" stroke-width="0.7"/>
<circle cx="195.6" cy="472.0" r="2.3" fill="#3862de" stroke="#222" stroke-width="0.7"/>
<circle cx="200.5" cy="473.4" r="2.3" fill="#f25c3a" stroke="#222" stroke-width="0.7"/>
<circle cx="212.0" cy="473.4" r="2.3" fill="#f25c3a" stroke="#222" stroke-width="0.7"/>
<circle cx="220.5" cy="472.7" r="2.3" fill="#f25c3a" stroke="#222" stroke-width="0.7"/>
<circle cx="225.5" cy="473.4" r="2.3" fill="#3862de" stroke="#222" stroke-width="0.7"/>
<circle cx="236.9" cy="472.0" r="2.3" fill="#3862de" stroke="#222" stroke-width="0.7"/>
<circle cx="226.9" cy="474.9" r="2.3" fill="#f25c3a" stroke="#222" stroke-width="0.7"/>
<circle cx="239.0" cy="475.6" r="2.3" fill="#f25c3a" stroke="#222" stroke-width="0.7"/>
<circle cx="212.0" cy="474.9" r="2.3" fill="#3862de" stroke="#222" stroke-width="0.7"/>
<circle cx="192.0" cy="472.7" r="2.3" fill="#f25c3a" stroke="#222" stroke-width="0.7"/>
<circle cx="189.4" cy="466.4" r="2.3" fill="#3862de" stroke="#222" stroke-width="0.7"/>
<circle cx="183.0" cy="466.4" r="2.3" fill="#f25c3a" stroke="#222" stroke-width="0.7"/>
<circle cx="182.3" cy="468.5" r="2.3" fill="#f25c3a" stroke="#222" stroke-width="0.7"/>
<circle cx="181.6" cy="470.6" r="2.3" fill="#3862de" stroke="#222" stroke-width="0.7"/>
<circle cx="187.3" cy="471.3" r="2.3" fill="#f25c3a" stroke="#222" stroke-width="0.7"/>
<circle cx="190.1" cy="470.6" r="2.3" fill="#f25c3a" stroke="#222" stroke-width="0.7"/>
<circle cx="175.9" cy="472.8" r="2.3" fill="#3862de" stroke="#222" stroke-width="0.7"/>
<circle cx="183.0" cy="474.2" r="2.3" fill="#f25c3a" stroke="#222" stroke-width="0.7"/>
<circle cx="188.0" cy="474.2" r="2.3" fill="#f25c3a" stroke="#222" stroke-width="0.7"/>
<circle cx="190.1" cy="476.3" r="2.3" fill="#f25c3a" stroke="#222" stroke-width="0.7"/>
<circle cx="165.9" cy="478.5" r="2.3" fill="#f25c3a" stroke="#222" stroke-width="0.7"/>
<circle cx="175.9" cy="479.9" r="2.3" fill="#f25c3a" stroke="#222" stroke-width="0.7"/>
<circle cx="183.7" cy="483.4" r="2.3" fill="#3862de" stroke="#222" stroke-width="0.7"/>
<circle cx="150.3" cy="488.4" r="2.3" fill="#f25c3a" stroke="#222" stroke-width="0.7"/>
<circle cx="168.8" cy="486.3" r="2.3" fill="#3862de" stroke="#222" stroke-width="0.7"/>
<circle cx="170.2" cy="489.9" r="2.3" fill="#3862de" stroke="#222" stroke-width="0.7"/>
<circle cx="184.4" cy="489.1" r="2.3" fill="#f25c3a" stroke="#222" stroke-width="0.7"/>
<circle cx="169.5" cy="495.4" r="2.3" fill="#f25c3a" stroke="#222" stroke-width="0.7"/>
<circle cx="150.7" cy="499.4" r="2.3" fill="#3862de" stroke="#222" stroke-width="0.7"/>
<circle cx="153.8" cy="516.5" r="2.3" fill="#3862de" stroke="#222" stroke-width="0.7"/>
<circle cx="153.1" cy="511.7" r="2.3" fill="#f25c3a" stroke="#222" stroke-width="0.7"/>
<circle cx="153.8" cy="515.5" r="2.3" fill="#f25c3a" stroke="#222" stroke-width="0.7"/>
<circle cx="146.0" cy="520.3" r="2.3" fill="#f25c3a" stroke="#222" stroke-width="0.7"/>
<circle cx="183.0" cy="474.7" r="2.3" fill="#f25c3a" stroke="#222" stroke-width="0.7"/>
<circle cx="207.1" cy="473.6" r="2.3" fill="#f25c3a" stroke="#222" stroke-width="0.7"/>
<circle cx="212.1" cy="475.0" r="2.3" fill="#3862de" stroke="#222" stroke-width="0.7"/>
<circle cx="190.7" cy="476.4" r="2.3" fill="#f25c3a" stroke="#222" stroke-width="0.7"/>
<circle cx="194.3" cy="479.3" r="2.3" fill="#f25c3a" stroke="#222" stroke-width="0.7"/>
<circle cx="194.3" cy="482.1" r="2.3" fill="#3862de" stroke="#222" stroke-width="0.7"/>
<circle cx="203.5" cy="480.0" r="2.3" fill="#f25c3a" stroke="#222" stroke-width="0.7"/>
<circle cx="207.8" cy="478.5" r="2.3" fill="#3862de" stroke="#222" stroke-width="0.7"/>
<circle cx="215.6" cy="480.0" r="2.3" fill="#3862de" stroke="#222" stroke-width="0.7"/>
<circle cx="204.2" cy="484.2" r="2.3" fill="#3862de" stroke="#222" stroke-width="0.7"/>
<circle cx="210.7" cy="483.5" r="2.3" fill="#3862de" stroke="#222" stroke-width="0.7"/>
<circle cx="215.6" cy="483.5" r="2.3" fill="#f25c3a" stroke="#222" stroke-width="0.7"/>
<circle cx="238.4" cy="485.0" r="2.3" fill="#3862de" stroke="#222" stroke-width="0.7"/>
<circle cx="198.5" cy="488.5" r="2.3" fill="#f25c3a" stroke="#222" stroke-width="0.7"/>
<circle cx="203.5" cy="487.8" r="2.3" fill="#f25c3a" stroke="#222" stroke-width="0.7"/>
<circle cx="208.5" cy="488.5" r="2.3" fill="#f25c3a" stroke="#222" stroke-width="0.7"/>
<circle cx="206.4" cy="490.7" r="2.3" fill="#f25c3a" stroke="#222" stroke-width="0.7"/>
<circle cx="217.1" cy="488.5" r="2.3" fill="#f25c3a" stroke="#222" stroke-width="0.7"/>
<circle cx="224.9" cy="487.1" r="2.3" fill="#f25c3a" stroke="#222" stroke-width="0.7"/>
<circle cx="224.9" cy="491.4" r="2.3" fill="#3862de" stroke="#222" stroke-width="0.7"/>
<circle cx="216.4" cy="492.1" r="2.3" fill="#f25c3a" stroke="#222" stroke-width="0.7"/>
<circle cx="218.5" cy="491.4" r="2.3" fill="#f25c3a" stroke="#222" stroke-width="0.7"/>
<circle cx="210.7" cy="494.2" r="2.3" fill="#f25c3a" stroke="#222" stroke-width="0.7"/>
<circle cx="208.5" cy="497.1" r="2.3" fill="#f25c3a" stroke="#222" stroke-width="0.7"/>
<circle cx="212.8" cy="498.5" r="2.3" fill="#f25c3a" stroke="#222" stroke-width="0.7"/>
<circle cx="212.1" cy="499.9" r="2.3" fill="#f25c3a" stroke="#222" stroke-width="0.7"/>
<circle cx="215.6" cy="502.1" r="2.3" fill="#f25c3a" stroke="#222" stroke-width="0.7"/>
<circle cx="227.0" cy="497.1" r="2.3" fill="#3862de" stroke="#222" stroke-width="0.7"/>
<circle cx="224.9" cy="499.2" r="2.3" fill="#f25c3a" stroke="#222" stroke-width="0.7"/>
<circle cx="229.2" cy="499.9" r="2.3" fill="#f25c3a" stroke="#222" stroke-width="0.7"/>
<circle cx="224.9" cy="502.8" r="2.3" fill="#f25c3a" stroke="#222" stroke-width="0.7"/>
<circle cx="195.7" cy="502.8" r="2.3" fill="#f25c3a" stroke="#222" stroke-width="0.7"/>
<circle cx="206.4" cy="503.5" r="2.3" fill="#3862de" stroke="#222" stroke-width="0.7"/>
<circle cx="208.5" cy="507.7" r="2.3" fill="#3862de" stroke="#222" stroke-width="0.7"/>
<circle cx="212.8" cy="507.7" r="2.3" fill="#3862de" stroke="#222" stroke-width="0.7"/>
<circle cx="216.4" cy="509.2" r="2.3" fill="#3862de" stroke="#222" stroke-width="0.7"/>
<circle cx="218.5" cy="506.3" r="2.3" fill="#3862de" stroke="#222" stroke-width="0.7"/>
<circle cx="198.5" cy="507.7" r="2.3" fill="#f25c3a" stroke="#222" stroke-width="0.7"/>
<circle cx="195.7" cy="509.2" r="2.3" fill="#3862de" stroke="#222" stroke-width="0.7"/>
<circle cx="224.9" cy="508.5" r="2.3" fill="#3862de" stroke="#222" stroke-width="0.7"/>
<circle cx="229.2" cy="508.5" r="2.3" fill="#3862de" stroke="#222" stroke-width="0.7"/>
<circle cx="211.4" cy="509.9" r="2.3" fill="#3862de" stroke="#222" stroke-width="0.7"/>
<line x1="-55.10" y1="636.05" x2="972.10" y2="-22.75" stroke="#2a2a2a" stroke-width="1.05" stroke-dasharray="2.6,2.0"/>
<line x1="146.06" y1="493.27" x2="238.94" y2="464.20" stroke="#3862de" stroke-width="1.45"/>
<line x1="146.06" y1="494.74" x2="238.94" y2="463.17" stroke="#f25c3a" stroke-width="1.45"/>
<text transform="translate(158.4,502.1) rotate(-32.7)" font-size="5.6" text-anchor="middle" dominant-baseline="central" fill="#333" stroke="#333" stroke-width="0.15">1:1</text>
</g>
<rect x="141.5" y="424.5" width="102.00" height="100.50" fill="none" stroke="#5a5a5a" stroke-width="1"/>
<line x1="158.90" y1="525.0" x2="158.90" y2="527.20" stroke="#5a5a5a" stroke-width="0.9"/>
<text transform="translate(158.90,534.10) scale(0.83,1)" font-size="8.4" text-anchor="middle" fill="#2e2e2e" stroke="#2e2e2e" stroke-width="0.22">1</text>
<line x1="201.70" y1="525.0" x2="201.70" y2="527.20" stroke="#5a5a5a" stroke-width="0.9"/>
<text transform="translate(201.70,534.10) scale(0.83,1)" font-size="8.4" text-anchor="middle" fill="#2e2e2e" stroke="#2e2e2e" stroke-width="0.22">2</text>
<line x1="139.30" y1="498.80" x2="141.5" y2="498.80" stroke="#5a5a5a" stroke-width="0.9"/>
<text transform="translate(137.80,501.40) scale(0.83,1)" font-size="8.4" text-anchor="end" fill="#2e2e2e" stroke="#2e2e2e" stroke-width="0.22">1</text>
<line x1="139.30" y1="471.35" x2="141.5" y2="471.35" stroke="#5a5a5a" stroke-width="0.9"/>
<text transform="translate(137.80,473.95) scale(0.83,1)" font-size="8.4" text-anchor="end" fill="#2e2e2e" stroke="#2e2e2e" stroke-width="0.22">2</text>
<line x1="139.30" y1="443.90" x2="141.5" y2="443.90" stroke="#5a5a5a" stroke-width="0.9"/>
<text transform="translate(137.80,446.50) scale(0.83,1)" font-size="8.4" text-anchor="end" fill="#2e2e2e" stroke="#2e2e2e" stroke-width="0.22">3</text>
<text x="192.50" y="420.60" font-size="8.3" text-anchor="middle" fill="#1a1a1a" stroke="#1a1a1a" stroke-width="0.25">SfPm</text>
<text x="171.2" y="436.30" font-size="6.0" text-anchor="middle" fill="#4a72da" stroke="#4a72da" stroke-width="0.1">y = 0.488 x + 0.860</text>
<text x="171.2" y="444.00" font-size="6.0" text-anchor="middle" fill="#4a72da" stroke="#4a72da" stroke-width="0.1">R<tspan font-size="4" dy="-2.2">2</tspan><tspan dy="2.2">=</tspan>0.070</text>
<text x="215.0" y="517.40" font-size="6.0" text-anchor="middle" fill="#ee6a4e" stroke="#ee6a4e" stroke-width="0.1">y = 0.530 x + 0.777</text>
<text x="215.0" y="523.60" font-size="6.0" text-anchor="middle" fill="#ee6a4e" stroke="#ee6a4e" stroke-width="0.1">R<tspan font-size="4" dy="-2.2">2</tspan><tspan dy="2.2">=</tspan>0.129</text>
<text x="5.9" y="11.0" font-size="12.3" fill="#222" stroke="#222" stroke-width="0.2">(a)</text>
<text x="8.3" y="285.5" font-size="12.3" fill="#222" stroke="#222" stroke-width="0.2">(b)</text>
<text transform="translate(10.8,132.6) rotate(-90)" font-size="8.5" text-anchor="middle" fill="#1a1a1a" stroke="#1a1a1a" stroke-width="0.2">Estimated <tspan font-style="italic">ET</tspan>&#160;&#160;by SW model (mm day<tspan font-size="5.5" dy="-3">−1</tspan><tspan dy="3">)</tspan></text>
<text transform="translate(10.8,408.8) rotate(-90)" font-size="8.5" text-anchor="middle" fill="#1a1a1a" stroke="#1a1a1a" stroke-width="0.2">Estimated <tspan font-style="italic">ET</tspan>&#160;&#160;by PM model (mm day<tspan font-size="5.5" dy="-3">−1</tspan><tspan dy="3">)</tspan></text>
<text x="193" y="269.0" font-size="8.4" text-anchor="middle" fill="#1a1a1a" stroke="#1a1a1a" stroke-width="0.2">Observed <tspan font-style="italic" letter-spacing="0.6">ET</tspan> (mm day<tspan font-size="5.5" dy="-3">−1</tspan><tspan dy="3">)</tspan></text>
<text x="193" y="546.2" font-size="8.4" text-anchor="middle" fill="#1a1a1a" stroke="#1a1a1a" stroke-width="0.2">Observed <tspan font-style="italic" letter-spacing="0.6">ET</tspan> (mm day<tspan font-size="5.5" dy="-3">−1</tspan><tspan dy="3">)</tspan></text>
<text x="282.40" y="183.2" font-size="11" fill="#222" stroke="#222" stroke-width="0.15">SW model</text>
<line x1="292.00" y1="195.40" x2="301.20" y2="195.40" stroke="#3862de" stroke-width="1.1"/>
<circle cx="296.60" cy="195.40" r="1.5" fill="#3862de" stroke="#333" stroke-width="0.4"/>
<text x="311.00" y="198.40" font-size="8.3" fill="#222" stroke="#222" stroke-width="0.1">SB</text>
<line x1="292.00" y1="207.80" x2="301.20" y2="207.80" stroke="#f25c3a" stroke-width="1.1"/>
<circle cx="296.60" cy="207.80" r="1.5" fill="#f25c3a" stroke="#333" stroke-width="0.4"/>
<text x="311.00" y="210.80" font-size="8.3" fill="#222" stroke="#222" stroke-width="0.1">HB</text>
<text x="284.70" y="460.7" font-size="11" fill="#222" stroke="#222" stroke-width="0.15">PM model</text>
<line x1="294.30" y1="472.90" x2="303.50" y2="472.90" stroke="#3862de" stroke-width="1.1"/>
<circle cx="298.90" cy="472.90" r="1.5" fill="#3862de" stroke="#333" stroke-width="0.4"/>
<text x="313.30" y="475.90" font-size="8.3" fill="#222" stroke="#222" stroke-width="0.1">SB</text>
<line x1="294.30" y1="485.30" x2="303.50" y2="485.30" stroke="#f25c3a" stroke-width="1.1"/>
<circle cx="298.90" cy="485.30" r="1.5" fill="#f25c3a" stroke="#333" stroke-width="0.4"/>
<text x="313.30" y="488.30" font-size="8.3" fill="#222" stroke="#222" stroke-width="0.1">HB</text>
</svg></body></html>
